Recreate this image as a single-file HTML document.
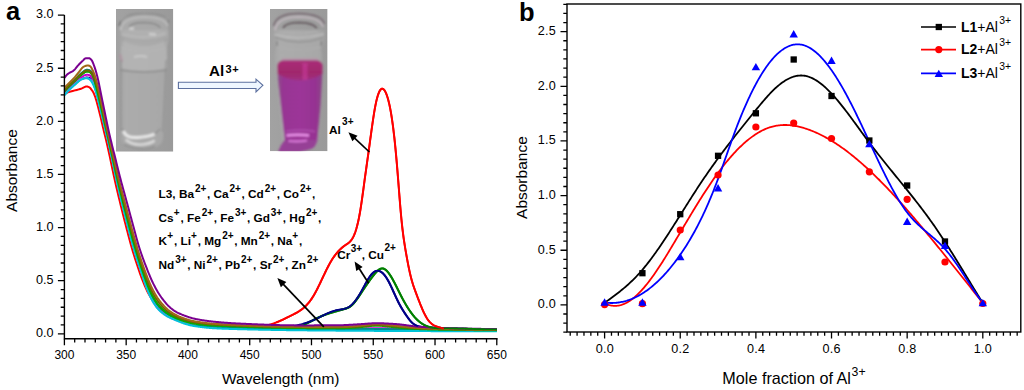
<!DOCTYPE html>
<html><head><meta charset="utf-8"><style>
html,body{margin:0;padding:0;background:#fff;width:1024px;height:390px;overflow:hidden}
svg{display:block}
text{font-family:"Liberation Sans",sans-serif;fill:#000}
.tk{font-size:12px}
.tky{font-size:12.6px}
.tkb{font-size:12.6px;letter-spacing:0.25px}
.axl{font-size:15.5px}
.axl2{font-size:16.2px}
.plab{font-size:25.5px;font-weight:bold}
.lg{font-size:14px}
.lsup{font-size:10.4px}
.sup2{font-size:12.3px}
.bl14{font-size:15.2px;font-weight:bold}
.bsup{font-size:11px;font-weight:bold;letter-spacing:0.6px}
.ion{font-size:11.8px;font-weight:bold}
.isup{font-size:10px}
</style></head><body>
<svg width="1024" height="390" viewBox="0 0 1024 390">
<rect width="1024" height="390" fill="#fff"/>
<defs>
<linearGradient id="bg1" x1="0" x2="1" y1="0" y2="0">
 <stop offset="0" stop-color="#a2a2a2"/><stop offset="0.5" stop-color="#9e9e9e"/><stop offset="1" stop-color="#9a9a9a"/>
</linearGradient>
<linearGradient id="gl1" x1="0" x2="1" y1="0" y2="0">
 <stop offset="0" stop-color="#a4a4a4"/><stop offset="0.12" stop-color="#acacac"/><stop offset="0.5" stop-color="#aaaaaa"/><stop offset="0.88" stop-color="#a8a8a8"/><stop offset="1" stop-color="#a0a0a0"/>
</linearGradient>
<linearGradient id="liq" x1="0" x2="1" y1="0" y2="0">
 <stop offset="0" stop-color="#8e4a8a"/><stop offset="0.15" stop-color="#983494"/><stop offset="0.5" stop-color="#9c3698"/><stop offset="0.85" stop-color="#963292"/><stop offset="1" stop-color="#8a4686"/>
</linearGradient>
<linearGradient id="men" x1="0" x2="0" y1="0" y2="1">
 <stop offset="0" stop-color="#aa2e78"/><stop offset="0.6" stop-color="#a0286c"/><stop offset="1" stop-color="#a03080"/>
</linearGradient>
<filter id="soft" x="-5%" y="-5%" width="110%" height="110%"><feGaussianBlur stdDeviation="0.8"/></filter>
<clipPath id="c1"><rect x="116" y="9" width="57.3" height="142.7"/></clipPath>
<clipPath id="c2"><rect x="270" y="9" width="57.6" height="142.3"/></clipPath>
</defs>
<g clip-path="url(#c1)">
<rect x="116" y="9" width="57.3" height="142.7" fill="url(#bg1)"/>
<g filter="url(#soft)">
<path d="M119.5,30 L119.5,40 Q121,45 121.5,48 L119.5,56 L121,138 Q122,149 143,149 Q162,149 163,138 L167,56 L165,48 Q168,45 169.5,40 L169.5,30 Z" fill="url(#gl1)"/>
<path d="M119.2,26 Q121,13.7 144.4,13.7 Q167,14 168.6,22.5" stroke="#6c6c6c" stroke-width="1.4" fill="none"/>
<path d="M120.5,30 Q122.5,17.5 144.4,17 Q165.5,17.5 167.5,26" stroke="#c8c8c8" stroke-width="1.6" fill="none"/>
<path d="M128.6,27.5 Q131,22.5 144.4,22.5 Q158,23 160.2,28" stroke="#5c5c5c" stroke-width="1.6" fill="none"/>
<path d="M129,30 Q144,35 160,30" stroke="#b4b4b4" stroke-width="1.2" fill="none"/>
<path d="M122.3,34.3 Q144.4,40 165.5,33.2" stroke="#c0c0c0" stroke-width="1.5" fill="none"/>
<path d="M120.5,37 Q144.4,46 167,37" stroke="#8a8a8a" stroke-width="1" fill="none"/>
<path d="M129,28.5 L134,28.5" stroke="#ececec" stroke-width="2.4" fill="none"/>
<path d="M149,34 L156,34.5" stroke="#e4e4e4" stroke-width="2.4" fill="none"/>
<path d="M122,40 L122.3,46 M165.5,40 L165.3,46" stroke="#7c7c7c" stroke-width="1.2" fill="none"/>
<path d="M121.5,48 Q144.8,55 165,48" stroke="#b0b0b0" stroke-width="1.2" fill="none"/>
<path d="M121,40 Q144,52 167,40 L167,68 Q144,74 121,68 Z" fill="#b6b6b6" opacity="0.7"/>
<path d="M121,18 Q144,8 168,18 L168,38 Q144,48 121,38 Z" fill="#b4b4b4" opacity="0.5"/>
<path d="M134,57 Q141,55 147,57" stroke="#c8c8c8" stroke-width="2" fill="none"/>
<path d="M120,54 L122,62" stroke="#b090a0" stroke-width="2.5" opacity="0.7"/>
<path d="M120,70 Q144,74 167,70" stroke="#8e8e8e" stroke-width="1.5" fill="none"/>
<path d="M121,60 L121,131" stroke="#8a8a8a" stroke-width="1"/>
<path d="M166,60 L162.5,132" stroke="#909090" stroke-width="1"/>
<path d="M122.6,128.5 Q124,138 142,137 Q156,136 160.3,128.5" stroke="#8c8c8c" stroke-width="1.2" fill="none"/>
<path d="M123.4,131 Q126,138.5 138,137.5 Q150,136.5 154.6,134" stroke="#e8e8e8" stroke-width="3" fill="none"/>
<path d="M125.8,139.7 Q132,145 141,144.6 Q150,144 154.6,140.5" stroke="#dcdcdc" stroke-width="2.4" fill="none"/>
<path d="M124.2,144.6 Q135,149 145,148.5 Q152,148 155,146" stroke="#8a8a8a" stroke-width="1.2" fill="none"/>
</g>
</g>
<g clip-path="url(#c2)">
<rect x="270" y="9" width="57.6" height="142.3" fill="url(#bg1)"/>
<g filter="url(#soft)">
<path d="M273.7,30 L273.7,40 Q275.5,45 276,48 L274.5,56 L283,140 Q286,150 300,150 Q315,150 318,140 L322.5,56 L321,48 Q324,45 324.5,40 L324.5,30 Z" fill="url(#gl1)"/>
<path d="M273.7,26 Q276,13.5 299,13.5 Q322,14 324.5,24" stroke="#74646e" stroke-width="1.4" fill="none"/>
<path d="M275,30 Q277.5,17 299,17 Q320.5,17.5 323,27" stroke="#c8bcc4" stroke-width="1.6" fill="none"/>
<path d="M283,28 Q286,22.5 299.5,22.5 Q314,23 316.8,28.5" stroke="#5e5258" stroke-width="1.6" fill="none"/>
<path d="M283,31 Q300,36 317,31" stroke="#b0b0b0" stroke-width="1.2" fill="none"/>
<path d="M274.5,34.5 Q299,41 324,34" stroke="#bcbcbc" stroke-width="1.5" fill="none"/>
<path d="M275,37.5 Q299,46.5 322.5,38" stroke="#8a8a8a" stroke-width="1" fill="none"/>
<path d="M276.8,41 L277,46 M321.4,41 L321.2,46" stroke="#7c7c7c" stroke-width="1.2" fill="none"/>
<path d="M276.8,47 Q299,53 321.4,47" stroke="#aeaeae" stroke-width="1.2" fill="none"/>
<path d="M277.4,66 Q277.6,60.5 284,60.5 L316,60.5 Q322.3,60.5 322.4,66 L322,80 L320.6,104 L317.2,141.6 Q312,145 300,145 Q289,145 284.9,141.6 L280.6,104 L277.8,80 Z" fill="url(#liq)"/>
<path d="M277.4,66 Q277.6,60.5 284,60.5 L316,60.5 Q322.3,60.5 322.4,66 L322.3,74 Q300,87 277.7,74 Z" fill="url(#men)"/>
<path d="M305,63 L305,80" stroke="#c83a9c" stroke-width="5" opacity="0.6"/>
<path d="M282,59 L318,59" stroke="#b890a8" stroke-width="1.5" opacity="0.8"/>
<path d="M284.5,140 L317.5,140 Q316,147 311,149 L300,152 L278,152 Q280,146 284.5,140 Z" fill="#964096"/>
<path d="M286,131.5 Q300,129 315,131.5" stroke="#b050b0" stroke-width="1.5" fill="none"/>
<path d="M286.5,135.5 Q298,134 309,135.5" stroke="#e890e8" stroke-width="2.6" fill="none"/>
<path d="M288.5,141 Q298,142 307,140.5" stroke="#d878d8" stroke-width="2.2" fill="none"/>
</g>
</g>

<path d="M64.40,94.09 L64.90,93.89 L65.40,93.59 L65.90,93.30 L66.40,93.03 L66.90,92.78 L67.40,92.55 L67.90,92.35 L68.40,92.16 L68.90,92.00 L69.40,91.85 L69.90,91.71 L70.40,91.57 L70.90,91.44 L71.40,91.31 L71.90,91.17 L72.40,91.04 L72.90,90.91 L73.40,90.78 L73.90,90.65 L74.40,90.53 L74.90,90.40 L75.40,90.28 L75.90,90.16 L76.40,90.03 L76.90,89.91 L77.40,89.78 L77.90,89.65 L78.40,89.52 L78.90,89.38 L79.40,89.23 L79.90,89.08 L80.40,88.93 L80.90,88.75 L81.40,88.54 L81.90,88.31 L82.40,88.06 L82.90,87.80 L83.40,87.54 L83.90,87.29 L84.40,87.06 L84.90,86.86 L85.40,86.70 L85.90,86.58 L86.40,86.53 L86.90,86.53 L87.40,86.59 L87.90,86.70 L88.40,86.85 L88.90,87.04 L89.40,87.30 L89.90,87.69 L90.40,88.21 L90.90,88.84 L91.40,89.56 L91.90,90.25 L92.40,90.94 L92.90,91.67 L93.40,92.55 L93.90,93.60 L94.40,94.78 L94.90,96.09 L95.40,97.53 L95.90,99.09 L96.40,100.77 L96.90,102.55 L97.40,104.39 L97.90,106.28 L98.40,108.21 L98.90,110.17 L99.40,112.18 L99.90,114.22 L100.40,116.29 L100.90,118.39 L101.40,120.52 L101.90,122.67 L102.40,124.83 L102.90,126.97 L103.40,129.09 L103.90,131.17 L104.40,133.21 L104.90,135.24 L105.40,137.27 L105.90,139.33 L106.40,141.42 L106.90,143.57 L107.40,145.76 L107.90,147.99 L108.40,150.25 L108.90,152.52 L109.40,154.82 L109.90,157.13 L110.40,159.47 L110.90,161.83 L111.40,164.21 L111.90,166.60 L112.40,169.00 L112.90,171.38 L113.40,173.74 L113.90,176.07 L114.40,178.35 L114.90,180.60 L115.40,182.81 L115.90,185.00 L116.40,187.17 L116.90,189.31 L117.40,191.44 L117.90,193.55 L118.40,195.65 L118.90,197.74 L119.40,199.81 L119.90,201.88 L120.40,203.93 L120.90,205.97 L121.40,208.00 L121.90,210.01 L122.40,212.02 L122.90,214.01 L123.40,216.00 L123.90,217.97 L124.40,219.93 L124.90,221.89 L125.40,223.83 L125.90,225.77 L126.40,227.71 L126.90,229.64 L127.40,231.57 L127.90,233.49 L128.40,235.40 L128.90,237.30 L129.40,239.18 L129.90,241.04 L130.40,242.88 L130.90,244.70 L131.40,246.48 L131.90,248.23 L132.40,249.95 L132.90,251.64 L133.40,253.30 L133.90,254.93 L134.40,256.54 L134.90,258.12 L135.40,259.69 L135.90,261.23 L136.40,262.77 L136.90,264.29 L137.40,265.80 L137.90,267.30 L138.40,268.80 L138.90,270.30 L139.40,271.81 L139.90,273.26 L140.40,274.66 L140.90,275.99 L141.40,277.31 L141.90,278.62 L142.40,279.91 L142.90,281.19 L143.40,282.44 L143.90,283.68 L144.40,284.88 L144.90,286.06 L145.40,287.21 L145.90,288.32 L146.40,289.40 L146.90,290.45 L147.40,291.47 L147.90,292.46 L148.40,293.42 L148.90,294.34 L149.40,295.22 L149.90,296.06 L150.40,296.87 L150.90,297.65 L151.40,298.39 L151.90,299.11 L152.40,299.81 L152.90,300.49 L153.40,301.14 L153.90,301.77 L154.40,302.38 L154.90,302.96 L155.40,303.52 L155.90,304.06 L156.40,304.57 L156.90,305.07 L157.40,305.54 L157.90,306.00 L158.40,306.45 L158.90,306.88 L159.40,307.30 L159.90,307.70 L160.40,308.10 L160.90,308.49 L161.40,308.86 L161.90,309.23 L162.40,309.58 L162.90,309.93 L163.40,310.26 L163.90,310.59 L164.40,310.91 L164.90,311.23 L165.40,311.54 L165.90,311.84 L166.40,312.14 L166.90,312.42 L167.40,312.70 L167.90,312.98 L168.40,313.24 L168.90,313.49 L169.40,313.73 L169.90,313.97 L170.40,314.21 L170.90,314.44 L171.40,314.67 L171.90,314.89 L172.40,315.11 L172.90,315.32 L173.40,315.53 L173.90,315.74 L174.40,315.94 L174.90,316.14 L175.40,316.33 L175.90,316.51 L176.40,316.70 L176.90,316.87 L177.40,317.05 L177.90,317.22 L178.40,317.39 L178.90,317.55 L179.40,317.71 L179.90,317.88 L180.40,318.07 L180.90,318.27 L181.40,318.47 L181.90,318.67 L182.40,318.87 L182.90,319.05 L183.40,319.24 L183.90,319.42 L184.40,319.59 L184.90,319.77 L185.40,319.93 L185.90,320.10 L186.40,320.26 L186.90,320.43 L187.40,320.59 L187.90,320.74 L188.40,320.90 L188.90,321.05 L189.40,321.20 L189.90,321.34 L190.40,321.48 L190.90,321.62 L191.40,321.74 L191.90,321.87 L192.40,321.99 L192.90,322.10 L193.40,322.20 L193.90,322.30 L194.40,322.39 L194.90,322.48 L195.40,322.57 L195.90,322.66 L196.40,322.75 L196.90,322.84 L197.40,322.92 L197.90,323.00 L198.40,323.09 L198.90,323.17 L199.40,323.24 L199.90,323.32 L200.40,323.40 L200.90,323.47 L201.40,323.55 L201.90,323.62 L202.40,323.69 L202.90,323.76 L203.40,323.83 L203.90,323.89 L204.40,323.96 L204.90,324.02 L205.40,324.09 L205.90,324.15 L206.40,324.21 L206.90,324.27 L207.40,324.33 L207.90,324.38 L208.40,324.44 L208.90,324.49 L209.40,324.54 L209.90,324.60 L210.40,324.65 L210.90,324.69 L211.40,324.74 L211.90,324.79 L212.40,324.83 L212.90,324.88 L213.40,324.92 L213.90,324.96 L214.40,325.00 L214.90,325.04 L215.40,325.08 L215.90,325.12 L216.40,325.16 L216.90,325.19 L217.40,325.23 L217.90,325.26 L218.40,325.30 L218.90,325.33 L219.40,325.37 L219.90,325.40 L220.40,325.43 L220.90,325.47 L221.40,325.50 L221.90,325.53 L222.40,325.56 L222.90,325.59 L223.40,325.62 L223.90,325.65 L224.40,325.68 L224.90,325.71 L225.40,325.74 L225.90,325.77 L226.40,325.80 L226.90,325.82 L227.40,325.85 L227.90,325.88 L228.40,325.90 L228.90,325.93 L229.40,325.95 L229.90,325.98 L230.40,326.00 L230.90,326.03 L231.40,326.05 L231.90,326.07 L232.40,326.10 L232.90,326.12 L233.40,326.14 L233.90,326.16 L234.40,326.18 L234.90,326.20 L235.40,326.22 L235.90,326.25 L236.40,326.27 L236.90,326.28 L237.40,326.30 L237.90,326.32 L238.40,326.34 L238.90,326.36 L239.40,326.38 L239.90,326.40 L240.40,326.41 L240.90,326.43 L241.40,326.45 L241.90,326.47 L242.40,326.48 L242.90,326.50 L243.40,326.52 L243.90,326.54 L244.40,326.55 L244.90,326.57 L245.40,326.59 L245.90,326.61 L246.40,326.62 L246.90,326.64 L247.40,326.66 L247.90,326.67 L248.40,326.69 L248.90,326.71 L249.40,326.72 L249.90,326.73 L250.40,326.73 L250.90,326.72 L251.40,326.71 L251.90,326.71 L252.40,326.71 L252.90,326.71 L253.40,326.72 L253.90,326.73 L254.40,326.74 L254.90,326.75 L255.40,326.76 L255.90,326.76 L256.40,326.77 L256.90,326.77 L257.40,326.77 L257.90,326.76 L258.40,326.75 L258.90,326.74 L259.40,326.71 L259.90,326.68 L260.40,326.65 L260.90,326.60 L261.40,326.55 L261.90,326.48 L262.40,326.41 L262.90,326.32 L263.40,326.23 L263.90,326.12 L264.40,326.00 L264.90,325.89 L265.40,325.77 L265.90,325.67 L266.40,325.56 L266.90,325.45 L267.40,325.33 L267.90,325.21 L268.40,325.08 L268.90,324.95 L269.40,324.81 L269.90,324.66 L270.40,324.51 L270.90,324.36 L271.40,324.20 L271.90,324.04 L272.40,323.88 L272.90,323.71 L273.40,323.53 L273.90,323.35 L274.40,323.17 L274.90,322.98 L275.40,322.79 L275.90,322.60 L276.40,322.40 L276.90,322.20 L277.40,322.00 L277.90,321.79 L278.40,321.59 L278.90,321.37 L279.40,321.16 L279.90,320.94 L280.40,320.72 L280.90,320.50 L281.40,320.27 L281.90,320.04 L282.40,319.81 L282.90,319.58 L283.40,319.35 L283.90,319.11 L284.40,318.88 L284.90,318.64 L285.40,318.40 L285.90,318.16 L286.40,317.91 L286.90,317.67 L287.40,317.42 L287.90,317.18 L288.40,316.93 L288.90,316.68 L289.40,316.43 L289.90,316.19 L290.40,315.94 L290.90,315.69 L291.40,315.44 L291.90,315.19 L292.40,314.94 L292.90,314.68 L293.40,314.43 L293.90,314.18 L294.40,313.92 L294.90,313.65 L295.40,313.39 L295.90,313.12 L296.40,312.84 L296.90,312.56 L297.40,312.27 L297.90,311.97 L298.40,311.67 L298.90,311.36 L299.40,311.04 L299.90,310.70 L300.40,310.36 L300.90,310.01 L301.40,309.65 L301.90,309.28 L302.40,308.89 L302.90,308.49 L303.40,308.08 L303.90,307.65 L304.40,307.20 L304.90,306.75 L305.40,306.27 L305.90,305.78 L306.40,305.27 L306.90,304.75 L307.40,304.20 L307.90,303.64 L308.40,303.05 L308.90,302.45 L309.40,301.83 L309.90,301.18 L310.40,300.51 L310.90,299.82 L311.40,299.11 L311.90,298.37 L312.40,297.61 L312.90,296.82 L313.40,296.01 L313.90,295.17 L314.40,294.31 L314.90,293.42 L315.40,292.51 L315.90,291.58 L316.40,290.63 L316.90,289.67 L317.40,288.68 L317.90,287.69 L318.40,286.68 L318.90,285.65 L319.40,284.62 L319.90,283.58 L320.40,282.53 L320.90,281.48 L321.40,280.42 L321.90,279.36 L322.40,278.29 L322.90,277.23 L323.40,276.17 L323.90,275.11 L324.40,274.06 L324.90,273.02 L325.40,271.98 L325.90,270.95 L326.40,269.93 L326.90,268.92 L327.40,267.93 L327.90,266.95 L328.40,265.99 L328.90,265.05 L329.40,264.12 L329.90,263.22 L330.40,262.34 L330.90,261.48 L331.40,260.65 L331.90,259.84 L332.40,259.05 L332.90,258.29 L333.40,257.54 L333.90,256.82 L334.40,256.12 L334.90,255.43 L335.40,254.77 L335.90,254.13 L336.40,253.51 L336.90,252.90 L337.40,252.32 L337.90,251.75 L338.40,251.20 L338.90,250.67 L339.40,250.15 L339.90,249.65 L340.40,249.16 L340.90,248.70 L341.40,248.24 L341.90,247.80 L342.40,247.38 L342.90,246.97 L343.40,246.57 L343.90,246.18 L344.40,245.81 L344.90,245.45 L345.40,245.10 L345.90,244.76 L346.40,244.43 L346.90,244.10 L347.40,243.76 L347.90,243.40 L348.40,243.03 L348.90,242.63 L349.40,242.19 L349.90,241.71 L350.40,241.19 L350.90,240.60 L351.40,239.96 L351.90,239.25 L352.40,238.46 L352.90,237.58 L353.40,236.62 L353.90,235.56 L354.40,234.40 L354.90,233.12 L355.40,231.73 L355.90,230.21 L356.40,228.57 L356.90,226.78 L357.40,224.85 L357.90,222.76 L358.40,220.52 L358.90,218.11 L359.40,215.52 L359.90,212.76 L360.40,209.81 L360.90,206.67 L361.40,203.37 L361.90,199.93 L362.40,196.38 L362.90,192.74 L363.40,189.05 L363.90,185.34 L364.40,181.64 L364.90,177.97 L365.40,174.35 L365.90,170.79 L366.40,167.25 L366.90,163.73 L367.40,160.21 L367.90,156.67 L368.40,153.10 L368.90,149.48 L369.40,145.83 L369.90,142.14 L370.40,138.45 L370.90,134.77 L371.40,131.13 L371.90,127.53 L372.40,124.02 L372.90,120.59 L373.40,117.28 L373.90,114.10 L374.40,111.07 L374.90,108.22 L375.40,105.56 L375.90,103.11 L376.40,100.85 L376.90,98.80 L377.40,96.95 L377.90,95.30 L378.40,93.84 L378.90,92.57 L379.40,91.48 L379.90,90.58 L380.40,89.86 L380.90,89.31 L381.40,88.94 L381.90,88.75 L382.40,88.71 L382.90,88.85 L383.40,89.14 L383.90,89.59 L384.40,90.20 L384.90,90.95 L385.40,91.86 L385.90,92.91 L386.40,94.11 L386.90,95.45 L387.40,96.95 L387.90,98.61 L388.40,100.44 L388.90,102.44 L389.40,104.63 L389.90,107.01 L390.40,109.59 L390.90,112.37 L391.40,115.37 L391.90,118.58 L392.40,122.02 L392.90,125.70 L393.40,129.62 L393.90,133.78 L394.40,138.20 L394.90,142.89 L395.40,147.85 L395.90,153.08 L396.40,158.59 L396.90,164.37 L397.40,170.37 L397.90,176.56 L398.40,182.88 L398.90,189.28 L399.40,195.65 L399.90,201.92 L400.40,207.96 L400.90,213.68 L401.40,219.01 L401.90,223.90 L402.40,228.38 L402.90,232.49 L403.40,236.29 L403.90,239.82 L404.40,243.13 L404.90,246.27 L405.40,249.29 L405.90,252.23 L406.40,255.10 L406.90,257.89 L407.40,260.62 L407.90,263.26 L408.40,265.82 L408.90,268.28 L409.40,270.65 L409.90,272.92 L410.40,275.08 L410.90,277.13 L411.40,279.06 L411.90,280.88 L412.40,282.58 L412.90,284.19 L413.40,285.72 L413.90,287.19 L414.40,288.60 L414.90,289.98 L415.40,291.34 L415.90,292.69 L416.40,294.04 L416.90,295.39 L417.40,296.73 L417.90,298.06 L418.40,299.37 L418.90,300.68 L419.40,301.97 L419.90,303.25 L420.40,304.51 L420.90,305.74 L421.40,306.96 L421.90,308.15 L422.40,309.31 L422.90,310.44 L423.40,311.54 L423.90,312.61 L424.40,313.64 L424.90,314.64 L425.40,315.59 L425.90,316.50 L426.40,317.37 L426.90,318.20 L427.40,318.97 L427.90,319.70 L428.40,320.38 L428.90,321.01 L429.40,321.60 L429.90,322.14 L430.40,322.65 L430.90,323.12 L431.40,323.55 L431.90,323.95 L432.40,324.32 L432.90,324.66 L433.40,324.97 L433.90,325.26 L434.40,325.53 L434.90,325.78 L435.40,326.01 L435.90,326.22 L436.40,326.42 L436.90,326.61 L437.40,326.79 L437.90,326.96 L438.40,327.13 L438.90,327.29 L439.40,327.44 L439.90,327.59 L440.40,327.73 L440.90,327.86 L441.40,327.99 L441.90,328.11 L442.40,328.23 L442.90,328.34 L443.40,328.45 L443.90,328.55 L444.40,328.65 L444.90,328.74 L445.40,328.83 L445.90,328.91 L446.40,328.99 L446.90,329.06 L447.40,329.13 L447.90,329.19 L448.40,329.25 L448.90,329.31 L449.40,329.36 L449.90,329.41 L450.40,329.46 L450.90,329.50 L451.40,329.54 L451.90,329.57 L452.40,329.61 L452.90,329.64 L453.40,329.66 L453.90,329.69 L454.40,329.71 L454.90,329.73 L455.40,329.74 L455.90,329.76 L456.40,329.77 L456.90,329.78 L457.40,329.79 L457.90,329.80 L458.40,329.81 L458.90,329.81 L459.40,329.81 L459.90,329.82 L460.40,329.82 L460.90,329.82 L461.40,329.82 L461.90,329.81 L462.40,329.81 L462.90,329.81 L463.40,329.81 L463.90,329.80 L464.40,329.80 L464.90,329.80 L465.40,329.80 L465.90,329.79 L466.40,329.79 L466.90,329.79 L467.40,329.79 L467.90,329.79 L468.40,329.79 L468.90,329.80 L469.40,329.80 L469.90,329.81 L470.40,329.81 L470.90,329.82 L471.40,329.83 L471.90,329.84 L472.40,329.85 L472.90,329.87 L473.40,329.88 L473.90,329.90 L474.40,329.91 L474.90,329.93 L475.40,329.95 L475.90,329.97 L476.40,329.99 L476.90,330.01 L477.40,330.03 L477.90,330.05 L478.40,330.07 L478.90,330.09 L479.40,330.12 L479.90,330.14 L480.40,330.16 L480.90,330.18 L481.40,330.20 L481.90,330.23 L482.40,330.25 L482.90,330.27 L483.40,330.29 L483.90,330.31 L484.40,330.33 L484.90,330.35 L485.40,330.37 L485.90,330.39 L486.40,330.41 L486.90,330.43 L487.40,330.44 L487.90,330.46 L488.40,330.47 L488.90,330.49 L489.40,330.50 L489.90,330.51 L490.40,330.52 L490.90,330.53 L491.40,330.54 L491.90,330.54 L492.40,330.54 L492.90,330.55 L493.40,330.55 L493.90,330.54 L494.40,330.54 L494.90,330.54 L495.40,330.53 L495.90,330.52 L496.40,330.51 L496.90,330.50" stroke="#ff0000" stroke-width="2.0" fill="none"/>
<path d="M64.40,93.67 L64.90,93.35 L65.40,92.83 L65.90,92.26 L66.40,91.70 L66.90,91.15 L67.40,90.62 L67.90,90.10 L68.40,89.60 L68.90,89.11 L69.40,88.63 L69.90,88.17 L70.40,87.72 L70.90,87.29 L71.40,86.86 L71.90,86.44 L72.40,86.03 L72.90,85.62 L73.40,85.22 L73.90,84.82 L74.40,84.41 L74.90,84.00 L75.40,83.58 L75.90,83.16 L76.40,82.72 L76.90,82.29 L77.40,81.87 L77.90,81.45 L78.40,81.04 L78.90,80.66 L79.40,80.29 L79.90,79.96 L80.40,79.65 L80.90,79.38 L81.40,79.14 L81.90,78.93 L82.40,78.74 L82.90,78.56 L83.40,78.39 L83.90,78.22 L84.40,78.07 L84.90,77.94 L85.40,77.82 L85.90,77.73 L86.40,77.66 L86.90,77.63 L87.40,77.63 L87.90,77.67 L88.40,77.75 L88.90,77.86 L89.40,78.02 L89.90,78.27 L90.40,78.61 L90.90,79.08 L91.40,79.68 L91.90,80.41 L92.40,81.28 L92.90,82.27 L93.40,83.36 L93.90,84.54 L94.40,85.80 L94.90,87.16 L95.40,88.62 L95.90,90.18 L96.40,91.85 L96.90,93.61 L97.40,95.48 L97.90,97.43 L98.40,99.43 L98.90,101.45 L99.40,103.46 L99.90,105.48 L100.40,107.50 L100.90,109.55 L101.40,111.61 L101.90,113.70 L102.40,115.81 L102.90,117.94 L103.40,120.11 L103.90,122.30 L104.40,124.49 L104.90,126.66 L105.40,128.79 L105.90,130.88 L106.40,132.93 L106.90,134.96 L107.40,137.01 L107.90,139.10 L108.40,141.24 L108.90,143.41 L109.40,145.63 L109.90,147.86 L110.40,150.12 L110.90,152.40 L111.40,154.68 L111.90,156.98 L112.40,159.29 L112.90,161.63 L113.40,163.99 L113.90,166.37 L114.40,168.74 L114.90,171.09 L115.40,173.42 L115.90,175.70 L116.40,177.95 L116.90,180.16 L117.40,182.35 L117.90,184.51 L118.40,186.66 L118.90,188.78 L119.40,190.89 L119.90,192.98 L120.40,195.06 L120.90,197.13 L121.40,199.19 L121.90,201.23 L122.40,203.26 L122.90,205.28 L123.40,207.29 L123.90,209.28 L124.40,211.27 L124.90,213.25 L125.40,215.21 L125.90,217.17 L126.40,219.12 L126.90,221.05 L127.40,222.99 L127.90,224.92 L128.40,226.84 L128.90,228.77 L129.40,230.69 L129.90,232.61 L130.40,234.51 L130.90,236.40 L131.40,238.28 L131.90,240.13 L132.40,241.97 L132.90,243.77 L133.40,245.55 L133.90,247.30 L134.40,249.02 L134.90,250.71 L135.40,252.37 L135.90,254.01 L136.40,255.62 L136.90,257.22 L137.40,258.79 L137.90,260.35 L138.40,261.89 L138.90,263.41 L139.40,264.93 L139.90,266.43 L140.40,267.93 L140.90,269.43 L141.40,270.93 L141.90,272.43 L142.40,273.93 L142.90,275.43 L143.40,276.92 L143.90,278.40 L144.40,279.86 L144.90,281.30 L145.40,282.73 L145.90,284.13 L146.40,285.50 L146.90,286.84 L147.40,288.14 L147.90,289.41 L148.40,290.64 L148.90,291.85 L149.40,293.02 L149.90,294.15 L150.40,295.25 L150.90,296.31 L151.40,297.31 L151.90,298.26 L152.40,299.17 L152.90,300.05 L153.40,300.90 L153.90,301.73 L154.40,302.54 L154.90,303.31 L155.40,304.07 L155.90,304.79 L156.40,305.48 L156.90,306.13 L157.40,306.76 L157.90,307.35 L158.40,307.91 L158.90,308.46 L159.40,308.98 L159.90,309.49 L160.40,309.98 L160.90,310.46 L161.40,310.92 L161.90,311.37 L162.40,311.80 L162.90,312.22 L163.40,312.63 L163.90,313.02 L164.40,313.39 L164.90,313.76 L165.40,314.11 L165.90,314.45 L166.40,314.78 L166.90,315.10 L167.40,315.40 L167.90,315.70 L168.40,315.98 L168.90,316.26 L169.40,316.53 L169.90,316.79 L170.40,317.04 L170.90,317.29 L171.40,317.53 L171.90,317.77 L172.40,318.01 L172.90,318.24 L173.40,318.47 L173.90,318.69 L174.40,318.91 L174.90,319.12 L175.40,319.33 L175.90,319.53 L176.40,319.72 L176.90,319.91 L177.40,320.10 L177.90,320.29 L178.40,320.48 L178.90,320.67 L179.40,320.85 L179.90,321.04 L180.40,321.21 L180.90,321.39 L181.40,321.56 L181.90,321.73 L182.40,321.89 L182.90,322.04 L183.40,322.20 L183.90,322.34 L184.40,322.48 L184.90,322.62 L185.40,322.75 L185.90,322.88 L186.40,323.01 L186.90,323.13 L187.40,323.25 L187.90,323.38 L188.40,323.49 L188.90,323.61 L189.40,323.72 L189.90,323.83 L190.40,323.93 L190.90,324.03 L191.40,324.12 L191.90,324.21 L192.40,324.29 L192.90,324.37 L193.40,324.44 L193.90,324.51 L194.40,324.57 L194.90,324.63 L195.40,324.69 L195.90,324.75 L196.40,324.81 L196.90,324.86 L197.40,324.92 L197.90,324.97 L198.40,325.02 L198.90,325.07 L199.40,325.12 L199.90,325.17 L200.40,325.22 L200.90,325.27 L201.40,325.31 L201.90,325.36 L202.40,325.40 L202.90,325.44 L203.40,325.49 L203.90,325.53 L204.40,325.56 L204.90,325.60 L205.40,325.64 L205.90,325.67 L206.40,325.71 L206.90,325.74 L207.40,325.77 L207.90,325.80 L208.40,325.83 L208.90,325.86 L209.40,325.89 L209.90,325.91 L210.40,325.94 L210.90,325.96 L211.40,325.99 L211.90,326.01 L212.40,326.03 L212.90,326.05 L213.40,326.06 L213.90,326.08 L214.40,326.10 L214.90,326.11 L215.40,326.13 L215.90,326.14 L216.40,326.15 L216.90,326.17 L217.40,326.18 L217.90,326.19 L218.40,326.20 L218.90,326.21 L219.40,326.22 L219.90,326.23 L220.40,326.25 L220.90,326.26 L221.40,326.26 L221.90,326.27 L222.40,326.28 L222.90,326.29 L223.40,326.30 L223.90,326.31 L224.40,326.32 L224.90,326.33 L225.40,326.35 L225.90,326.37 L226.40,326.40 L226.90,326.42 L227.40,326.45 L227.90,326.47 L228.40,326.50 L228.90,326.52 L229.40,326.54 L229.90,326.57 L230.40,326.59 L230.90,326.61 L231.40,326.63 L231.90,326.65 L232.40,326.68 L232.90,326.70 L233.40,326.72 L233.90,326.74 L234.40,326.76 L234.90,326.78 L235.40,326.80 L235.90,326.81 L236.40,326.83 L236.90,326.85 L237.40,326.87 L237.90,326.89 L238.40,326.91 L238.90,326.92 L239.40,326.94 L239.90,326.96 L240.40,326.97 L240.90,326.99 L241.40,327.01 L241.90,327.02 L242.40,327.04 L242.90,327.06 L243.40,327.07 L243.90,327.09 L244.40,327.10 L244.90,327.12 L245.40,327.14 L245.90,327.15 L246.40,327.17 L246.90,327.19 L247.40,327.20 L247.90,327.22 L248.40,327.23 L248.90,327.25 L249.40,327.27 L249.90,327.28 L250.40,327.28 L250.90,327.28 L251.40,327.28 L251.90,327.28 L252.40,327.27 L252.90,327.26 L253.40,327.24 L253.90,327.23 L254.40,327.21 L254.90,327.19 L255.40,327.17 L255.90,327.15 L256.40,327.13 L256.90,327.11 L257.40,327.08 L257.90,327.06 L258.40,327.04 L258.90,327.01 L259.40,326.99 L259.90,326.96 L260.40,326.94 L260.90,326.91 L261.40,326.89 L261.90,326.86 L262.40,326.84 L262.90,326.82 L263.40,326.80 L263.90,326.77 L264.40,326.75 L264.90,326.73 L265.40,326.71 L265.90,326.69 L266.40,326.67 L266.90,326.66 L267.40,326.64 L267.90,326.62 L268.40,326.61 L268.90,326.59 L269.40,326.58 L269.90,326.57 L270.40,326.57 L270.90,326.59 L271.40,326.61 L271.90,326.62 L272.40,326.64 L272.90,326.66 L273.40,326.67 L273.90,326.69 L274.40,326.70 L274.90,326.72 L275.40,326.73 L275.90,326.74 L276.40,326.76 L276.90,326.77 L277.40,326.78 L277.90,326.78 L278.40,326.79 L278.90,326.80 L279.40,326.80 L279.90,326.80 L280.40,326.80 L280.90,326.80 L281.40,326.80 L281.90,326.79 L282.40,326.79 L282.90,326.78 L283.40,326.77 L283.90,326.75 L284.40,326.74 L284.90,326.72 L285.40,326.70 L285.90,326.67 L286.40,326.65 L286.90,326.62 L287.40,326.59 L287.90,326.55 L288.40,326.52 L288.90,326.48 L289.40,326.43 L289.90,326.39 L290.40,326.34 L290.90,326.29 L291.40,326.23 L291.90,326.17 L292.40,326.11 L292.90,326.05 L293.40,325.98 L293.90,325.91 L294.40,325.83 L294.90,325.75 L295.40,325.67 L295.90,325.59 L296.40,325.50 L296.90,325.41 L297.40,325.31 L297.90,325.21 L298.40,325.11 L298.90,325.00 L299.40,324.89 L299.90,324.78 L300.40,324.66 L300.90,324.54 L301.40,324.41 L301.90,324.28 L302.40,324.15 L302.90,324.01 L303.40,323.86 L303.90,323.72 L304.40,323.57 L304.90,323.41 L305.40,323.25 L305.90,323.09 L306.40,322.92 L306.90,322.75 L307.40,322.57 L307.90,322.39 L308.40,322.20 L308.90,322.01 L309.40,321.81 L309.90,321.61 L310.40,321.41 L310.90,321.20 L311.40,320.99 L311.90,320.77 L312.40,320.55 L312.90,320.33 L313.40,320.11 L313.90,319.88 L314.40,319.65 L314.90,319.42 L315.40,319.18 L315.90,318.94 L316.40,318.71 L316.90,318.47 L317.40,318.23 L317.90,317.99 L318.40,317.74 L318.90,317.50 L319.40,317.26 L319.90,317.01 L320.40,316.77 L320.90,316.53 L321.40,316.29 L321.90,316.05 L322.40,315.81 L322.90,315.57 L323.40,315.33 L323.90,315.09 L324.40,314.86 L324.90,314.63 L325.40,314.40 L325.90,314.17 L326.40,313.95 L326.90,313.73 L327.40,313.51 L327.90,313.29 L328.40,313.08 L328.90,312.87 L329.40,312.67 L329.90,312.47 L330.40,312.28 L330.90,312.09 L331.40,311.90 L331.90,311.72 L332.40,311.55 L332.90,311.38 L333.40,311.22 L333.90,311.06 L334.40,310.91 L334.90,310.76 L335.40,310.62 L335.90,310.49 L336.40,310.37 L336.90,310.25 L337.40,310.14 L337.90,310.04 L338.40,309.95 L338.90,309.86 L339.40,309.77 L339.90,309.69 L340.40,309.61 L340.90,309.53 L341.40,309.45 L341.90,309.36 L342.40,309.27 L342.90,309.17 L343.40,309.07 L343.90,308.96 L344.40,308.83 L344.90,308.69 L345.40,308.54 L345.90,308.38 L346.40,308.20 L346.90,308.00 L347.40,307.78 L347.90,307.53 L348.40,307.27 L348.90,306.98 L349.40,306.67 L349.90,306.33 L350.40,305.96 L350.90,305.56 L351.40,305.13 L351.90,304.67 L352.40,304.19 L352.90,303.67 L353.40,303.13 L353.90,302.57 L354.40,301.98 L354.90,301.36 L355.40,300.72 L355.90,300.06 L356.40,299.37 L356.90,298.66 L357.40,297.93 L357.90,297.18 L358.40,296.41 L358.90,295.62 L359.40,294.81 L359.90,293.98 L360.40,293.14 L360.90,292.28 L361.40,291.40 L361.90,290.51 L362.40,289.60 L362.90,288.68 L363.40,287.76 L363.90,286.82 L364.40,285.89 L364.90,284.96 L365.40,284.04 L365.90,283.12 L366.40,282.21 L366.90,281.32 L367.40,280.45 L367.90,279.60 L368.40,278.77 L368.90,277.97 L369.40,277.21 L369.90,276.47 L370.40,275.78 L370.90,275.13 L371.40,274.52 L371.90,273.95 L372.40,273.43 L372.90,272.96 L373.40,272.54 L373.90,272.16 L374.40,271.82 L374.90,271.54 L375.40,271.30 L375.90,271.10 L376.40,270.96 L376.90,270.86 L377.40,270.81 L377.90,270.81 L378.40,270.86 L378.90,270.95 L379.40,271.09 L379.90,271.28 L380.40,271.51 L380.90,271.79 L381.40,272.12 L381.90,272.49 L382.40,272.90 L382.90,273.36 L383.40,273.86 L383.90,274.40 L384.40,274.99 L384.90,275.61 L385.40,276.28 L385.90,276.99 L386.40,277.74 L386.90,278.53 L387.40,279.36 L387.90,280.23 L388.40,281.13 L388.90,282.07 L389.40,283.03 L389.90,284.03 L390.40,285.05 L390.90,286.09 L391.40,287.15 L391.90,288.22 L392.40,289.31 L392.90,290.40 L393.40,291.51 L393.90,292.61 L394.40,293.72 L394.90,294.82 L395.40,295.92 L395.90,297.01 L396.40,298.09 L396.90,299.15 L397.40,300.20 L397.90,301.23 L398.40,302.23 L398.90,303.21 L399.40,304.16 L399.90,305.09 L400.40,305.99 L400.90,306.87 L401.40,307.74 L401.90,308.58 L402.40,309.41 L402.90,310.22 L403.40,311.01 L403.90,311.79 L404.40,312.56 L404.90,313.32 L405.40,314.07 L405.90,314.82 L406.40,315.55 L406.90,316.28 L407.40,316.99 L407.90,317.70 L408.40,318.38 L408.90,319.05 L409.40,319.69 L409.90,320.31 L410.40,320.90 L410.90,321.46 L411.40,321.99 L411.90,322.48 L412.40,322.94 L412.90,323.36 L413.40,323.75 L413.90,324.12 L414.40,324.45 L414.90,324.75 L415.40,325.03 L415.90,325.29 L416.40,325.52 L416.90,325.73 L417.40,325.92 L417.90,326.09 L418.40,326.25 L418.90,326.38 L419.40,326.51 L419.90,326.62 L420.40,326.72 L420.90,326.81 L421.40,326.89 L421.90,326.96 L422.40,327.03 L422.90,327.09 L423.40,327.16 L423.90,327.21 L424.40,327.27 L424.90,327.32 L425.40,327.38 L425.90,327.43 L426.40,327.48 L426.90,327.52 L427.40,327.57 L427.90,327.61 L428.40,327.65 L428.90,327.69 L429.40,327.72 L429.90,327.76 L430.40,327.79 L430.90,327.83 L431.40,327.86 L431.90,327.89 L432.40,327.92 L432.90,327.94 L433.40,327.97 L433.90,327.99 L434.40,328.02 L434.90,328.04 L435.40,328.06 L435.90,328.08 L436.40,328.10 L436.90,328.12 L437.40,328.14 L437.90,328.15 L438.40,328.17 L438.90,328.18 L439.40,328.20 L439.90,328.21 L440.40,328.23 L440.90,328.24 L441.40,328.25 L441.90,328.27 L442.40,328.28 L442.90,328.29 L443.40,328.31 L443.90,328.32 L444.40,328.33 L444.90,328.34 L445.40,328.35 L445.90,328.37 L446.40,328.38 L446.90,328.39 L447.40,328.40 L447.90,328.42 L448.40,328.43 L448.90,328.44 L449.40,328.46 L449.90,328.47 L450.40,328.48 L450.90,328.50 L451.40,328.51 L451.90,328.52 L452.40,328.54 L452.90,328.55 L453.40,328.56 L453.90,328.58 L454.40,328.59 L454.90,328.60 L455.40,328.62 L455.90,328.63 L456.40,328.64 L456.90,328.66 L457.40,328.67 L457.90,328.69 L458.40,328.70 L458.90,328.71 L459.40,328.73 L459.90,328.74 L460.40,328.76 L460.90,328.77 L461.40,328.79 L461.90,328.80 L462.40,328.81 L462.90,328.83 L463.40,328.84 L463.90,328.86 L464.40,328.87 L464.90,328.89 L465.40,328.90 L465.90,328.92 L466.40,328.93 L466.90,328.95 L467.40,328.96 L467.90,328.97 L468.40,328.99 L468.90,329.00 L469.40,329.02 L469.90,329.03 L470.40,329.05 L470.90,329.06 L471.40,329.08 L471.90,329.09 L472.40,329.11 L472.90,329.12 L473.40,329.14 L473.90,329.15 L474.40,329.17 L474.90,329.18 L475.40,329.19 L475.90,329.21 L476.40,329.22 L476.90,329.24 L477.40,329.25 L477.90,329.27 L478.40,329.28 L478.90,329.30 L479.40,329.31 L479.90,329.33 L480.40,329.34 L480.90,329.35 L481.40,329.37 L481.90,329.38 L482.40,329.40 L482.90,329.41 L483.40,329.43 L483.90,329.44 L484.40,329.45 L484.90,329.47 L485.40,329.48 L485.90,329.50 L486.40,329.51 L486.90,329.52 L487.40,329.54 L487.90,329.55 L488.40,329.57 L488.90,329.58 L489.40,329.59 L489.90,329.61 L490.40,329.62 L490.90,329.63 L491.40,329.65 L491.90,329.66 L492.40,329.67 L492.90,329.69 L493.40,329.70 L493.90,329.71 L494.40,329.73 L494.90,329.74 L495.40,329.75 L495.90,329.76 L496.40,329.78 L496.90,329.79" stroke="#000088" stroke-width="2.1" fill="none"/>
<path d="M64.40,91.18 L64.90,90.87 L65.40,90.36 L65.90,89.80 L66.40,89.25 L66.90,88.71 L67.40,88.17 L67.90,87.64 L68.40,87.12 L68.90,86.61 L69.40,86.11 L69.90,85.62 L70.40,85.13 L70.90,84.66 L71.40,84.19 L71.90,83.73 L72.40,83.26 L72.90,82.80 L73.40,82.34 L73.90,81.87 L74.40,81.40 L74.90,80.92 L75.40,80.43 L75.90,79.93 L76.40,79.42 L76.90,78.92 L77.40,78.41 L77.90,77.91 L78.40,77.41 L78.90,76.93 L79.40,76.45 L79.90,76.00 L80.40,75.56 L80.90,75.14 L81.40,74.74 L81.90,74.34 L82.40,73.95 L82.90,73.55 L83.40,73.15 L83.90,72.76 L84.40,72.40 L84.90,72.09 L85.40,71.84 L85.90,71.66 L86.40,71.56 L86.90,71.52 L87.40,71.52 L87.90,71.54 L88.40,71.57 L88.90,71.64 L89.40,71.79 L89.90,72.04 L90.40,72.41 L90.90,72.87 L91.40,73.46 L91.90,74.19 L92.40,75.10 L92.90,76.21 L93.40,77.54 L93.90,79.03 L94.40,80.66 L94.90,82.39 L95.40,84.21 L95.90,86.12 L96.40,88.07 L96.90,90.03 L97.40,92.01 L97.90,94.01 L98.40,96.05 L98.90,98.12 L99.40,100.22 L99.90,102.32 L100.40,104.45 L100.90,106.58 L101.40,108.72 L101.90,110.87 L102.40,113.04 L102.90,115.23 L103.40,117.44 L103.90,119.67 L104.40,121.91 L104.90,124.13 L105.40,126.32 L105.90,128.47 L106.40,130.59 L106.90,132.69 L107.40,134.80 L107.90,136.93 L108.40,139.09 L108.90,141.28 L109.40,143.49 L109.90,145.72 L110.40,147.96 L110.90,150.20 L111.40,152.44 L111.90,154.69 L112.40,156.95 L112.90,159.23 L113.40,161.53 L113.90,163.83 L114.40,166.13 L114.90,168.42 L115.40,170.68 L115.90,172.91 L116.40,175.12 L116.90,177.30 L117.40,179.45 L117.90,181.59 L118.40,183.71 L118.90,185.81 L119.40,187.90 L119.90,189.97 L120.40,192.02 L120.90,194.06 L121.40,196.08 L121.90,198.09 L122.40,200.09 L122.90,202.07 L123.40,204.05 L123.90,206.01 L124.40,207.96 L124.90,209.91 L125.40,211.84 L125.90,213.78 L126.40,215.70 L126.90,217.62 L127.40,219.54 L127.90,221.45 L128.40,223.37 L128.90,225.28 L129.40,227.19 L129.90,229.09 L130.40,230.99 L130.90,232.87 L131.40,234.74 L131.90,236.59 L132.40,238.42 L132.90,240.24 L133.40,242.03 L133.90,243.79 L134.40,245.54 L134.90,247.26 L135.40,248.96 L135.90,250.64 L136.40,252.30 L136.90,253.93 L137.40,255.55 L137.90,257.14 L138.40,258.71 L138.90,260.26 L139.40,261.79 L139.90,263.31 L140.40,264.81 L140.90,266.31 L141.40,267.80 L141.90,269.29 L142.40,270.78 L142.90,272.25 L143.40,273.72 L143.90,275.17 L144.40,276.61 L144.90,278.03 L145.40,279.43 L145.90,280.81 L146.40,282.17 L146.90,283.49 L147.40,284.79 L147.90,286.06 L148.40,287.29 L148.90,288.50 L149.40,289.68 L149.90,290.83 L150.40,291.94 L150.90,293.01 L151.40,294.04 L151.90,295.02 L152.40,295.96 L152.90,296.87 L153.40,297.75 L153.90,298.61 L154.40,299.45 L154.90,300.26 L155.40,301.05 L155.90,301.80 L156.40,302.53 L156.90,303.23 L157.40,303.90 L157.90,304.54 L158.40,305.15 L158.90,305.74 L159.40,306.31 L159.90,306.87 L160.40,307.41 L160.90,307.93 L161.40,308.43 L161.90,308.93 L162.40,309.40 L162.90,309.86 L163.40,310.31 L163.90,310.75 L164.40,311.17 L164.90,311.58 L165.40,311.98 L165.90,312.37 L166.40,312.75 L166.90,313.11 L167.40,313.46 L167.90,313.80 L168.40,314.12 L168.90,314.44 L169.40,314.74 L169.90,315.04 L170.40,315.32 L170.90,315.60 L171.40,315.88 L171.90,316.15 L172.40,316.41 L172.90,316.67 L173.40,316.92 L173.90,317.17 L174.40,317.41 L174.90,317.65 L175.40,317.88 L175.90,318.10 L176.40,318.32 L176.90,318.54 L177.40,318.75 L177.90,318.96 L178.40,319.17 L178.90,319.38 L179.40,319.58 L179.90,319.78 L180.40,319.97 L180.90,320.17 L181.40,320.35 L181.90,320.53 L182.40,320.71 L182.90,320.89 L183.40,321.05 L183.90,321.22 L184.40,321.37 L184.90,321.53 L185.40,321.68 L185.90,321.82 L186.40,321.97 L186.90,322.11 L187.40,322.25 L187.90,322.39 L188.40,322.53 L188.90,322.66 L189.40,322.79 L189.90,322.91 L190.40,323.03 L190.90,323.15 L191.40,323.26 L191.90,323.36 L192.40,323.46 L192.90,323.56 L193.40,323.65 L193.90,323.73 L194.40,323.81 L194.90,323.88 L195.40,323.96 L195.90,324.03 L196.40,324.10 L196.90,324.17 L197.40,324.24 L197.90,324.31 L198.40,324.37 L198.90,324.44 L199.40,324.50 L199.90,324.57 L200.40,324.63 L200.90,324.69 L201.40,324.75 L201.90,324.81 L202.40,324.86 L202.90,324.92 L203.40,324.97 L203.90,325.03 L204.40,325.08 L204.90,325.13 L205.40,325.18 L205.90,325.23 L206.40,325.27 L206.90,325.32 L207.40,325.36 L207.90,325.41 L208.40,325.45 L208.90,325.49 L209.40,325.53 L209.90,325.57 L210.40,325.61 L210.90,325.64 L211.40,325.68 L211.90,325.71 L212.40,325.74 L212.90,325.78 L213.40,325.81 L213.90,325.83 L214.40,325.86 L214.90,325.89 L215.40,325.92 L215.90,325.94 L216.40,325.97 L216.90,325.99 L217.40,326.01 L217.90,326.04 L218.40,326.06 L218.90,326.08 L219.40,326.10 L219.90,326.13 L220.40,326.15 L220.90,326.17 L221.40,326.19 L221.90,326.21 L222.40,326.23 L222.90,326.25 L223.40,326.27 L223.90,326.28 L224.40,326.30 L224.90,326.32 L225.40,326.35 L225.90,326.37 L226.40,326.40 L226.90,326.42 L227.40,326.45 L227.90,326.47 L228.40,326.50 L228.90,326.52 L229.40,326.54 L229.90,326.57 L230.40,326.59 L230.90,326.61 L231.40,326.63 L231.90,326.65 L232.40,326.68 L232.90,326.70 L233.40,326.72 L233.90,326.74 L234.40,326.76 L234.90,326.78 L235.40,326.80 L235.90,326.81 L236.40,326.83 L236.90,326.85 L237.40,326.87 L237.90,326.89 L238.40,326.91 L238.90,326.92 L239.40,326.94 L239.90,326.96 L240.40,326.97 L240.90,326.99 L241.40,327.01 L241.90,327.02 L242.40,327.04 L242.90,327.06 L243.40,327.07 L243.90,327.09 L244.40,327.10 L244.90,327.12 L245.40,327.14 L245.90,327.15 L246.40,327.17 L246.90,327.19 L247.40,327.20 L247.90,327.22 L248.40,327.23 L248.90,327.25 L249.40,327.27 L249.90,327.28 L250.40,327.28 L250.90,327.27 L251.40,327.25 L251.90,327.23 L252.40,327.21 L252.90,327.18 L253.40,327.16 L253.90,327.12 L254.40,327.09 L254.90,327.06 L255.40,327.02 L255.90,326.99 L256.40,326.95 L256.90,326.91 L257.40,326.88 L257.90,326.84 L258.40,326.81 L258.90,326.77 L259.40,326.74 L259.90,326.71 L260.40,326.68 L260.90,326.66 L261.40,326.63 L261.90,326.61 L262.40,326.59 L262.90,326.58 L263.40,326.56 L263.90,326.55 L264.40,326.55 L264.90,326.55 L265.40,326.55 L265.90,326.55 L266.40,326.56 L266.90,326.57 L267.40,326.59 L267.90,326.60 L268.40,326.63 L268.90,326.65 L269.40,326.68 L269.90,326.72 L270.40,326.77 L270.90,326.84 L271.40,326.90 L271.90,326.97 L272.40,327.03 L272.90,327.10 L273.40,327.16 L273.90,327.23 L274.40,327.29 L274.90,327.36 L275.40,327.42 L275.90,327.49 L276.40,327.55 L276.90,327.61 L277.40,327.67 L277.90,327.72 L278.40,327.78 L278.90,327.84 L279.40,327.89 L279.90,327.94 L280.40,327.99 L280.90,328.03 L281.40,328.07 L281.90,328.11 L282.40,328.15 L282.90,328.19 L283.40,328.22 L283.90,328.24 L284.40,328.27 L284.90,328.29 L285.40,328.31 L285.90,328.32 L286.40,328.33 L286.90,328.33 L287.40,328.33 L287.90,328.32 L288.40,328.31 L288.90,328.30 L289.40,328.28 L289.90,328.25 L290.40,328.22 L290.90,328.19 L291.40,328.15 L291.90,328.10 L292.40,328.04 L292.90,327.98 L293.40,327.92 L293.90,327.85 L294.40,327.77 L294.90,327.68 L295.40,327.59 L295.90,327.49 L296.40,327.38 L296.90,327.26 L297.40,327.14 L297.90,327.01 L298.40,326.87 L298.90,326.72 L299.40,326.57 L299.90,326.40 L300.40,326.23 L300.90,326.05 L301.40,325.87 L301.90,325.67 L302.40,325.47 L302.90,325.26 L303.40,325.05 L303.90,324.83 L304.40,324.61 L304.90,324.38 L305.40,324.14 L305.90,323.90 L306.40,323.66 L306.90,323.41 L307.40,323.16 L307.90,322.91 L308.40,322.66 L308.90,322.40 L309.40,322.14 L309.90,321.88 L310.40,321.62 L310.90,321.35 L311.40,321.09 L311.90,320.83 L312.40,320.56 L312.90,320.30 L313.40,320.04 L313.90,319.78 L314.40,319.52 L314.90,319.26 L315.40,319.01 L315.90,318.75 L316.40,318.51 L316.90,318.26 L317.40,318.02 L317.90,317.78 L318.40,317.55 L318.90,317.32 L319.40,317.09 L319.90,316.87 L320.40,316.66 L320.90,316.45 L321.40,316.24 L321.90,316.03 L322.40,315.83 L322.90,315.64 L323.40,315.44 L323.90,315.25 L324.40,315.06 L324.90,314.88 L325.40,314.70 L325.90,314.52 L326.40,314.35 L326.90,314.17 L327.40,314.00 L327.90,313.84 L328.40,313.67 L328.90,313.51 L329.40,313.35 L329.90,313.19 L330.40,313.04 L330.90,312.88 L331.40,312.73 L331.90,312.58 L332.40,312.43 L332.90,312.28 L333.40,312.13 L333.90,311.99 L334.40,311.84 L334.90,311.70 L335.40,311.56 L335.90,311.42 L336.40,311.28 L336.90,311.14 L337.40,311.00 L337.90,310.86 L338.40,310.72 L338.90,310.58 L339.40,310.44 L339.90,310.30 L340.40,310.16 L340.90,310.02 L341.40,309.88 L341.90,309.74 L342.40,309.60 L342.90,309.46 L343.40,309.32 L343.90,309.17 L344.40,309.03 L344.90,308.88 L345.40,308.73 L345.90,308.58 L346.40,308.41 L346.90,308.23 L347.40,308.04 L347.90,307.83 L348.40,307.60 L348.90,307.35 L349.40,307.07 L349.90,306.76 L350.40,306.42 L350.90,306.04 L351.40,305.63 L351.90,305.19 L352.40,304.71 L352.90,304.21 L353.40,303.68 L353.90,303.12 L354.40,302.53 L354.90,301.93 L355.40,301.30 L355.90,300.65 L356.40,299.98 L356.90,299.30 L357.40,298.60 L357.90,297.88 L358.40,297.16 L358.90,296.42 L359.40,295.67 L359.90,294.92 L360.40,294.16 L360.90,293.40 L361.40,292.64 L361.90,291.87 L362.40,291.11 L362.90,290.35 L363.40,289.60 L363.90,288.84 L364.40,288.09 L364.90,287.35 L365.40,286.61 L365.90,285.87 L366.40,285.13 L366.90,284.41 L367.40,283.68 L367.90,282.97 L368.40,282.25 L368.90,281.55 L369.40,280.85 L369.90,280.16 L370.40,279.47 L370.90,278.79 L371.40,278.12 L371.90,277.46 L372.40,276.81 L372.90,276.16 L373.40,275.53 L373.90,274.90 L374.40,274.28 L374.90,273.68 L375.40,273.09 L375.90,272.52 L376.40,271.97 L376.90,271.45 L377.40,270.96 L377.90,270.51 L378.40,270.08 L378.90,269.70 L379.40,269.37 L379.90,269.08 L380.40,268.84 L380.90,268.65 L381.40,268.52 L381.90,268.45 L382.40,268.44 L382.90,268.50 L383.40,268.62 L383.90,268.79 L384.40,269.03 L384.90,269.32 L385.40,269.66 L385.90,270.05 L386.40,270.49 L386.90,270.98 L387.40,271.52 L387.90,272.09 L388.40,272.71 L388.90,273.37 L389.40,274.06 L389.90,274.79 L390.40,275.55 L390.90,276.34 L391.40,277.16 L391.90,278.01 L392.40,278.88 L392.90,279.78 L393.40,280.70 L393.90,281.63 L394.40,282.58 L394.90,283.55 L395.40,284.53 L395.90,285.52 L396.40,286.52 L396.90,287.52 L397.40,288.53 L397.90,289.54 L398.40,290.55 L398.90,291.56 L399.40,292.57 L399.90,293.57 L400.40,294.57 L400.90,295.55 L401.40,296.52 L401.90,297.48 L402.40,298.43 L402.90,299.37 L403.40,300.29 L403.90,301.19 L404.40,302.09 L404.90,302.97 L405.40,303.83 L405.90,304.69 L406.40,305.52 L406.90,306.35 L407.40,307.15 L407.90,307.95 L408.40,308.72 L408.90,309.49 L409.40,310.24 L409.90,310.97 L410.40,311.68 L410.90,312.39 L411.40,313.07 L411.90,313.74 L412.40,314.39 L412.90,315.03 L413.40,315.65 L413.90,316.25 L414.40,316.84 L414.90,317.40 L415.40,317.96 L415.90,318.49 L416.40,319.01 L416.90,319.51 L417.40,319.99 L417.90,320.45 L418.40,320.90 L418.90,321.32 L419.40,321.74 L419.90,322.13 L420.40,322.51 L420.90,322.88 L421.40,323.23 L421.90,323.56 L422.40,323.88 L422.90,324.18 L423.40,324.48 L423.90,324.75 L424.40,325.02 L424.90,325.27 L425.40,325.51 L425.90,325.73 L426.40,325.95 L426.90,326.15 L427.40,326.34 L427.90,326.52 L428.40,326.69 L428.90,326.84 L429.40,326.99 L429.90,327.13 L430.40,327.26 L430.90,327.38 L431.40,327.49 L431.90,327.59 L432.40,327.69 L432.90,327.78 L433.40,327.86 L433.90,327.93 L434.40,327.99 L434.90,328.05 L435.40,328.11 L435.90,328.15 L436.40,328.20 L436.90,328.23 L437.40,328.26 L437.90,328.29 L438.40,328.32 L438.90,328.33 L439.40,328.35 L439.90,328.36 L440.40,328.37 L440.90,328.38 L441.40,328.39 L441.90,328.39 L442.40,328.39 L442.90,328.39 L443.40,328.39 L443.90,328.39 L444.40,328.39 L444.90,328.39 L445.40,328.39 L445.90,328.39 L446.40,328.39 L446.90,328.40 L447.40,328.40 L447.90,328.40 L448.40,328.40 L448.90,328.41 L449.40,328.41 L449.90,328.42 L450.40,328.42 L450.90,328.43 L451.40,328.43 L451.90,328.44 L452.40,328.44 L452.90,328.45 L453.40,328.46 L453.90,328.47 L454.40,328.48 L454.90,328.48 L455.40,328.49 L455.90,328.50 L456.40,328.51 L456.90,328.52 L457.40,328.53 L457.90,328.54 L458.40,328.55 L458.90,328.56 L459.40,328.58 L459.90,328.59 L460.40,328.60 L460.90,328.61 L461.40,328.62 L461.90,328.64 L462.40,328.65 L462.90,328.66 L463.40,328.67 L463.90,328.69 L464.40,328.70 L464.90,328.72 L465.40,328.73 L465.90,328.74 L466.40,328.76 L466.90,328.77 L467.40,328.79 L467.90,328.80 L468.40,328.82 L468.90,328.83 L469.40,328.84 L469.90,328.86 L470.40,328.87 L470.90,328.89 L471.40,328.90 L471.90,328.92 L472.40,328.93 L472.90,328.95 L473.40,328.96 L473.90,328.98 L474.40,328.99 L474.90,329.01 L475.40,329.02 L475.90,329.04 L476.40,329.05 L476.90,329.07 L477.40,329.08 L477.90,329.10 L478.40,329.11 L478.90,329.13 L479.40,329.14 L479.90,329.15 L480.40,329.17 L480.90,329.18 L481.40,329.20 L481.90,329.21 L482.40,329.22 L482.90,329.24 L483.40,329.25 L483.90,329.26 L484.40,329.27 L484.90,329.29 L485.40,329.30 L485.90,329.31 L486.40,329.32 L486.90,329.33 L487.40,329.34 L487.90,329.35 L488.40,329.36 L488.90,329.37 L489.40,329.38 L489.90,329.39 L490.40,329.40 L490.90,329.41 L491.40,329.42 L491.90,329.43 L492.40,329.43 L492.90,329.44 L493.40,329.45 L493.90,329.46 L494.40,329.46 L494.90,329.47 L495.40,329.47 L495.90,329.48 L496.40,329.48 L496.90,329.48" stroke="#008000" stroke-width="2.1" fill="none"/>
<path d="M64.40,93.00 L64.90,92.60 L65.40,92.00 L65.90,91.42 L66.40,90.84 L66.90,90.27 L67.40,89.71 L67.90,89.17 L68.40,88.63 L68.90,88.11 L69.40,87.59 L69.90,87.09 L70.40,86.60 L70.90,86.11 L71.40,85.64 L71.90,85.17 L72.40,84.70 L72.90,84.25 L73.40,83.80 L73.90,83.35 L74.40,82.91 L74.90,82.47 L75.40,82.02 L75.90,81.57 L76.40,81.12 L76.90,80.68 L77.40,80.24 L77.90,79.80 L78.40,79.38 L78.90,78.97 L79.40,78.57 L79.90,78.19 L80.40,77.83 L80.90,77.50 L81.40,77.18 L81.90,76.88 L82.40,76.58 L82.90,76.28 L83.40,75.98 L83.90,75.70 L84.40,75.44 L84.90,75.21 L85.40,75.02 L85.90,74.89 L86.40,74.83 L86.90,74.81 L87.40,74.83 L87.90,74.87 L88.40,74.92 L88.90,75.01 L89.40,75.18 L89.90,75.46 L90.40,75.85 L90.90,76.33 L91.40,76.91 L91.90,77.60 L92.40,78.43 L92.90,79.45 L93.40,80.66 L93.90,82.04 L94.40,83.54 L94.90,85.15 L95.40,86.88 L95.90,88.73 L96.40,90.67 L96.90,92.64 L97.40,94.62 L97.90,96.61 L98.40,98.63 L98.90,100.67 L99.40,102.70 L99.90,104.73 L100.40,106.78 L100.90,108.84 L101.40,110.93 L101.90,113.03 L102.40,115.14 L102.90,117.29 L103.40,119.47 L103.90,121.68 L104.40,123.89 L104.90,126.08 L105.40,128.23 L105.90,130.33 L106.40,132.38 L106.90,134.42 L107.40,136.48 L107.90,138.57 L108.40,140.72 L108.90,142.90 L109.40,145.12 L109.90,147.35 L110.40,149.61 L110.90,151.88 L111.40,154.15 L111.90,156.43 L112.40,158.73 L112.90,161.06 L113.40,163.41 L113.90,165.77 L114.40,168.13 L114.90,170.47 L115.40,172.79 L115.90,175.06 L116.40,177.29 L116.90,179.49 L117.40,181.67 L117.90,183.83 L118.40,185.97 L118.90,188.09 L119.40,190.19 L119.90,192.28 L120.40,194.35 L120.90,196.41 L121.40,198.46 L121.90,200.50 L122.40,202.52 L122.90,204.53 L123.40,206.53 L123.90,208.52 L124.40,210.49 L124.90,212.46 L125.40,214.42 L125.90,216.37 L126.40,218.31 L126.90,220.25 L127.40,222.18 L127.90,224.10 L128.40,226.03 L128.90,227.95 L129.40,229.87 L129.90,231.78 L130.40,233.69 L130.90,235.58 L131.40,237.45 L131.90,239.31 L132.40,241.14 L132.90,242.95 L133.40,244.73 L133.90,246.48 L134.40,248.21 L134.90,249.91 L135.40,251.58 L135.90,253.22 L136.40,254.85 L136.90,256.45 L137.40,258.03 L137.90,259.60 L138.40,261.15 L138.90,262.68 L139.40,264.20 L139.90,265.70 L140.40,267.20 L140.90,268.70 L141.40,270.20 L141.90,271.70 L142.40,273.19 L142.90,274.69 L143.40,276.17 L143.90,277.64 L144.40,279.10 L144.90,280.54 L145.40,281.96 L145.90,283.35 L146.40,284.72 L146.90,286.06 L147.40,287.37 L147.90,288.63 L148.40,289.87 L148.90,291.07 L149.40,292.24 L149.90,293.38 L150.40,294.49 L150.90,295.55 L151.40,296.56 L151.90,297.51 L152.40,298.43 L152.90,299.31 L153.40,300.17 L153.90,301.01 L154.40,301.82 L154.90,302.61 L155.40,303.36 L155.90,304.09 L156.40,304.79 L156.90,305.46 L157.40,306.10 L157.90,306.70 L158.40,307.27 L158.90,307.82 L159.40,308.36 L159.90,308.88 L160.40,309.38 L160.90,309.87 L161.40,310.34 L161.90,310.80 L162.40,311.24 L162.90,311.67 L163.40,312.09 L163.90,312.49 L164.40,312.88 L164.90,313.25 L165.40,313.61 L165.90,313.97 L166.40,314.30 L166.90,314.63 L167.40,314.95 L167.90,315.25 L168.40,315.55 L168.90,315.83 L169.40,316.11 L169.90,316.38 L170.40,316.64 L170.90,316.90 L171.40,317.15 L171.90,317.39 L172.40,317.63 L172.90,317.87 L173.40,318.10 L173.90,318.33 L174.40,318.56 L174.90,318.78 L175.40,318.99 L175.90,319.20 L176.40,319.40 L176.90,319.61 L177.40,319.81 L177.90,320.01 L178.40,320.20 L178.90,320.40 L179.40,320.59 L179.90,320.78 L180.40,320.97 L180.90,321.15 L181.40,321.33 L181.90,321.50 L182.40,321.67 L182.90,321.84 L183.40,322.00 L183.90,322.15 L184.40,322.30 L184.90,322.44 L185.40,322.58 L185.90,322.72 L186.40,322.85 L186.90,322.99 L187.40,323.12 L187.90,323.25 L188.40,323.37 L188.90,323.49 L189.40,323.61 L189.90,323.73 L190.40,323.84 L190.90,323.94 L191.40,324.04 L191.90,324.14 L192.40,324.23 L192.90,324.32 L193.40,324.39 L193.90,324.47 L194.40,324.54 L194.90,324.60 L195.40,324.67 L195.90,324.73 L196.40,324.80 L196.90,324.86 L197.40,324.92 L197.90,324.98 L198.40,325.04 L198.90,325.10 L199.40,325.15 L199.90,325.21 L200.40,325.26 L200.90,325.32 L201.40,325.37 L201.90,325.42 L202.40,325.47 L202.90,325.52 L203.40,325.56 L203.90,325.61 L204.40,325.65 L204.90,325.70 L205.40,325.74 L205.90,325.78 L206.40,325.82 L206.90,325.86 L207.40,325.90 L207.90,325.93 L208.40,325.97 L208.90,326.00 L209.40,326.04 L209.90,326.07 L210.40,326.10 L210.90,326.13 L211.40,326.16 L211.90,326.18 L212.40,326.21 L212.90,326.23 L213.40,326.26 L213.90,326.28 L214.40,326.30 L214.90,326.32 L215.40,326.34 L215.90,326.36 L216.40,326.38 L216.90,326.39 L217.40,326.41 L217.90,326.43 L218.40,326.44 L218.90,326.46 L219.40,326.48 L219.90,326.49 L220.40,326.51 L220.90,326.52 L221.40,326.54 L221.90,326.55 L222.40,326.56 L222.90,326.58 L223.40,326.59 L223.90,326.60 L224.40,326.61 L224.90,326.63 L225.40,326.65 L225.90,326.67 L226.40,326.70 L226.90,326.72 L227.40,326.75 L227.90,326.77 L228.40,326.79 L228.90,326.82 L229.40,326.84 L229.90,326.86 L230.40,326.88 L230.90,326.90 L231.40,326.92 L231.90,326.95 L232.40,326.97 L232.90,326.99 L233.40,327.01 L233.90,327.02 L234.40,327.04 L234.90,327.06 L235.40,327.08 L235.90,327.10 L236.40,327.12 L236.90,327.14 L237.40,327.15 L237.90,327.17 L238.40,327.19 L238.90,327.20 L239.40,327.22 L239.90,327.24 L240.40,327.25 L240.90,327.27 L241.40,327.28 L241.90,327.30 L242.40,327.32 L242.90,327.33 L243.40,327.35 L243.90,327.36 L244.40,327.38 L244.90,327.40 L245.40,327.41 L245.90,327.43 L246.40,327.44 L246.90,327.46 L247.40,327.47 L247.90,327.49 L248.40,327.51 L248.90,327.52 L249.40,327.54 L249.90,327.55 L250.40,327.57 L250.90,327.58 L251.40,327.60 L251.90,327.61 L252.40,327.63 L252.90,327.64 L253.40,327.66 L253.90,327.67 L254.40,327.69 L254.90,327.70 L255.40,327.71 L255.90,327.73 L256.40,327.74 L256.90,327.76 L257.40,327.77 L257.90,327.79 L258.40,327.80 L258.90,327.81 L259.40,327.83 L259.90,327.84 L260.40,327.86 L260.90,327.87 L261.40,327.88 L261.90,327.90 L262.40,327.91 L262.90,327.92 L263.40,327.94 L263.90,327.95 L264.40,327.96 L264.90,327.98 L265.40,327.99 L265.90,328.00 L266.40,328.01 L266.90,328.03 L267.40,328.04 L267.90,328.05 L268.40,328.06 L268.90,328.08 L269.40,328.09 L269.90,328.10 L270.40,328.11 L270.90,328.12 L271.40,328.14 L271.90,328.15 L272.40,328.16 L272.90,328.17 L273.40,328.18 L273.90,328.19 L274.40,328.20 L274.90,328.21 L275.40,328.23 L275.90,328.24 L276.40,328.25 L276.90,328.26 L277.40,328.27 L277.90,328.28 L278.40,328.29 L278.90,328.30 L279.40,328.31 L279.90,328.32 L280.40,328.33 L280.90,328.34 L281.40,328.35 L281.90,328.35 L282.40,328.36 L282.90,328.37 L283.40,328.38 L283.90,328.39 L284.40,328.40 L284.90,328.41 L285.40,328.41 L285.90,328.42 L286.40,328.43 L286.90,328.44 L287.40,328.45 L287.90,328.45 L288.40,328.46 L288.90,328.47 L289.40,328.47 L289.90,328.48 L290.40,328.49 L290.90,328.49 L291.40,328.50 L291.90,328.51 L292.40,328.51 L292.90,328.52 L293.40,328.52 L293.90,328.53 L294.40,328.54 L294.90,328.54 L295.40,328.55 L295.90,328.55 L296.40,328.56 L296.90,328.56 L297.40,328.56 L297.90,328.57 L298.40,328.57 L298.90,328.58 L299.40,328.58 L299.90,328.58 L300.40,328.59 L300.90,328.59 L301.40,328.59 L301.90,328.60 L302.40,328.60 L302.90,328.60 L303.40,328.61 L303.90,328.61 L304.40,328.61 L304.90,328.62 L305.40,328.62 L305.90,328.62 L306.40,328.63 L306.90,328.63 L307.40,328.63 L307.90,328.63 L308.40,328.64 L308.90,328.64 L309.40,328.64 L309.90,328.65 L310.40,328.65 L310.90,328.65 L311.40,328.65 L311.90,328.66 L312.40,328.66 L312.90,328.66 L313.40,328.66 L313.90,328.67 L314.40,328.67 L314.90,328.67 L315.40,328.67 L315.90,328.68 L316.40,328.68 L316.90,328.68 L317.40,328.68 L317.90,328.68 L318.40,328.69 L318.90,328.69 L319.40,328.69 L319.90,328.69 L320.40,328.70 L320.90,328.70 L321.40,328.70 L321.90,328.70 L322.40,328.70 L322.90,328.70 L323.40,328.71 L323.90,328.71 L324.40,328.71 L324.90,328.71 L325.40,328.71 L325.90,328.71 L326.40,328.72 L326.90,328.72 L327.40,328.72 L327.90,328.72 L328.40,328.72 L328.90,328.72 L329.40,328.73 L329.90,328.73 L330.40,328.73 L330.90,328.73 L331.40,328.73 L331.90,328.73 L332.40,328.73 L332.90,328.73 L333.40,328.74 L333.90,328.74 L334.40,328.74 L334.90,328.74 L335.40,328.74 L335.90,328.74 L336.40,328.74 L336.90,328.74 L337.40,328.74 L337.90,328.74 L338.40,328.74 L338.90,328.75 L339.40,328.75 L339.90,328.75 L340.40,328.75 L340.90,328.75 L341.40,328.75 L341.90,328.74 L342.40,328.74 L342.90,328.74 L343.40,328.74 L343.90,328.73 L344.40,328.73 L344.90,328.72 L345.40,328.72 L345.90,328.71 L346.40,328.71 L346.90,328.70 L347.40,328.70 L347.90,328.69 L348.40,328.68 L348.90,328.67 L349.40,328.67 L349.90,328.66 L350.40,328.65 L350.90,328.64 L351.40,328.63 L351.90,328.63 L352.40,328.62 L352.90,328.61 L353.40,328.60 L353.90,328.59 L354.40,328.58 L354.90,328.57 L355.40,328.56 L355.90,328.55 L356.40,328.55 L356.90,328.54 L357.40,328.53 L357.90,328.52 L358.40,328.51 L358.90,328.50 L359.40,328.49 L359.90,328.49 L360.40,328.48 L360.90,328.47 L361.40,328.46 L361.90,328.45 L362.40,328.44 L362.90,328.43 L363.40,328.42 L363.90,328.41 L364.40,328.40 L364.90,328.39 L365.40,328.37 L365.90,328.36 L366.40,328.35 L366.90,328.34 L367.40,328.33 L367.90,328.31 L368.40,328.30 L368.90,328.29 L369.40,328.28 L369.90,328.27 L370.40,328.26 L370.90,328.25 L371.40,328.24 L371.90,328.23 L372.40,328.22 L372.90,328.22 L373.40,328.21 L373.90,328.21 L374.40,328.20 L374.90,328.20 L375.40,328.20 L375.90,328.20 L376.40,328.20 L376.90,328.20 L377.40,328.20 L377.90,328.20 L378.40,328.21 L378.90,328.21 L379.40,328.22 L379.90,328.22 L380.40,328.23 L380.90,328.23 L381.40,328.24 L381.90,328.25 L382.40,328.26 L382.90,328.26 L383.40,328.27 L383.90,328.28 L384.40,328.29 L384.90,328.30 L385.40,328.31 L385.90,328.32 L386.40,328.33 L386.90,328.34 L387.40,328.35 L387.90,328.36 L388.40,328.37 L388.90,328.39 L389.40,328.40 L389.90,328.41 L390.40,328.42 L390.90,328.43 L391.40,328.45 L391.90,328.46 L392.40,328.47 L392.90,328.48 L393.40,328.50 L393.90,328.51 L394.40,328.52 L394.90,328.53 L395.40,328.55 L395.90,328.56 L396.40,328.57 L396.90,328.59 L397.40,328.61 L397.90,328.62 L398.40,328.64 L398.90,328.66 L399.40,328.68 L399.90,328.70 L400.40,328.72 L400.90,328.74 L401.40,328.76 L401.90,328.78 L402.40,328.81 L402.90,328.83 L403.40,328.85 L403.90,328.88 L404.40,328.90 L404.90,328.92 L405.40,328.95 L405.90,328.97 L406.40,329.00 L406.90,329.02 L407.40,329.05 L407.90,329.07 L408.40,329.10 L408.90,329.12 L409.40,329.15 L409.90,329.17 L410.40,329.20 L410.90,329.22 L411.40,329.25 L411.90,329.27 L412.40,329.30 L412.90,329.32 L413.40,329.34 L413.90,329.36 L414.40,329.39 L414.90,329.41 L415.40,329.43 L415.90,329.45 L416.40,329.47 L416.90,329.49 L417.40,329.50 L417.90,329.52 L418.40,329.54 L418.90,329.55 L419.40,329.57 L419.90,329.58 L420.40,329.59 L420.90,329.61 L421.40,329.62 L421.90,329.63 L422.40,329.65 L422.90,329.66 L423.40,329.67 L423.90,329.68 L424.40,329.69 L424.90,329.71 L425.40,329.72 L425.90,329.73 L426.40,329.74 L426.90,329.75 L427.40,329.76 L427.90,329.77 L428.40,329.78 L428.90,329.79 L429.40,329.81 L429.90,329.82 L430.40,329.83 L430.90,329.84 L431.40,329.85 L431.90,329.86 L432.40,329.87 L432.90,329.87 L433.40,329.88 L433.90,329.89 L434.40,329.90 L434.90,329.91 L435.40,329.92 L435.90,329.93 L436.40,329.94 L436.90,329.95 L437.40,329.95 L437.90,329.96 L438.40,329.97 L438.90,329.98 L439.40,329.99 L439.90,329.99 L440.40,330.00 L440.90,330.01 L441.40,330.02 L441.90,330.02 L442.40,330.03 L442.90,330.04 L443.40,330.04 L443.90,330.05 L444.40,330.06 L444.90,330.06 L445.40,330.07 L445.90,330.08 L446.40,330.08 L446.90,330.09 L447.40,330.09 L447.90,330.10 L448.40,330.11 L448.90,330.11 L449.40,330.12 L449.90,330.12 L450.40,330.13 L450.90,330.14 L451.40,330.14 L451.90,330.15 L452.40,330.15 L452.90,330.16 L453.40,330.17 L453.90,330.17 L454.40,330.18 L454.90,330.18 L455.40,330.19 L455.90,330.20 L456.40,330.20 L456.90,330.21 L457.40,330.21 L457.90,330.22 L458.40,330.22 L458.90,330.23 L459.40,330.24 L459.90,330.24 L460.40,330.25 L460.90,330.25 L461.40,330.26 L461.90,330.26 L462.40,330.27 L462.90,330.27 L463.40,330.28 L463.90,330.28 L464.40,330.29 L464.90,330.30 L465.40,330.30 L465.90,330.31 L466.40,330.31 L466.90,330.32 L467.40,330.32 L467.90,330.33 L468.40,330.33 L468.90,330.34 L469.40,330.34 L469.90,330.34 L470.40,330.35 L470.90,330.35 L471.40,330.36 L471.90,330.36 L472.40,330.37 L472.90,330.37 L473.40,330.38 L473.90,330.38 L474.40,330.38 L474.90,330.39 L475.40,330.39 L475.90,330.40 L476.40,330.40 L476.90,330.40 L477.40,330.41 L477.90,330.41 L478.40,330.42 L478.90,330.42 L479.40,330.42 L479.90,330.43 L480.40,330.43 L480.90,330.43 L481.40,330.44 L481.90,330.44 L482.40,330.44 L482.90,330.45 L483.40,330.45 L483.90,330.45 L484.40,330.45 L484.90,330.46 L485.40,330.46 L485.90,330.46 L486.40,330.46 L486.90,330.47 L487.40,330.47 L487.90,330.47 L488.40,330.47 L488.90,330.48 L489.40,330.48 L489.90,330.48 L490.40,330.48 L490.90,330.48 L491.40,330.48 L491.90,330.49 L492.40,330.49 L492.90,330.49 L493.40,330.49 L493.90,330.49 L494.40,330.49 L494.90,330.49 L495.40,330.49 L495.90,330.49 L496.40,330.49 L496.90,330.49" stroke="#c800c8" stroke-width="2.0" fill="none"/>
<path d="M64.40,89.99 L64.90,89.59 L65.40,88.98 L65.90,88.39 L66.40,87.81 L66.90,87.24 L67.40,86.68 L67.90,86.14 L68.40,85.62 L68.90,85.11 L69.40,84.62 L69.90,84.15 L70.40,83.69 L70.90,83.25 L71.40,82.82 L71.90,82.40 L72.40,81.97 L72.90,81.55 L73.40,81.11 L73.90,80.66 L74.40,80.20 L74.90,79.71 L75.40,79.21 L75.90,78.69 L76.40,78.16 L76.90,77.63 L77.40,77.09 L77.90,76.55 L78.40,76.01 L78.90,75.49 L79.40,74.98 L79.90,74.48 L80.40,74.01 L80.90,73.56 L81.40,73.14 L81.90,72.74 L82.40,72.33 L82.90,71.91 L83.40,71.49 L83.90,71.09 L84.40,70.71 L84.90,70.39 L85.40,70.12 L85.90,69.94 L86.40,69.84 L86.90,69.81 L87.40,69.83 L87.90,69.87 L88.40,69.92 L88.90,70.00 L89.40,70.15 L89.90,70.39 L90.40,70.72 L90.90,71.14 L91.40,71.68 L91.90,72.36 L92.40,73.21 L92.90,74.37 L93.40,75.88 L93.90,77.72 L94.40,79.70 L94.90,81.78 L95.40,83.99 L95.90,86.28 L96.40,88.63 L96.90,90.87 L97.40,92.98 L97.90,95.00 L98.40,97.04 L98.90,99.10 L99.40,101.17 L99.90,103.25 L100.40,105.34 L100.90,107.45 L101.40,109.57 L101.90,111.70 L102.40,113.84 L102.90,116.02 L103.40,118.22 L103.90,120.45 L104.40,122.67 L104.90,124.88 L105.40,127.06 L105.90,129.19 L106.40,131.28 L106.90,133.36 L107.40,135.44 L107.90,137.56 L108.40,139.71 L108.90,141.90 L109.40,144.11 L109.90,146.35 L110.40,148.59 L110.90,150.84 L111.40,153.10 L111.90,155.36 L112.40,157.63 L112.90,159.93 L113.40,162.25 L113.90,164.58 L114.40,166.90 L114.90,169.21 L115.40,171.50 L115.90,173.75 L116.40,175.96 L116.90,178.14 L117.40,180.31 L117.90,182.46 L118.40,184.58 L118.90,186.69 L119.40,188.78 L119.90,190.86 L120.40,192.92 L120.90,194.97 L121.40,197.00 L121.90,199.02 L122.40,201.03 L122.90,203.02 L123.40,205.00 L123.90,206.98 L124.40,208.94 L124.90,210.89 L125.40,212.84 L125.90,214.78 L126.40,216.71 L126.90,218.63 L127.40,220.55 L127.90,222.47 L128.40,224.39 L128.90,226.31 L129.40,228.22 L129.90,230.13 L130.40,232.03 L130.90,233.91 L131.40,235.79 L131.90,237.64 L132.40,239.47 L132.90,241.28 L133.40,243.07 L133.90,244.83 L134.40,246.57 L134.90,248.28 L135.40,249.97 L135.90,251.64 L136.40,253.28 L136.90,254.91 L137.40,256.51 L137.90,258.09 L138.40,259.65 L138.90,261.20 L139.40,262.72 L139.90,264.23 L140.40,265.73 L140.90,267.23 L141.40,268.73 L141.90,270.22 L142.40,271.71 L142.90,273.19 L143.40,274.66 L143.90,276.12 L144.40,277.57 L144.90,279.00 L145.40,280.41 L145.90,281.79 L146.40,283.15 L146.90,284.49 L147.40,285.79 L147.90,287.05 L148.40,288.29 L148.90,289.49 L149.40,290.67 L149.90,291.82 L150.40,292.93 L150.90,294.00 L151.40,295.02 L151.90,295.99 L152.40,296.91 L152.90,297.81 L153.40,298.68 L153.90,299.54 L154.40,300.36 L154.90,301.17 L155.40,301.94 L155.90,302.69 L156.40,303.41 L156.90,304.10 L157.40,304.75 L157.90,305.38 L158.40,305.97 L158.90,306.55 L159.40,307.10 L159.90,307.64 L160.40,308.17 L160.90,308.68 L161.40,309.17 L161.90,309.65 L162.40,310.11 L162.90,310.56 L163.40,311.00 L163.90,311.42 L164.40,311.83 L164.90,312.23 L165.40,312.61 L165.90,312.99 L166.40,313.35 L166.90,313.70 L167.40,314.03 L167.90,314.36 L168.40,314.67 L168.90,314.98 L169.40,315.27 L169.90,315.55 L170.40,315.83 L170.90,316.10 L171.40,316.37 L171.90,316.63 L172.40,316.88 L172.90,317.13 L173.40,317.38 L173.90,317.62 L174.40,317.86 L174.90,318.09 L175.40,318.32 L175.90,318.55 L176.40,318.77 L176.90,318.99 L177.40,319.21 L177.90,319.43 L178.40,319.64 L178.90,319.86 L179.40,320.06 L179.90,320.27 L180.40,320.47 L180.90,320.67 L181.40,320.86 L181.90,321.05 L182.40,321.24 L182.90,321.42 L183.40,321.60 L183.90,321.76 L184.40,321.93 L184.90,322.09 L185.40,322.24 L185.90,322.39 L186.40,322.55 L186.90,322.69 L187.40,322.84 L187.90,322.98 L188.40,323.12 L188.90,323.26 L189.40,323.40 L189.90,323.52 L190.40,323.65 L190.90,323.77 L191.40,323.89 L191.90,324.00 L192.40,324.10 L192.90,324.20 L193.40,324.29 L193.90,324.38 L194.40,324.46 L194.90,324.54 L195.40,324.62 L195.90,324.70 L196.40,324.78 L196.90,324.85 L197.40,324.92 L197.90,325.00 L198.40,325.07 L198.90,325.14 L199.40,325.21 L199.90,325.28 L200.40,325.34 L200.90,325.41 L201.40,325.47 L201.90,325.54 L202.40,325.60 L202.90,325.66 L203.40,325.72 L203.90,325.78 L204.40,325.83 L204.90,325.89 L205.40,325.94 L205.90,326.00 L206.40,326.05 L206.90,326.10 L207.40,326.15 L207.90,326.19 L208.40,326.24 L208.90,326.29 L209.40,326.33 L209.90,326.37 L210.40,326.42 L210.90,326.46 L211.40,326.49 L211.90,326.53 L212.40,326.57 L212.90,326.60 L213.40,326.64 L213.90,326.67 L214.40,326.70 L214.90,326.73 L215.40,326.76 L215.90,326.79 L216.40,326.82 L216.90,326.85 L217.40,326.88 L217.90,326.90 L218.40,326.93 L218.90,326.95 L219.40,326.98 L219.90,327.00 L220.40,327.03 L220.90,327.05 L221.40,327.08 L221.90,327.10 L222.40,327.12 L222.90,327.15 L223.40,327.17 L223.90,327.19 L224.40,327.21 L224.90,327.23 L225.40,327.25 L225.90,327.28 L226.40,327.30 L226.90,327.32 L227.40,327.34 L227.90,327.37 L228.40,327.39 L228.90,327.41 L229.40,327.43 L229.90,327.45 L230.40,327.47 L230.90,327.49 L231.40,327.51 L231.90,327.53 L232.40,327.55 L232.90,327.56 L233.40,327.58 L233.90,327.60 L234.40,327.62 L234.90,327.64 L235.40,327.65 L235.90,327.67 L236.40,327.69 L236.90,327.70 L237.40,327.72 L237.90,327.73 L238.40,327.75 L238.90,327.77 L239.40,327.78 L239.90,327.80 L240.40,327.81 L240.90,327.83 L241.40,327.84 L241.90,327.86 L242.40,327.87 L242.90,327.89 L243.40,327.90 L243.90,327.92 L244.40,327.93 L244.90,327.95 L245.40,327.96 L245.90,327.98 L246.40,327.99 L246.90,328.00 L247.40,328.02 L247.90,328.03 L248.40,328.05 L248.90,328.06 L249.40,328.08 L249.90,328.09 L250.40,328.11 L250.90,328.12 L251.40,328.13 L251.90,328.15 L252.40,328.16 L252.90,328.18 L253.40,328.19 L253.90,328.20 L254.40,328.22 L254.90,328.23 L255.40,328.24 L255.90,328.26 L256.40,328.27 L256.90,328.28 L257.40,328.30 L257.90,328.31 L258.40,328.32 L258.90,328.34 L259.40,328.35 L259.90,328.36 L260.40,328.37 L260.90,328.39 L261.40,328.40 L261.90,328.41 L262.40,328.43 L262.90,328.44 L263.40,328.45 L263.90,328.46 L264.40,328.47 L264.90,328.49 L265.40,328.50 L265.90,328.51 L266.40,328.52 L266.90,328.53 L267.40,328.55 L267.90,328.56 L268.40,328.57 L268.90,328.58 L269.40,328.59 L269.90,328.60 L270.40,328.61 L270.90,328.63 L271.40,328.64 L271.90,328.65 L272.40,328.66 L272.90,328.67 L273.40,328.68 L273.90,328.69 L274.40,328.70 L274.90,328.71 L275.40,328.72 L275.90,328.73 L276.40,328.74 L276.90,328.75 L277.40,328.76 L277.90,328.77 L278.40,328.78 L278.90,328.79 L279.40,328.80 L279.90,328.81 L280.40,328.82 L280.90,328.83 L281.40,328.83 L281.90,328.84 L282.40,328.85 L282.90,328.86 L283.40,328.87 L283.90,328.88 L284.40,328.88 L284.90,328.89 L285.40,328.90 L285.90,328.91 L286.40,328.92 L286.90,328.92 L287.40,328.93 L287.90,328.94 L288.40,328.95 L288.90,328.95 L289.40,328.96 L289.90,328.97 L290.40,328.97 L290.90,328.98 L291.40,328.99 L291.90,328.99 L292.40,329.00 L292.90,329.00 L293.40,329.01 L293.90,329.02 L294.40,329.02 L294.90,329.03 L295.40,329.03 L295.90,329.04 L296.40,329.04 L296.90,329.05 L297.40,329.05 L297.90,329.06 L298.40,329.06 L298.90,329.07 L299.40,329.07 L299.90,329.07 L300.40,329.08 L300.90,329.08 L301.40,329.09 L301.90,329.09 L302.40,329.09 L302.90,329.10 L303.40,329.10 L303.90,329.10 L304.40,329.11 L304.90,329.11 L305.40,329.12 L305.90,329.12 L306.40,329.12 L306.90,329.13 L307.40,329.13 L307.90,329.13 L308.40,329.14 L308.90,329.14 L309.40,329.14 L309.90,329.15 L310.40,329.15 L310.90,329.15 L311.40,329.16 L311.90,329.16 L312.40,329.16 L312.90,329.17 L313.40,329.17 L313.90,329.17 L314.40,329.18 L314.90,329.18 L315.40,329.18 L315.90,329.18 L316.40,329.19 L316.90,329.19 L317.40,329.19 L317.90,329.20 L318.40,329.20 L318.90,329.20 L319.40,329.20 L319.90,329.21 L320.40,329.21 L320.90,329.21 L321.40,329.22 L321.90,329.22 L322.40,329.22 L322.90,329.22 L323.40,329.23 L323.90,329.23 L324.40,329.23 L324.90,329.23 L325.40,329.24 L325.90,329.24 L326.40,329.24 L326.90,329.24 L327.40,329.24 L327.90,329.25 L328.40,329.25 L328.90,329.25 L329.40,329.25 L329.90,329.26 L330.40,329.26 L330.90,329.26 L331.40,329.26 L331.90,329.26 L332.40,329.27 L332.90,329.27 L333.40,329.27 L333.90,329.27 L334.40,329.27 L334.90,329.28 L335.40,329.28 L335.90,329.28 L336.40,329.28 L336.90,329.28 L337.40,329.28 L337.90,329.29 L338.40,329.29 L338.90,329.29 L339.40,329.29 L339.90,329.29 L340.40,329.29 L340.90,329.29 L341.40,329.29 L341.90,329.30 L342.40,329.29 L342.90,329.29 L343.40,329.29 L343.90,329.29 L344.40,329.29 L344.90,329.29 L345.40,329.28 L345.90,329.28 L346.40,329.28 L346.90,329.28 L347.40,329.27 L347.90,329.27 L348.40,329.26 L348.90,329.26 L349.40,329.25 L349.90,329.25 L350.40,329.24 L350.90,329.24 L351.40,329.23 L351.90,329.23 L352.40,329.22 L352.90,329.22 L353.40,329.21 L353.90,329.21 L354.40,329.20 L354.90,329.20 L355.40,329.19 L355.90,329.19 L356.40,329.18 L356.90,329.18 L357.40,329.17 L357.90,329.17 L358.40,329.16 L358.90,329.16 L359.40,329.15 L359.90,329.15 L360.40,329.14 L360.90,329.14 L361.40,329.13 L361.90,329.12 L362.40,329.12 L362.90,329.11 L363.40,329.10 L363.90,329.10 L364.40,329.09 L364.90,329.08 L365.40,329.07 L365.90,329.07 L366.40,329.06 L366.90,329.05 L367.40,329.04 L367.90,329.04 L368.40,329.03 L368.90,329.02 L369.40,329.01 L369.90,329.01 L370.40,329.00 L370.90,328.99 L371.40,328.99 L371.90,328.98 L372.40,328.98 L372.90,328.98 L373.40,328.97 L373.90,328.97 L374.40,328.97 L374.90,328.97 L375.40,328.96 L375.90,328.96 L376.40,328.97 L376.90,328.97 L377.40,328.97 L377.90,328.97 L378.40,328.98 L378.90,328.98 L379.40,328.98 L379.90,328.99 L380.40,328.99 L380.90,329.00 L381.40,329.00 L381.90,329.01 L382.40,329.02 L382.90,329.02 L383.40,329.03 L383.90,329.04 L384.40,329.04 L384.90,329.05 L385.40,329.06 L385.90,329.07 L386.40,329.08 L386.90,329.08 L387.40,329.09 L387.90,329.10 L388.40,329.11 L388.90,329.12 L389.40,329.13 L389.90,329.14 L390.40,329.15 L390.90,329.16 L391.40,329.17 L391.90,329.17 L392.40,329.18 L392.90,329.19 L393.40,329.20 L393.90,329.21 L394.40,329.22 L394.90,329.23 L395.40,329.24 L395.90,329.25 L396.40,329.26 L396.90,329.27 L397.40,329.29 L397.90,329.30 L398.40,329.31 L398.90,329.33 L399.40,329.34 L399.90,329.36 L400.40,329.37 L400.90,329.39 L401.40,329.40 L401.90,329.42 L402.40,329.44 L402.90,329.45 L403.40,329.47 L403.90,329.49 L404.40,329.51 L404.90,329.52 L405.40,329.54 L405.90,329.56 L406.40,329.58 L406.90,329.60 L407.40,329.62 L407.90,329.63 L408.40,329.65 L408.90,329.67 L409.40,329.69 L409.90,329.71 L410.40,329.73 L410.90,329.74 L411.40,329.76 L411.90,329.78 L412.40,329.80 L412.90,329.81 L413.40,329.83 L413.90,329.85 L414.40,329.86 L414.90,329.88 L415.40,329.90 L415.90,329.91 L416.40,329.92 L416.90,329.94 L417.40,329.95 L417.90,329.96 L418.40,329.98 L418.90,329.99 L419.40,330.00 L419.90,330.01 L420.40,330.02 L420.90,330.03 L421.40,330.04 L421.90,330.05 L422.40,330.06 L422.90,330.07 L423.40,330.08 L423.90,330.09 L424.40,330.10 L424.90,330.10 L425.40,330.11 L425.90,330.12 L426.40,330.13 L426.90,330.14 L427.40,330.15 L427.90,330.16 L428.40,330.16 L428.90,330.17 L429.40,330.18 L429.90,330.19 L430.40,330.20 L430.90,330.20 L431.40,330.21 L431.90,330.22 L432.40,330.23 L432.90,330.23 L433.40,330.24 L433.90,330.25 L434.40,330.26 L434.90,330.26 L435.40,330.27 L435.90,330.28 L436.40,330.28 L436.90,330.29 L437.40,330.30 L437.90,330.30 L438.40,330.31 L438.90,330.31 L439.40,330.32 L439.90,330.33 L440.40,330.33 L440.90,330.34 L441.40,330.34 L441.90,330.35 L442.40,330.36 L442.90,330.36 L443.40,330.37 L443.90,330.37 L444.40,330.38 L444.90,330.38 L445.40,330.39 L445.90,330.39 L446.40,330.40 L446.90,330.40 L447.40,330.41 L447.90,330.41 L448.40,330.42 L448.90,330.42 L449.40,330.42 L449.90,330.43 L450.40,330.43 L450.90,330.44 L451.40,330.44 L451.90,330.45 L452.40,330.45 L452.90,330.46 L453.40,330.46 L453.90,330.47 L454.40,330.47 L454.90,330.48 L455.40,330.48 L455.90,330.49 L456.40,330.49 L456.90,330.49 L457.40,330.50 L457.90,330.50 L458.40,330.51 L458.90,330.51 L459.40,330.52 L459.90,330.52 L460.40,330.53 L460.90,330.53 L461.40,330.53 L461.90,330.54 L462.40,330.54 L462.90,330.55 L463.40,330.55 L463.90,330.56 L464.40,330.56 L464.90,330.56 L465.40,330.57 L465.90,330.57 L466.40,330.58 L466.90,330.58 L467.40,330.58 L467.90,330.59 L468.40,330.59 L468.90,330.60 L469.40,330.60 L469.90,330.60 L470.40,330.61 L470.90,330.61 L471.40,330.61 L471.90,330.62 L472.40,330.62 L472.90,330.62 L473.40,330.63 L473.90,330.63 L474.40,330.63 L474.90,330.64 L475.40,330.64 L475.90,330.64 L476.40,330.65 L476.90,330.65 L477.40,330.65 L477.90,330.66 L478.40,330.66 L478.90,330.66 L479.40,330.67 L479.90,330.67 L480.40,330.67 L480.90,330.67 L481.40,330.68 L481.90,330.68 L482.40,330.68 L482.90,330.68 L483.40,330.69 L483.90,330.69 L484.40,330.69 L484.90,330.69 L485.40,330.69 L485.90,330.70 L486.40,330.70 L486.90,330.70 L487.40,330.70 L487.90,330.70 L488.40,330.71 L488.90,330.71 L489.40,330.71 L489.90,330.71 L490.40,330.71 L490.90,330.71 L491.40,330.72 L491.90,330.72 L492.40,330.72 L492.90,330.72 L493.40,330.72 L493.90,330.72 L494.40,330.72 L494.90,330.72 L495.40,330.72 L495.90,330.72 L496.40,330.72 L496.90,330.72" stroke="#008a8a" stroke-width="2.0" fill="none"/>
<path d="M64.40,94.81 L64.90,94.44 L65.40,93.89 L65.90,93.34 L66.40,92.80 L66.90,92.26 L67.40,91.73 L67.90,91.21 L68.40,90.69 L68.90,90.18 L69.40,89.67 L69.90,89.17 L70.40,88.67 L70.90,88.18 L71.40,87.70 L71.90,87.22 L72.40,86.74 L72.90,86.28 L73.40,85.82 L73.90,85.36 L74.40,84.91 L74.90,84.44 L75.40,83.97 L75.90,83.48 L76.40,82.99 L76.90,82.51 L77.40,82.03 L77.90,81.56 L78.40,81.11 L78.90,80.69 L79.40,80.29 L79.90,79.93 L80.40,79.61 L80.90,79.34 L81.40,79.12 L81.90,78.94 L82.40,78.79 L82.90,78.64 L83.40,78.50 L83.90,78.37 L84.40,78.26 L84.90,78.16 L85.40,78.09 L85.90,78.04 L86.40,78.01 L86.90,78.04 L87.40,78.11 L87.90,78.25 L88.40,78.45 L88.90,78.69 L89.40,78.98 L89.90,79.30 L90.40,79.64 L90.90,80.03 L91.40,80.50 L91.90,81.09 L92.40,81.82 L92.90,82.72 L93.40,83.79 L93.90,85.02 L94.40,86.38 L94.90,87.88 L95.40,89.52 L95.90,91.30 L96.40,93.18 L96.90,95.10 L97.40,97.05 L97.90,99.03 L98.40,101.03 L98.90,103.02 L99.40,104.99 L99.90,106.96 L100.40,108.93 L100.90,110.94 L101.40,112.97 L101.90,115.02 L102.40,117.09 L102.90,119.21 L103.40,121.36 L103.90,123.53 L104.40,125.71 L104.90,127.87 L105.40,129.98 L105.90,132.03 L106.40,134.03 L106.90,136.03 L107.40,138.04 L107.90,140.10 L108.40,142.23 L108.90,144.40 L109.40,146.62 L109.90,148.86 L110.40,151.14 L110.90,153.43 L111.40,155.73 L111.90,158.04 L112.40,160.38 L112.90,162.75 L113.40,165.15 L113.90,167.56 L114.40,169.98 L114.90,172.37 L115.40,174.72 L115.90,177.03 L116.40,179.29 L116.90,181.52 L117.40,183.72 L117.90,185.89 L118.40,188.05 L118.90,190.18 L119.40,192.30 L119.90,194.41 L120.40,196.50 L120.90,198.58 L121.40,200.65 L121.90,202.71 L122.40,204.76 L122.90,206.79 L123.40,208.82 L123.90,210.83 L124.40,212.83 L124.90,214.82 L125.40,216.80 L125.90,218.77 L126.40,220.72 L126.90,222.67 L127.40,224.61 L127.90,226.55 L128.40,228.48 L128.90,230.41 L129.40,232.34 L129.90,234.26 L130.40,236.17 L130.90,238.07 L131.40,239.95 L131.90,241.81 L132.40,243.64 L132.90,245.45 L133.40,247.22 L133.90,248.96 L134.40,250.67 L134.90,252.34 L135.40,253.98 L135.90,255.60 L136.40,257.20 L136.90,258.77 L137.40,260.32 L137.90,261.86 L138.40,263.39 L138.90,264.90 L139.40,266.41 L139.90,267.91 L140.40,269.40 L140.90,270.90 L141.40,272.40 L141.90,273.91 L142.40,275.42 L142.90,276.93 L143.40,278.43 L143.90,279.92 L144.40,281.39 L144.90,282.85 L145.40,284.29 L145.90,285.70 L146.40,287.08 L146.90,288.42 L147.40,289.73 L147.90,291.00 L148.40,292.23 L148.90,293.43 L149.40,294.60 L149.90,295.73 L150.40,296.83 L150.90,297.87 L151.40,298.87 L151.90,299.80 L152.40,300.70 L152.90,301.56 L153.40,302.40 L153.90,303.21 L154.40,304.00 L154.90,304.76 L155.40,305.50 L155.90,306.20 L156.40,306.87 L156.90,307.51 L157.40,308.11 L157.90,308.68 L158.40,309.22 L158.90,309.74 L159.40,310.24 L159.90,310.73 L160.40,311.20 L160.90,311.66 L161.40,312.10 L161.90,312.53 L162.40,312.94 L162.90,313.33 L163.40,313.72 L163.90,314.09 L164.40,314.44 L164.90,314.79 L165.40,315.12 L165.90,315.43 L166.40,315.74 L166.90,316.03 L167.40,316.32 L167.90,316.59 L168.40,316.86 L168.90,317.12 L169.40,317.37 L169.90,317.62 L170.40,317.85 L170.90,318.09 L171.40,318.32 L171.90,318.54 L172.40,318.76 L172.90,318.98 L173.40,319.19 L173.90,319.41 L174.40,319.62 L174.90,319.81 L175.40,319.98 L175.90,320.13 L176.40,320.27 L176.90,320.42 L177.40,320.56 L177.90,320.70 L178.40,320.85 L178.90,320.99 L179.40,321.13 L179.90,321.27 L180.40,321.40 L180.90,321.53 L181.40,321.66 L181.90,321.78 L182.40,321.90 L182.90,322.02 L183.40,322.13 L183.90,322.23 L184.40,322.33 L184.90,322.42 L185.40,322.51 L185.90,322.60 L186.40,322.68 L186.90,322.77 L187.40,322.85 L187.90,322.93 L188.40,323.01 L188.90,323.09 L189.40,323.16 L189.90,323.23 L190.40,323.30 L190.90,323.36 L191.40,323.42 L191.90,323.47 L192.40,323.51 L192.90,323.56 L193.40,323.59 L193.90,323.62 L194.40,323.65 L194.90,323.67 L195.40,323.70 L195.90,323.72 L196.40,323.74 L196.90,323.76 L197.40,323.78 L197.90,323.80 L198.40,323.82 L198.90,323.84 L199.40,323.85 L199.90,323.87 L200.40,323.88 L200.90,323.89 L201.40,323.91 L201.90,323.92 L202.40,323.93 L202.90,323.94 L203.40,323.95 L203.90,323.95 L204.40,323.96 L204.90,323.97 L205.40,323.97 L205.90,323.97 L206.40,323.98 L206.90,323.98 L207.40,323.98 L207.90,323.98 L208.40,323.98 L208.90,323.98 L209.40,323.97 L209.90,323.97 L210.40,323.96 L210.90,323.96 L211.40,323.95 L211.90,323.94 L212.40,323.94 L212.90,323.93 L213.40,323.92 L213.90,323.91 L214.40,323.89 L214.90,323.88 L215.40,323.87 L215.90,323.86 L216.40,323.84 L216.90,323.83 L217.40,323.82 L217.90,323.80 L218.40,323.79 L218.90,323.77 L219.40,323.76 L219.90,323.75 L220.40,323.73 L220.90,323.72 L221.40,323.70 L221.90,323.69 L222.40,323.67 L222.90,323.66 L223.40,323.64 L223.90,323.63 L224.40,323.61 L224.90,323.61 L225.40,323.62 L225.90,323.66 L226.40,323.69 L226.90,323.72 L227.40,323.76 L227.90,323.79 L228.40,323.82 L228.90,323.85 L229.40,323.89 L229.90,323.92 L230.40,323.95 L230.90,323.98 L231.40,324.01 L231.90,324.04 L232.40,324.07 L232.90,324.09 L233.40,324.12 L233.90,324.15 L234.40,324.17 L234.90,324.20 L235.40,324.23 L235.90,324.25 L236.40,324.28 L236.90,324.30 L237.40,324.32 L237.90,324.35 L238.40,324.37 L238.90,324.39 L239.40,324.41 L239.90,324.44 L240.40,324.46 L240.90,324.48 L241.40,324.50 L241.90,324.52 L242.40,324.54 L242.90,324.56 L243.40,324.58 L243.90,324.60 L244.40,324.62 L244.90,324.64 L245.40,324.67 L245.90,324.69 L246.40,324.71 L246.90,324.73 L247.40,324.75 L247.90,324.77 L248.40,324.79 L248.90,324.81 L249.40,324.83 L249.90,324.85 L250.40,324.87 L250.90,324.89 L251.40,324.91 L251.90,324.93 L252.40,324.95 L252.90,324.97 L253.40,324.99 L253.90,325.01 L254.40,325.03 L254.90,325.05 L255.40,325.07 L255.90,325.09 L256.40,325.11 L256.90,325.13 L257.40,325.15 L257.90,325.17 L258.40,325.19 L258.90,325.20 L259.40,325.22 L259.90,325.24 L260.40,325.26 L260.90,325.28 L261.40,325.30 L261.90,325.32 L262.40,325.33 L262.90,325.35 L263.40,325.37 L263.90,325.39 L264.40,325.40 L264.90,325.42 L265.40,325.44 L265.90,325.46 L266.40,325.47 L266.90,325.49 L267.40,325.51 L267.90,325.52 L268.40,325.54 L268.90,325.56 L269.40,325.57 L269.90,325.59 L270.40,325.60 L270.90,325.62 L271.40,325.63 L271.90,325.65 L272.40,325.66 L272.90,325.68 L273.40,325.69 L273.90,325.71 L274.40,325.72 L274.90,325.74 L275.40,325.75 L275.90,325.76 L276.40,325.78 L276.90,325.79 L277.40,325.80 L277.90,325.82 L278.40,325.83 L278.90,325.84 L279.40,325.85 L279.90,325.87 L280.40,325.88 L280.90,325.89 L281.40,325.90 L281.90,325.91 L282.40,325.92 L282.90,325.93 L283.40,325.94 L283.90,325.95 L284.40,325.96 L284.90,325.97 L285.40,325.98 L285.90,325.99 L286.40,326.00 L286.90,326.01 L287.40,326.02 L287.90,326.03 L288.40,326.03 L288.90,326.04 L289.40,326.05 L289.90,326.06 L290.40,326.06 L290.90,326.07 L291.40,326.07 L291.90,326.08 L292.40,326.09 L292.90,326.09 L293.40,326.10 L293.90,326.10 L294.40,326.11 L294.90,326.11 L295.40,326.11 L295.90,326.12 L296.40,326.12 L296.90,326.12 L297.40,326.13 L297.90,326.13 L298.40,326.13 L298.90,326.13 L299.40,326.13 L299.90,326.13 L300.40,326.14 L300.90,326.14 L301.40,326.14 L301.90,326.14 L302.40,326.14 L302.90,326.14 L303.40,326.14 L303.90,326.14 L304.40,326.14 L304.90,326.14 L305.40,326.14 L305.90,326.14 L306.40,326.14 L306.90,326.14 L307.40,326.14 L307.90,326.14 L308.40,326.14 L308.90,326.14 L309.40,326.14 L309.90,326.14 L310.40,326.14 L310.90,326.14 L311.40,326.14 L311.90,326.14 L312.40,326.14 L312.90,326.14 L313.40,326.14 L313.90,326.14 L314.40,326.13 L314.90,326.13 L315.40,326.13 L315.90,326.13 L316.40,326.13 L316.90,326.13 L317.40,326.13 L317.90,326.13 L318.40,326.13 L318.90,326.12 L319.40,326.12 L319.90,326.12 L320.40,326.12 L320.90,326.12 L321.40,326.12 L321.90,326.12 L322.40,326.11 L322.90,326.11 L323.40,326.11 L323.90,326.11 L324.40,326.11 L324.90,326.10 L325.40,326.10 L325.90,326.10 L326.40,326.10 L326.90,326.10 L327.40,326.09 L327.90,326.09 L328.40,326.09 L328.90,326.09 L329.40,326.08 L329.90,326.08 L330.40,326.08 L330.90,326.08 L331.40,326.07 L331.90,326.07 L332.40,326.07 L332.90,326.07 L333.40,326.06 L333.90,326.06 L334.40,326.06 L334.90,326.05 L335.40,326.05 L335.90,326.05 L336.40,326.04 L336.90,326.04 L337.40,326.04 L337.90,326.03 L338.40,326.03 L338.90,326.03 L339.40,326.02 L339.90,326.02 L340.40,326.01 L340.90,326.01 L341.40,326.00 L341.90,325.99 L342.40,325.98 L342.90,325.97 L343.40,325.96 L343.90,325.95 L344.40,325.93 L344.90,325.91 L345.40,325.90 L345.90,325.88 L346.40,325.86 L346.90,325.84 L347.40,325.82 L347.90,325.80 L348.40,325.77 L348.90,325.75 L349.40,325.73 L349.90,325.70 L350.40,325.68 L350.90,325.65 L351.40,325.63 L351.90,325.60 L352.40,325.58 L352.90,325.55 L353.40,325.52 L353.90,325.50 L354.40,325.47 L354.90,325.44 L355.40,325.42 L355.90,325.39 L356.40,325.37 L356.90,325.34 L357.40,325.31 L357.90,325.29 L358.40,325.26 L358.90,325.24 L359.40,325.22 L359.90,325.19 L360.40,325.17 L360.90,325.14 L361.40,325.12 L361.90,325.09 L362.40,325.06 L362.90,325.03 L363.40,325.00 L363.90,324.97 L364.40,324.94 L364.90,324.90 L365.40,324.87 L365.90,324.84 L366.40,324.80 L366.90,324.77 L367.40,324.74 L367.90,324.70 L368.40,324.67 L368.90,324.64 L369.40,324.61 L369.90,324.58 L370.40,324.55 L370.90,324.52 L371.40,324.50 L371.90,324.47 L372.40,324.45 L372.90,324.43 L373.40,324.41 L373.90,324.40 L374.40,324.38 L374.90,324.37 L375.40,324.36 L375.90,324.36 L376.40,324.35 L376.90,324.35 L377.40,324.36 L377.90,324.36 L378.40,324.36 L378.90,324.37 L379.40,324.38 L379.90,324.39 L380.40,324.40 L380.90,324.41 L381.40,324.42 L381.90,324.44 L382.40,324.45 L382.90,324.47 L383.40,324.48 L383.90,324.50 L384.40,324.52 L384.90,324.54 L385.40,324.56 L385.90,324.58 L386.40,324.61 L386.90,324.63 L387.40,324.65 L387.90,324.68 L388.40,324.70 L388.90,324.72 L389.40,324.75 L389.90,324.78 L390.40,324.80 L390.90,324.83 L391.40,324.85 L391.90,324.88 L392.40,324.91 L392.90,324.93 L393.40,324.96 L393.90,324.99 L394.40,325.01 L394.90,325.04 L395.40,325.07 L395.90,325.10 L396.40,325.13 L396.90,325.17 L397.40,325.20 L397.90,325.24 L398.40,325.28 L398.90,325.32 L399.40,325.37 L399.90,325.41 L400.40,325.46 L400.90,325.51 L401.40,325.55 L401.90,325.61 L402.40,325.66 L402.90,325.71 L403.40,325.76 L403.90,325.82 L404.40,325.87 L404.90,325.93 L405.40,325.99 L405.90,326.04 L406.40,326.10 L406.90,326.16 L407.40,326.22 L407.90,326.28 L408.40,326.33 L408.90,326.39 L409.40,326.45 L409.90,326.51 L410.40,326.56 L410.90,326.62 L411.40,326.68 L411.90,326.73 L412.40,326.79 L412.90,326.84 L413.40,326.89 L413.90,326.94 L414.40,326.99 L414.90,327.04 L415.40,327.09 L415.90,327.13 L416.40,327.18 L416.90,327.22 L417.40,327.26 L417.90,327.30 L418.40,327.34 L418.90,327.37 L419.40,327.41 L419.90,327.44 L420.40,327.47 L420.90,327.49 L421.40,327.52 L421.90,327.55 L422.40,327.58 L422.90,327.60 L423.40,327.63 L423.90,327.66 L424.40,327.68 L424.90,327.71 L425.40,327.73 L425.90,327.76 L426.40,327.78 L426.90,327.81 L427.40,327.83 L427.90,327.86 L428.40,327.88 L428.90,327.90 L429.40,327.93 L429.90,327.95 L430.40,327.97 L430.90,327.99 L431.40,328.02 L431.90,328.04 L432.40,328.06 L432.90,328.08 L433.40,328.10 L433.90,328.12 L434.40,328.14 L434.90,328.16 L435.40,328.18 L435.90,328.19 L436.40,328.21 L436.90,328.23 L437.40,328.25 L437.90,328.27 L438.40,328.28 L438.90,328.30 L439.40,328.32 L439.90,328.33 L440.40,328.35 L440.90,328.36 L441.40,328.38 L441.90,328.39 L442.40,328.41 L442.90,328.42 L443.40,328.43 L443.90,328.45 L444.40,328.46 L444.90,328.47 L445.40,328.49 L445.90,328.50 L446.40,328.51 L446.90,328.52 L447.40,328.54 L447.90,328.55 L448.40,328.56 L448.90,328.57 L449.40,328.59 L449.90,328.60 L450.40,328.61 L450.90,328.62 L451.40,328.64 L451.90,328.65 L452.40,328.66 L452.90,328.67 L453.40,328.68 L453.90,328.70 L454.40,328.71 L454.90,328.72 L455.40,328.73 L455.90,328.75 L456.40,328.76 L456.90,328.77 L457.40,328.78 L457.90,328.79 L458.40,328.80 L458.90,328.82 L459.40,328.83 L459.90,328.84 L460.40,328.85 L460.90,328.86 L461.40,328.87 L461.90,328.88 L462.40,328.90 L462.90,328.91 L463.40,328.92 L463.90,328.93 L464.40,328.94 L464.90,328.95 L465.40,328.96 L465.90,328.97 L466.40,328.98 L466.90,328.99 L467.40,329.00 L467.90,329.01 L468.40,329.02 L468.90,329.03 L469.40,329.04 L469.90,329.05 L470.40,329.06 L470.90,329.07 L471.40,329.08 L471.90,329.09 L472.40,329.10 L472.90,329.11 L473.40,329.12 L473.90,329.12 L474.40,329.13 L474.90,329.14 L475.40,329.15 L475.90,329.16 L476.40,329.17 L476.90,329.17 L477.40,329.18 L477.90,329.19 L478.40,329.20 L478.90,329.20 L479.40,329.21 L479.90,329.22 L480.40,329.23 L480.90,329.23 L481.40,329.24 L481.90,329.24 L482.40,329.25 L482.90,329.26 L483.40,329.26 L483.90,329.27 L484.40,329.27 L484.90,329.28 L485.40,329.28 L485.90,329.29 L486.40,329.29 L486.90,329.30 L487.40,329.30 L487.90,329.31 L488.40,329.31 L488.90,329.31 L489.40,329.32 L489.90,329.32 L490.40,329.32 L490.90,329.33 L491.40,329.33 L491.90,329.33 L492.40,329.33 L492.90,329.34 L493.40,329.34 L493.90,329.34 L494.40,329.34 L494.90,329.34 L495.40,329.34 L495.90,329.34 L496.40,329.34 L496.90,329.34" stroke="#8a8aff" stroke-width="2.0" fill="none"/>
<path d="M64.40,95.09 L64.90,94.68 L65.40,94.06 L65.90,93.45 L66.40,92.86 L66.90,92.28 L67.40,91.71 L67.90,91.16 L68.40,90.63 L68.90,90.11 L69.40,89.60 L69.90,89.11 L70.40,88.64 L70.90,88.17 L71.40,87.72 L71.90,87.27 L72.40,86.83 L72.90,86.40 L73.40,85.97 L73.90,85.54 L74.40,85.11 L74.90,84.67 L75.40,84.22 L75.90,83.77 L76.40,83.30 L76.90,82.84 L77.40,82.39 L77.90,81.94 L78.40,81.51 L78.90,81.09 L79.40,80.70 L79.90,80.33 L80.40,80.00 L80.90,79.70 L81.40,79.45 L81.90,79.22 L82.40,79.01 L82.90,78.80 L83.40,78.62 L83.90,78.47 L84.40,78.37 L84.90,78.32 L85.40,78.30 L85.90,78.30 L86.40,78.30 L86.90,78.30 L87.40,78.35 L87.90,78.46 L88.40,78.67 L88.90,78.94 L89.40,79.25 L89.90,79.64 L90.40,80.13 L90.90,80.71 L91.40,81.38 L91.90,82.14 L92.40,83.00 L92.90,83.97 L93.40,85.04 L93.90,86.19 L94.40,87.42 L94.90,88.72 L95.40,90.12 L95.90,91.65 L96.40,93.33 L96.90,95.15 L97.40,97.06 L97.90,99.03 L98.40,101.03 L98.90,103.02 L99.40,104.99 L99.90,106.96 L100.40,108.93 L100.90,110.94 L101.40,112.97 L101.90,115.02 L102.40,117.09 L102.90,119.21 L103.40,121.36 L103.90,123.53 L104.40,125.71 L104.90,127.87 L105.40,129.98 L105.90,132.03 L106.40,134.03 L106.90,136.03 L107.40,138.04 L107.90,140.10 L108.40,142.23 L108.90,144.40 L109.40,146.62 L109.90,148.86 L110.40,151.14 L110.90,153.43 L111.40,155.73 L111.90,158.04 L112.40,160.38 L112.90,162.75 L113.40,165.15 L113.90,167.56 L114.40,169.98 L114.90,172.37 L115.40,174.72 L115.90,177.03 L116.40,179.29 L116.90,181.52 L117.40,183.72 L117.90,185.89 L118.40,188.05 L118.90,190.18 L119.40,192.30 L119.90,194.41 L120.40,196.50 L120.90,198.58 L121.40,200.65 L121.90,202.71 L122.40,204.76 L122.90,206.79 L123.40,208.82 L123.90,210.83 L124.40,212.83 L124.90,214.82 L125.40,216.80 L125.90,218.77 L126.40,220.72 L126.90,222.67 L127.40,224.61 L127.90,226.55 L128.40,228.48 L128.90,230.41 L129.40,232.34 L129.90,234.26 L130.40,236.17 L130.90,238.07 L131.40,239.95 L131.90,241.81 L132.40,243.64 L132.90,245.45 L133.40,247.22 L133.90,248.96 L134.40,250.67 L134.90,252.34 L135.40,253.98 L135.90,255.60 L136.40,257.20 L136.90,258.77 L137.40,260.32 L137.90,261.86 L138.40,263.39 L138.90,264.90 L139.40,266.41 L139.90,267.91 L140.40,269.40 L140.90,270.90 L141.40,272.40 L141.90,273.91 L142.40,275.42 L142.90,276.93 L143.40,278.43 L143.90,279.92 L144.40,281.39 L144.90,282.85 L145.40,284.29 L145.90,285.70 L146.40,287.08 L146.90,288.42 L147.40,289.73 L147.90,291.00 L148.40,292.23 L148.90,293.43 L149.40,294.60 L149.90,295.73 L150.40,296.83 L150.90,297.87 L151.40,298.87 L151.90,299.80 L152.40,300.70 L152.90,301.56 L153.40,302.40 L153.90,303.21 L154.40,304.00 L154.90,304.76 L155.40,305.50 L155.90,306.20 L156.40,306.87 L156.90,307.51 L157.40,308.11 L157.90,308.68 L158.40,309.22 L158.90,309.74 L159.40,310.24 L159.90,310.73 L160.40,311.20 L160.90,311.66 L161.40,312.10 L161.90,312.53 L162.40,312.94 L162.90,313.33 L163.40,313.72 L163.90,314.09 L164.40,314.44 L164.90,314.79 L165.40,315.12 L165.90,315.43 L166.40,315.74 L166.90,316.03 L167.40,316.32 L167.90,316.59 L168.40,316.86 L168.90,317.12 L169.40,317.37 L169.90,317.62 L170.40,317.85 L170.90,318.09 L171.40,318.32 L171.90,318.54 L172.40,318.76 L172.90,318.98 L173.40,319.19 L173.90,319.41 L174.40,319.62 L174.90,319.83 L175.40,320.04 L175.90,320.26 L176.40,320.47 L176.90,320.69 L177.40,320.90 L177.90,321.11 L178.40,321.33 L178.90,321.54 L179.40,321.74 L179.90,321.95 L180.40,322.15 L180.90,322.35 L181.40,322.55 L181.90,322.74 L182.40,322.92 L182.90,323.10 L183.40,323.28 L183.90,323.45 L184.40,323.61 L184.90,323.77 L185.40,323.92 L185.90,324.07 L186.40,324.22 L186.90,324.36 L187.40,324.50 L187.90,324.64 L188.40,324.78 L188.90,324.91 L189.40,325.04 L189.90,325.17 L190.40,325.29 L190.90,325.41 L191.40,325.52 L191.90,325.63 L192.40,325.73 L192.90,325.83 L193.40,325.91 L193.90,326.00 L194.40,326.08 L194.90,326.16 L195.40,326.23 L195.90,326.31 L196.40,326.38 L196.90,326.46 L197.40,326.53 L197.90,326.60 L198.40,326.67 L198.90,326.74 L199.40,326.81 L199.90,326.88 L200.40,326.94 L200.90,327.01 L201.40,327.07 L201.90,327.13 L202.40,327.19 L202.90,327.25 L203.40,327.31 L203.90,327.36 L204.40,327.42 L204.90,327.47 L205.40,327.53 L205.90,327.58 L206.40,327.63 L206.90,327.68 L207.40,327.73 L207.90,327.78 L208.40,327.82 L208.90,327.86 L209.40,327.91 L209.90,327.95 L210.40,327.99 L210.90,328.03 L211.40,328.07 L211.90,328.10 L212.40,328.14 L212.90,328.17 L213.40,328.20 L213.90,328.24 L214.40,328.27 L214.90,328.29 L215.40,328.32 L215.90,328.35 L216.40,328.37 L216.90,328.40 L217.40,328.43 L217.90,328.45 L218.40,328.47 L218.90,328.50 L219.40,328.52 L219.90,328.54 L220.40,328.57 L220.90,328.59 L221.40,328.61 L221.90,328.63 L222.40,328.65 L222.90,328.67 L223.40,328.69 L223.90,328.71 L224.40,328.73 L224.90,328.75 L225.40,328.77 L225.90,328.79 L226.40,328.80 L226.90,328.82 L227.40,328.84 L227.90,328.86 L228.40,328.87 L228.90,328.89 L229.40,328.90 L229.90,328.92 L230.40,328.94 L230.90,328.95 L231.40,328.97 L231.90,328.98 L232.40,329.00 L232.90,329.01 L233.40,329.02 L233.90,329.04 L234.40,329.05 L234.90,329.07 L235.40,329.08 L235.90,329.09 L236.40,329.11 L236.90,329.12 L237.40,329.13 L237.90,329.15 L238.40,329.16 L238.90,329.17 L239.40,329.18 L239.90,329.20 L240.40,329.21 L240.90,329.22 L241.40,329.24 L241.90,329.25 L242.40,329.26 L242.90,329.27 L243.40,329.29 L243.90,329.30 L244.40,329.31 L244.90,329.32 L245.40,329.33 L245.90,329.35 L246.40,329.36 L246.90,329.37 L247.40,329.38 L247.90,329.39 L248.40,329.41 L248.90,329.42 L249.40,329.43 L249.90,329.44 L250.40,329.45 L250.90,329.46 L251.40,329.48 L251.90,329.49 L252.40,329.50 L252.90,329.51 L253.40,329.52 L253.90,329.53 L254.40,329.54 L254.90,329.55 L255.40,329.57 L255.90,329.58 L256.40,329.59 L256.90,329.60 L257.40,329.61 L257.90,329.62 L258.40,329.63 L258.90,329.64 L259.40,329.65 L259.90,329.66 L260.40,329.67 L260.90,329.68 L261.40,329.69 L261.90,329.70 L262.40,329.71 L262.90,329.72 L263.40,329.73 L263.90,329.74 L264.40,329.75 L264.90,329.76 L265.40,329.77 L265.90,329.78 L266.40,329.79 L266.90,329.80 L267.40,329.81 L267.90,329.82 L268.40,329.83 L268.90,329.84 L269.40,329.85 L269.90,329.86 L270.40,329.87 L270.90,329.88 L271.40,329.89 L271.90,329.90 L272.40,329.91 L272.90,329.91 L273.40,329.92 L273.90,329.93 L274.40,329.94 L274.90,329.95 L275.40,329.96 L275.90,329.97 L276.40,329.98 L276.90,329.98 L277.40,329.99 L277.90,330.00 L278.40,330.01 L278.90,330.02 L279.40,330.02 L279.90,330.03 L280.40,330.04 L280.90,330.05 L281.40,330.06 L281.90,330.06 L282.40,330.07 L282.90,330.08 L283.40,330.09 L283.90,330.09 L284.40,330.10 L284.90,330.11 L285.40,330.12 L285.90,330.12 L286.40,330.13 L286.90,330.14 L287.40,330.15 L287.90,330.15 L288.40,330.16 L288.90,330.17 L289.40,330.17 L289.90,330.18 L290.40,330.19 L290.90,330.19 L291.40,330.20 L291.90,330.21 L292.40,330.21 L292.90,330.22 L293.40,330.22 L293.90,330.23 L294.40,330.24 L294.90,330.24 L295.40,330.25 L295.90,330.25 L296.40,330.26 L296.90,330.27 L297.40,330.27 L297.90,330.28 L298.40,330.28 L298.90,330.29 L299.40,330.29 L299.90,330.30 L300.40,330.30 L300.90,330.31 L301.40,330.31 L301.90,330.32 L302.40,330.33 L302.90,330.33 L303.40,330.34 L303.90,330.34 L304.40,330.35 L304.90,330.35 L305.40,330.36 L305.90,330.36 L306.40,330.37 L306.90,330.37 L307.40,330.38 L307.90,330.38 L308.40,330.39 L308.90,330.39 L309.40,330.40 L309.90,330.40 L310.40,330.40 L310.90,330.41 L311.40,330.41 L311.90,330.42 L312.40,330.42 L312.90,330.43 L313.40,330.43 L313.90,330.44 L314.40,330.44 L314.90,330.45 L315.40,330.45 L315.90,330.46 L316.40,330.46 L316.90,330.47 L317.40,330.47 L317.90,330.47 L318.40,330.48 L318.90,330.48 L319.40,330.49 L319.90,330.49 L320.40,330.50 L320.90,330.50 L321.40,330.51 L321.90,330.51 L322.40,330.51 L322.90,330.52 L323.40,330.52 L323.90,330.53 L324.40,330.53 L324.90,330.54 L325.40,330.54 L325.90,330.54 L326.40,330.55 L326.90,330.55 L327.40,330.56 L327.90,330.56 L328.40,330.57 L328.90,330.57 L329.40,330.57 L329.90,330.58 L330.40,330.58 L330.90,330.59 L331.40,330.59 L331.90,330.59 L332.40,330.60 L332.90,330.60 L333.40,330.61 L333.90,330.61 L334.40,330.61 L334.90,330.62 L335.40,330.62 L335.90,330.63 L336.40,330.63 L336.90,330.63 L337.40,330.64 L337.90,330.64 L338.40,330.64 L338.90,330.65 L339.40,330.65 L339.90,330.66 L340.40,330.66 L340.90,330.66 L341.40,330.67 L341.90,330.67 L342.40,330.67 L342.90,330.68 L343.40,330.68 L343.90,330.69 L344.40,330.69 L344.90,330.69 L345.40,330.70 L345.90,330.70 L346.40,330.70 L346.90,330.71 L347.40,330.71 L347.90,330.71 L348.40,330.72 L348.90,330.72 L349.40,330.72 L349.90,330.73 L350.40,330.73 L350.90,330.73 L351.40,330.74 L351.90,330.74 L352.40,330.74 L352.90,330.75 L353.40,330.75 L353.90,330.75 L354.40,330.76 L354.90,330.76 L355.40,330.76 L355.90,330.77 L356.40,330.77 L356.90,330.77 L357.40,330.78 L357.90,330.78 L358.40,330.78 L358.90,330.79 L359.40,330.79 L359.90,330.79 L360.40,330.80 L360.90,330.80 L361.40,330.80 L361.90,330.80 L362.40,330.81 L362.90,330.81 L363.40,330.81 L363.90,330.82 L364.40,330.82 L364.90,330.82 L365.40,330.83 L365.90,330.83 L366.40,330.83 L366.90,330.83 L367.40,330.84 L367.90,330.84 L368.40,330.84 L368.90,330.85 L369.40,330.85 L369.90,330.85 L370.40,330.85 L370.90,330.86 L371.40,330.86 L371.90,330.86 L372.40,330.87 L372.90,330.87 L373.40,330.87 L373.90,330.87 L374.40,330.88 L374.90,330.88 L375.40,330.88 L375.90,330.88 L376.40,330.89 L376.90,330.89 L377.40,330.89 L377.90,330.90 L378.40,330.90 L378.90,330.90 L379.40,330.90 L379.90,330.91 L380.40,330.91 L380.90,330.91 L381.40,330.91 L381.90,330.92 L382.40,330.92 L382.90,330.92 L383.40,330.92 L383.90,330.93 L384.40,330.93 L384.90,330.93 L385.40,330.93 L385.90,330.94 L386.40,330.94 L386.90,330.94 L387.40,330.94 L387.90,330.95 L388.40,330.95 L388.90,330.95 L389.40,330.95 L389.90,330.95 L390.40,330.96 L390.90,330.96 L391.40,330.96 L391.90,330.96 L392.40,330.97 L392.90,330.97 L393.40,330.97 L393.90,330.97 L394.40,330.98 L394.90,330.98 L395.40,330.98 L395.90,330.98 L396.40,330.98 L396.90,330.99 L397.40,330.99 L397.90,330.99 L398.40,330.99 L398.90,331.00 L399.40,331.00 L399.90,331.00 L400.40,331.00 L400.90,331.00 L401.40,331.01 L401.90,331.01 L402.40,331.01 L402.90,331.01 L403.40,331.01 L403.90,331.02 L404.40,331.02 L404.90,331.02 L405.40,331.02 L405.90,331.03 L406.40,331.03 L406.90,331.03 L407.40,331.03 L407.90,331.03 L408.40,331.04 L408.90,331.04 L409.40,331.04 L409.90,331.04 L410.40,331.04 L410.90,331.05 L411.40,331.05 L411.90,331.05 L412.40,331.05 L412.90,331.05 L413.40,331.06 L413.90,331.06 L414.40,331.06 L414.90,331.06 L415.40,331.06 L415.90,331.07 L416.40,331.07 L416.90,331.07 L417.40,331.07 L417.90,331.07 L418.40,331.08 L418.90,331.08 L419.40,331.08 L419.90,331.08 L420.40,331.08 L420.90,331.09 L421.40,331.09 L421.90,331.09 L422.40,331.09 L422.90,331.09 L423.40,331.10 L423.90,331.10 L424.40,331.10 L424.90,331.10 L425.40,331.10 L425.90,331.11 L426.40,331.11 L426.90,331.11 L427.40,331.11 L427.90,331.11 L428.40,331.12 L428.90,331.12 L429.40,331.12 L429.90,331.12 L430.40,331.12 L430.90,331.13 L431.40,331.13 L431.90,331.13 L432.40,331.13 L432.90,331.13 L433.40,331.13 L433.90,331.14 L434.40,331.14 L434.90,331.14 L435.40,331.14 L435.90,331.14 L436.40,331.15 L436.90,331.15 L437.40,331.15 L437.90,331.15 L438.40,331.15 L438.90,331.15 L439.40,331.16 L439.90,331.16 L440.40,331.16 L440.90,331.16 L441.40,331.16 L441.90,331.17 L442.40,331.17 L442.90,331.17 L443.40,331.17 L443.90,331.17 L444.40,331.17 L444.90,331.18 L445.40,331.18 L445.90,331.18 L446.40,331.18 L446.90,331.18 L447.40,331.18 L447.90,331.19 L448.40,331.19 L448.90,331.19 L449.40,331.19 L449.90,331.19 L450.40,331.19 L450.90,331.20 L451.40,331.20 L451.90,331.20 L452.40,331.20 L452.90,331.20 L453.40,331.20 L453.90,331.20 L454.40,331.21 L454.90,331.21 L455.40,331.21 L455.90,331.21 L456.40,331.21 L456.90,331.21 L457.40,331.22 L457.90,331.22 L458.40,331.22 L458.90,331.22 L459.40,331.22 L459.90,331.22 L460.40,331.22 L460.90,331.23 L461.40,331.23 L461.90,331.23 L462.40,331.23 L462.90,331.23 L463.40,331.23 L463.90,331.23 L464.40,331.24 L464.90,331.24 L465.40,331.24 L465.90,331.24 L466.40,331.24 L466.90,331.24 L467.40,331.24 L467.90,331.24 L468.40,331.25 L468.90,331.25 L469.40,331.25 L469.90,331.25 L470.40,331.25 L470.90,331.25 L471.40,331.25 L471.90,331.25 L472.40,331.26 L472.90,331.26 L473.40,331.26 L473.90,331.26 L474.40,331.26 L474.90,331.26 L475.40,331.26 L475.90,331.26 L476.40,331.26 L476.90,331.27 L477.40,331.27 L477.90,331.27 L478.40,331.27 L478.90,331.27 L479.40,331.27 L479.90,331.27 L480.40,331.27 L480.90,331.27 L481.40,331.28 L481.90,331.28 L482.40,331.28 L482.90,331.28 L483.40,331.28 L483.90,331.28 L484.40,331.28 L484.90,331.28 L485.40,331.28 L485.90,331.28 L486.40,331.28 L486.90,331.29 L487.40,331.29 L487.90,331.29 L488.40,331.29 L488.90,331.29 L489.40,331.29 L489.90,331.29 L490.40,331.29 L490.90,331.29 L491.40,331.29 L491.90,331.29 L492.40,331.29 L492.90,331.29 L493.40,331.30 L493.90,331.30 L494.40,331.30 L494.90,331.30 L495.40,331.30 L495.90,331.30 L496.40,331.30 L496.90,331.30" stroke="#00c4d8" stroke-width="2.0" fill="none"/>
<path d="M64.40,91.31 L64.90,90.93 L65.40,90.36 L65.90,89.80 L66.40,89.25 L66.90,88.70 L67.40,88.17 L67.90,87.64 L68.40,87.12 L68.90,86.60 L69.40,86.10 L69.90,85.61 L70.40,85.13 L70.90,84.66 L71.40,84.19 L71.90,83.73 L72.40,83.26 L72.90,82.80 L73.40,82.34 L73.90,81.87 L74.40,81.40 L74.90,80.92 L75.40,80.43 L75.90,79.93 L76.40,79.42 L76.90,78.92 L77.40,78.41 L77.90,77.91 L78.40,77.41 L78.90,76.92 L79.40,76.45 L79.90,75.99 L80.40,75.55 L80.90,75.13 L81.40,74.73 L81.90,74.34 L82.40,73.95 L82.90,73.55 L83.40,73.14 L83.90,72.75 L84.40,72.39 L84.90,72.07 L85.40,71.81 L85.90,71.63 L86.40,71.54 L86.90,71.51 L87.40,71.51 L87.90,71.53 L88.40,71.56 L88.90,71.62 L89.40,71.75 L89.90,72.01 L90.40,72.37 L90.90,72.84 L91.40,73.41 L91.90,74.14 L92.40,75.03 L92.90,76.14 L93.40,77.47 L93.90,79.00 L94.40,80.63 L94.90,82.35 L95.40,84.18 L95.90,86.11 L96.40,88.07 L96.90,90.03 L97.40,92.00 L97.90,93.99 L98.40,96.04 L98.90,98.12 L99.40,100.21 L99.90,102.32 L100.40,104.44 L100.90,106.58 L101.40,108.72 L101.90,110.87 L102.40,113.03 L102.90,115.22 L103.40,117.44 L103.90,119.67 L104.40,121.91 L104.90,124.14 L105.40,126.33 L105.90,128.48 L106.40,130.60 L106.90,132.69 L107.40,134.79 L107.90,136.92 L108.40,139.08 L108.90,141.28 L109.40,143.49 L109.90,145.72 L110.40,147.96 L110.90,150.20 L111.40,152.44 L111.90,154.69 L112.40,156.95 L112.90,159.23 L113.40,161.52 L113.90,163.83 L114.40,166.13 L114.90,168.43 L115.40,170.69 L115.90,172.92 L116.40,175.13 L116.90,177.30 L117.40,179.46 L117.90,181.60 L118.40,183.72 L118.90,185.82 L119.40,187.90 L119.90,189.97 L120.40,192.03 L120.90,194.06 L121.40,196.09 L121.90,198.10 L122.40,200.09 L122.90,202.08 L123.40,204.05 L123.90,206.01 L124.40,207.96 L124.90,209.91 L125.40,211.85 L125.90,213.78 L126.40,215.70 L126.90,217.62 L127.40,219.54 L127.90,221.45 L128.40,223.37 L128.90,225.28 L129.40,227.19 L129.90,229.09 L130.40,230.99 L130.90,232.87 L131.40,234.75 L131.90,236.60 L132.40,238.43 L132.90,240.24 L133.40,242.03 L133.90,243.80 L134.40,245.55 L134.90,247.27 L135.40,248.97 L135.90,250.65 L136.40,252.31 L136.90,253.94 L137.40,255.56 L137.90,257.15 L138.40,258.72 L138.90,260.27 L139.40,261.80 L139.90,263.31 L140.40,264.82 L140.90,266.31 L141.40,267.81 L141.90,269.30 L142.40,270.78 L142.90,272.26 L143.40,273.72 L143.90,275.18 L144.40,276.62 L144.90,278.04 L145.40,279.44 L145.90,280.82 L146.40,282.17 L146.90,283.50 L147.40,284.80 L147.90,286.07 L148.40,287.30 L148.90,288.51 L149.40,289.69 L149.90,290.84 L150.40,291.96 L150.90,293.03 L151.40,294.05 L151.90,295.03 L152.40,295.97 L152.90,296.87 L153.40,297.76 L153.90,298.62 L154.40,299.46 L154.90,300.27 L155.40,301.06 L155.90,301.81 L156.40,302.54 L156.90,303.24 L157.40,303.91 L157.90,304.55 L158.40,305.16 L158.90,305.75 L159.40,306.32 L159.90,306.87 L160.40,307.41 L160.90,307.93 L161.40,308.44 L161.90,308.93 L162.40,309.41 L162.90,309.87 L163.40,310.32 L163.90,310.75 L164.40,311.18 L164.90,311.59 L165.40,311.99 L165.90,312.37 L166.40,312.75 L166.90,313.11 L167.40,313.46 L167.90,313.80 L168.40,314.13 L168.90,314.44 L169.40,314.74 L169.90,315.04 L170.40,315.33 L170.90,315.61 L171.40,315.88 L171.90,316.15 L172.40,316.41 L172.90,316.67 L173.40,316.92 L173.90,317.17 L174.40,317.42 L174.90,317.65 L175.40,317.88 L175.90,318.10 L176.40,318.31 L176.90,318.52 L177.40,318.73 L177.90,318.94 L178.40,319.15 L178.90,319.35 L179.40,319.55 L179.90,319.74 L180.40,319.93 L180.90,320.12 L181.40,320.30 L181.90,320.48 L182.40,320.65 L182.90,320.82 L183.40,320.99 L183.90,321.15 L184.40,321.30 L184.90,321.45 L185.40,321.59 L185.90,321.74 L186.40,321.88 L186.90,322.02 L187.40,322.16 L187.90,322.29 L188.40,322.42 L188.90,322.55 L189.40,322.68 L189.90,322.80 L190.40,322.92 L190.90,323.03 L191.40,323.14 L191.90,323.24 L192.40,323.34 L192.90,323.43 L193.40,323.51 L193.90,323.59 L194.40,323.66 L194.90,323.74 L195.40,323.81 L195.90,323.88 L196.40,323.95 L196.90,324.01 L197.40,324.08 L197.90,324.14 L198.40,324.21 L198.90,324.27 L199.40,324.33 L199.90,324.39 L200.40,324.45 L200.90,324.51 L201.40,324.56 L201.90,324.62 L202.40,324.67 L202.90,324.73 L203.40,324.78 L203.90,324.83 L204.40,324.88 L204.90,324.92 L205.40,324.97 L205.90,325.02 L206.40,325.06 L206.90,325.10 L207.40,325.14 L207.90,325.19 L208.40,325.22 L208.90,325.26 L209.40,325.30 L209.90,325.34 L210.40,325.37 L210.90,325.40 L211.40,325.44 L211.90,325.47 L212.40,325.50 L212.90,325.53 L213.40,325.55 L213.90,325.58 L214.40,325.61 L214.90,325.63 L215.40,325.65 L215.90,325.68 L216.40,325.70 L216.90,325.72 L217.40,325.74 L217.90,325.76 L218.40,325.78 L218.90,325.80 L219.40,325.82 L219.90,325.84 L220.40,325.86 L220.90,325.88 L221.40,325.90 L221.90,325.92 L222.40,325.94 L222.90,325.95 L223.40,325.97 L223.90,325.99 L224.40,326.00 L224.90,326.02 L225.40,326.04 L225.90,326.07 L226.40,326.10 L226.90,326.12 L227.40,326.15 L227.90,326.17 L228.40,326.20 L228.90,326.22 L229.40,326.25 L229.90,326.27 L230.40,326.30 L230.90,326.32 L231.40,326.34 L231.90,326.36 L232.40,326.39 L232.90,326.41 L233.40,326.43 L233.90,326.45 L234.40,326.47 L234.90,326.49 L235.40,326.51 L235.90,326.53 L236.40,326.55 L236.90,326.57 L237.40,326.59 L237.90,326.61 L238.40,326.62 L238.90,326.64 L239.40,326.66 L239.90,326.68 L240.40,326.69 L240.90,326.71 L241.40,326.73 L241.90,326.74 L242.40,326.76 L242.90,326.78 L243.40,326.80 L243.90,326.81 L244.40,326.83 L244.90,326.85 L245.40,326.86 L245.90,326.88 L246.40,326.90 L246.90,326.91 L247.40,326.93 L247.90,326.95 L248.40,326.96 L248.90,326.98 L249.40,326.99 L249.90,327.01 L250.40,327.03 L250.90,327.04 L251.40,327.06 L251.90,327.08 L252.40,327.09 L252.90,327.11 L253.40,327.12 L253.90,327.14 L254.40,327.15 L254.90,327.17 L255.40,327.19 L255.90,327.20 L256.40,327.22 L256.90,327.23 L257.40,327.25 L257.90,327.26 L258.40,327.28 L258.90,327.29 L259.40,327.31 L259.90,327.32 L260.40,327.34 L260.90,327.35 L261.40,327.37 L261.90,327.38 L262.40,327.39 L262.90,327.41 L263.40,327.42 L263.90,327.44 L264.40,327.45 L264.90,327.47 L265.40,327.48 L265.90,327.49 L266.40,327.51 L266.90,327.52 L267.40,327.53 L267.90,327.55 L268.40,327.56 L268.90,327.57 L269.40,327.59 L269.90,327.60 L270.40,327.61 L270.90,327.62 L271.40,327.64 L271.90,327.65 L272.40,327.66 L272.90,327.67 L273.40,327.68 L273.90,327.70 L274.40,327.71 L274.90,327.72 L275.40,327.73 L275.90,327.74 L276.40,327.75 L276.90,327.76 L277.40,327.77 L277.90,327.79 L278.40,327.80 L278.90,327.81 L279.40,327.82 L279.90,327.83 L280.40,327.84 L280.90,327.85 L281.40,327.86 L281.90,327.87 L282.40,327.87 L282.90,327.88 L283.40,327.89 L283.90,327.90 L284.40,327.91 L284.90,327.92 L285.40,327.93 L285.90,327.94 L286.40,327.94 L286.90,327.95 L287.40,327.96 L287.90,327.97 L288.40,327.97 L288.90,327.98 L289.40,327.99 L289.90,328.00 L290.40,328.00 L290.90,328.01 L291.40,328.02 L291.90,328.02 L292.40,328.03 L292.90,328.03 L293.40,328.04 L293.90,328.04 L294.40,328.05 L294.90,328.05 L295.40,328.06 L295.90,328.06 L296.40,328.07 L296.90,328.07 L297.40,328.08 L297.90,328.08 L298.40,328.08 L298.90,328.09 L299.40,328.09 L299.90,328.09 L300.40,328.10 L300.90,328.10 L301.40,328.10 L301.90,328.11 L302.40,328.11 L302.90,328.11 L303.40,328.11 L303.90,328.12 L304.40,328.12 L304.90,328.12 L305.40,328.12 L305.90,328.13 L306.40,328.13 L306.90,328.13 L307.40,328.13 L307.90,328.14 L308.40,328.14 L308.90,328.14 L309.40,328.14 L309.90,328.14 L310.40,328.15 L310.90,328.15 L311.40,328.15 L311.90,328.15 L312.40,328.15 L312.90,328.16 L313.40,328.16 L313.90,328.16 L314.40,328.16 L314.90,328.16 L315.40,328.17 L315.90,328.17 L316.40,328.17 L316.90,328.17 L317.40,328.17 L317.90,328.17 L318.40,328.17 L318.90,328.18 L319.40,328.18 L319.90,328.18 L320.40,328.18 L320.90,328.18 L321.40,328.18 L321.90,328.18 L322.40,328.18 L322.90,328.19 L323.40,328.19 L323.90,328.19 L324.40,328.19 L324.90,328.19 L325.40,328.19 L325.90,328.19 L326.40,328.19 L326.90,328.19 L327.40,328.19 L327.90,328.19 L328.40,328.20 L328.90,328.20 L329.40,328.20 L329.90,328.20 L330.40,328.20 L330.90,328.20 L331.40,328.20 L331.90,328.20 L332.40,328.20 L332.90,328.20 L333.40,328.20 L333.90,328.20 L334.40,328.20 L334.90,328.20 L335.40,328.20 L335.90,328.20 L336.40,328.20 L336.90,328.20 L337.40,328.20 L337.90,328.20 L338.40,328.20 L338.90,328.20 L339.40,328.19 L339.90,328.19 L340.40,328.19 L340.90,328.19 L341.40,328.18 L341.90,328.18 L342.40,328.17 L342.90,328.17 L343.40,328.16 L343.90,328.15 L344.40,328.14 L344.90,328.13 L345.40,328.12 L345.90,328.11 L346.40,328.09 L346.90,328.08 L347.40,328.06 L347.90,328.04 L348.40,328.03 L348.90,328.01 L349.40,327.99 L349.90,327.97 L350.40,327.94 L350.90,327.92 L351.40,327.89 L351.90,327.87 L352.40,327.84 L352.90,327.81 L353.40,327.78 L353.90,327.75 L354.40,327.71 L354.90,327.68 L355.40,327.64 L355.90,327.60 L356.40,327.57 L356.90,327.53 L357.40,327.48 L357.90,327.44 L358.40,327.40 L358.90,327.35 L359.40,327.30 L359.90,327.25 L360.40,327.20 L360.90,327.15 L361.40,327.10 L361.90,327.04 L362.40,326.98 L362.90,326.92 L363.40,326.86 L363.90,326.80 L364.40,326.74 L364.90,326.67 L365.40,326.61 L365.90,326.54 L366.40,326.48 L366.90,326.42 L367.40,326.35 L367.90,326.29 L368.40,326.23 L368.90,326.17 L369.40,326.11 L369.90,326.05 L370.40,326.00 L370.90,325.95 L371.40,325.90 L371.90,325.86 L372.40,325.81 L372.90,325.78 L373.40,325.74 L373.90,325.71 L374.40,325.69 L374.90,325.67 L375.40,325.65 L375.90,325.64 L376.40,325.63 L376.90,325.63 L377.40,325.63 L377.90,325.64 L378.40,325.65 L378.90,325.67 L379.40,325.69 L379.90,325.71 L380.40,325.74 L380.90,325.77 L381.40,325.81 L381.90,325.85 L382.40,325.89 L382.90,325.93 L383.40,325.98 L383.90,326.03 L384.40,326.08 L384.90,326.14 L385.40,326.19 L385.90,326.25 L386.40,326.31 L386.90,326.37 L387.40,326.43 L387.90,326.49 L388.40,326.56 L388.90,326.62 L389.40,326.68 L389.90,326.74 L390.40,326.81 L390.90,326.87 L391.40,326.93 L391.90,326.99 L392.40,327.05 L392.90,327.10 L393.40,327.16 L393.90,327.21 L394.40,327.27 L394.90,327.32 L395.40,327.37 L395.90,327.42 L396.40,327.47 L396.90,327.52 L397.40,327.57 L397.90,327.62 L398.40,327.67 L398.90,327.71 L399.40,327.76 L399.90,327.81 L400.40,327.85 L400.90,327.90 L401.40,327.94 L401.90,327.99 L402.40,328.03 L402.90,328.07 L403.40,328.12 L403.90,328.16 L404.40,328.20 L404.90,328.24 L405.40,328.28 L405.90,328.32 L406.40,328.36 L406.90,328.40 L407.40,328.43 L407.90,328.47 L408.40,328.51 L408.90,328.54 L409.40,328.58 L409.90,328.61 L410.40,328.65 L410.90,328.68 L411.40,328.72 L411.90,328.75 L412.40,328.78 L412.90,328.81 L413.40,328.84 L413.90,328.87 L414.40,328.90 L414.90,328.93 L415.40,328.95 L415.90,328.98 L416.40,329.00 L416.90,329.03 L417.40,329.05 L417.90,329.07 L418.40,329.10 L418.90,329.11 L419.40,329.13 L419.90,329.15 L420.40,329.17 L420.90,329.18 L421.40,329.20 L421.90,329.22 L422.40,329.23 L422.90,329.25 L423.40,329.26 L423.90,329.28 L424.40,329.29 L424.90,329.31 L425.40,329.32 L425.90,329.33 L426.40,329.35 L426.90,329.36 L427.40,329.38 L427.90,329.39 L428.40,329.40 L428.90,329.42 L429.40,329.43 L429.90,329.44 L430.40,329.45 L430.90,329.47 L431.40,329.48 L431.90,329.49 L432.40,329.50 L432.90,329.52 L433.40,329.53 L433.90,329.54 L434.40,329.55 L434.90,329.56 L435.40,329.57 L435.90,329.58 L436.40,329.59 L436.90,329.60 L437.40,329.61 L437.90,329.62 L438.40,329.63 L438.90,329.64 L439.40,329.65 L439.90,329.66 L440.40,329.67 L440.90,329.68 L441.40,329.69 L441.90,329.70 L442.40,329.71 L442.90,329.71 L443.40,329.72 L443.90,329.73 L444.40,329.74 L444.90,329.75 L445.40,329.75 L445.90,329.76 L446.40,329.77 L446.90,329.78 L447.40,329.78 L447.90,329.79 L448.40,329.80 L448.90,329.80 L449.40,329.81 L449.90,329.82 L450.40,329.83 L450.90,329.83 L451.40,329.84 L451.90,329.85 L452.40,329.86 L452.90,329.86 L453.40,329.87 L453.90,329.88 L454.40,329.88 L454.90,329.89 L455.40,329.90 L455.90,329.91 L456.40,329.91 L456.90,329.92 L457.40,329.93 L457.90,329.93 L458.40,329.94 L458.90,329.95 L459.40,329.95 L459.90,329.96 L460.40,329.97 L460.90,329.97 L461.40,329.98 L461.90,329.99 L462.40,329.99 L462.90,330.00 L463.40,330.01 L463.90,330.01 L464.40,330.02 L464.90,330.03 L465.40,330.03 L465.90,330.04 L466.40,330.04 L466.90,330.05 L467.40,330.06 L467.90,330.06 L468.40,330.07 L468.90,330.07 L469.40,330.08 L469.90,330.09 L470.40,330.09 L470.90,330.10 L471.40,330.10 L471.90,330.11 L472.40,330.11 L472.90,330.12 L473.40,330.12 L473.90,330.13 L474.40,330.13 L474.90,330.14 L475.40,330.14 L475.90,330.15 L476.40,330.15 L476.90,330.16 L477.40,330.16 L477.90,330.17 L478.40,330.17 L478.90,330.18 L479.40,330.18 L479.90,330.18 L480.40,330.19 L480.90,330.19 L481.40,330.20 L481.90,330.20 L482.40,330.20 L482.90,330.21 L483.40,330.21 L483.90,330.21 L484.40,330.22 L484.90,330.22 L485.40,330.22 L485.90,330.23 L486.40,330.23 L486.90,330.23 L487.40,330.24 L487.90,330.24 L488.40,330.24 L488.90,330.24 L489.40,330.25 L489.90,330.25 L490.40,330.25 L490.90,330.25 L491.40,330.25 L491.90,330.26 L492.40,330.26 L492.90,330.26 L493.40,330.26 L493.90,330.26 L494.40,330.26 L494.90,330.26 L495.40,330.26 L495.90,330.26 L496.40,330.26 L496.90,330.26" stroke="#00b000" stroke-width="2.0" fill="none"/>
<path d="M64.40,90.30 L64.90,89.92 L65.40,89.34 L65.90,88.77 L66.40,88.22 L66.90,87.67 L67.40,87.14 L67.90,86.61 L68.40,86.10 L68.90,85.60 L69.40,85.12 L69.90,84.66 L70.40,84.20 L70.90,83.76 L71.40,83.33 L71.90,82.91 L72.40,82.48 L72.90,82.05 L73.40,81.61 L73.90,81.16 L74.40,80.70 L74.90,80.22 L75.40,79.72 L75.90,79.21 L76.40,78.68 L76.90,78.15 L77.40,77.62 L77.90,77.08 L78.40,76.56 L78.90,76.04 L79.40,75.54 L79.90,75.05 L80.40,74.59 L80.90,74.15 L81.40,73.74 L81.90,73.34 L82.40,72.95 L82.90,72.54 L83.40,72.13 L83.90,71.74 L84.40,71.38 L84.90,71.07 L85.40,70.81 L85.90,70.63 L86.40,70.54 L86.90,70.52 L87.40,70.55 L87.90,70.61 L88.40,70.69 L88.90,70.80 L89.40,70.97 L89.90,71.23 L90.40,71.59 L90.90,72.04 L91.40,72.60 L91.90,73.31 L92.40,74.17 L92.90,75.13 L93.40,76.19 L93.90,77.31 L94.40,78.53 L94.90,79.86 L95.40,81.32 L95.90,82.88 L96.40,84.47 L96.90,86.16 L97.40,87.98 L97.90,89.96 L98.40,92.04 L98.90,94.19 L99.40,96.39 L99.90,98.61 L100.40,100.85 L100.90,103.09 L101.40,105.32 L101.90,107.55 L102.40,109.78 L102.90,112.03 L103.40,114.30 L103.90,116.59 L104.40,118.88 L104.90,121.16 L105.40,123.41 L105.90,125.64 L106.40,127.84 L106.90,130.02 L107.40,132.19 L107.90,134.37 L108.40,136.57 L108.90,138.77 L109.40,140.99 L109.90,143.20 L110.40,145.41 L110.90,147.62 L111.40,149.81 L111.90,152.01 L112.40,154.20 L112.90,156.41 L113.40,158.62 L113.90,160.84 L114.40,163.06 L114.90,165.27 L115.40,167.47 L115.90,169.64 L116.40,171.80 L116.90,173.93 L117.40,176.05 L117.90,178.16 L118.40,180.25 L118.90,182.33 L119.40,184.39 L119.90,186.43 L120.40,188.45 L120.90,190.45 L121.40,192.44 L121.90,194.41 L122.40,196.36 L122.90,198.31 L123.40,200.24 L123.90,202.16 L124.40,204.07 L124.90,205.98 L125.40,207.88 L125.90,209.78 L126.40,211.69 L126.90,213.58 L127.40,215.48 L127.90,217.38 L128.40,219.27 L128.90,221.17 L129.40,223.07 L129.90,224.96 L130.40,226.84 L130.90,228.72 L131.40,230.58 L131.90,232.43 L132.40,234.27 L132.90,236.08 L133.40,237.88 L133.90,239.67 L134.40,241.45 L134.90,243.21 L135.40,244.96 L135.90,246.69 L136.40,248.39 L136.90,250.08 L137.40,251.74 L137.90,253.38 L138.40,254.99 L138.90,256.57 L139.40,258.12 L139.90,259.64 L140.40,261.15 L140.90,262.64 L141.40,264.13 L141.90,265.60 L142.40,267.07 L142.90,268.52 L143.40,269.96 L143.90,271.38 L144.40,272.79 L144.90,274.19 L145.40,275.56 L145.90,276.92 L146.40,278.25 L146.90,279.57 L147.40,280.86 L147.90,282.12 L148.40,283.36 L148.90,284.57 L149.40,285.76 L149.90,286.93 L150.40,288.06 L150.90,289.15 L151.40,290.21 L151.90,291.21 L152.40,292.18 L152.90,293.13 L153.40,294.05 L153.90,294.94 L154.40,295.82 L154.90,296.67 L155.40,297.50 L155.90,298.31 L156.40,299.08 L156.90,299.83 L157.40,300.55 L157.90,301.24 L158.40,301.91 L158.90,302.55 L159.40,303.18 L159.90,303.79 L160.40,304.38 L160.90,304.95 L161.40,305.51 L161.90,306.05 L162.40,306.58 L162.90,307.10 L163.40,307.60 L163.90,308.09 L164.40,308.56 L164.90,309.03 L165.40,309.48 L165.90,309.93 L166.40,310.36 L166.90,310.77 L167.40,311.18 L167.90,311.57 L168.40,311.94 L168.90,312.30 L169.40,312.64 L169.90,312.98 L170.40,313.30 L170.90,313.62 L171.40,313.93 L171.90,314.24 L172.40,314.54 L172.90,314.83 L173.40,315.11 L173.90,315.39 L174.40,315.66 L174.90,315.91 L175.40,316.16 L175.90,316.40 L176.40,316.63 L176.90,316.86 L177.40,317.08 L177.90,317.30 L178.40,317.52 L178.90,317.73 L179.40,317.94 L179.90,318.14 L180.40,318.34 L180.90,318.53 L181.40,318.72 L181.90,318.91 L182.40,319.09 L182.90,319.27 L183.40,319.44 L183.90,319.61 L184.40,319.77 L184.90,319.93 L185.40,320.08 L185.90,320.24 L186.40,320.39 L186.90,320.54 L187.40,320.69 L187.90,320.83 L188.40,320.98 L188.90,321.12 L189.40,321.25 L189.90,321.38 L190.40,321.51 L190.90,321.63 L191.40,321.75 L191.90,321.86 L192.40,321.97 L192.90,322.07 L193.40,322.16 L193.90,322.25 L194.40,322.33 L194.90,322.41 L195.40,322.49 L195.90,322.57 L196.40,322.65 L196.90,322.72 L197.40,322.80 L197.90,322.87 L198.40,322.94 L198.90,323.01 L199.40,323.08 L199.90,323.15 L200.40,323.21 L200.90,323.28 L201.40,323.34 L201.90,323.40 L202.40,323.46 L202.90,323.52 L203.40,323.58 L203.90,323.64 L204.40,323.70 L204.90,323.75 L205.40,323.80 L205.90,323.86 L206.40,323.91 L206.90,323.96 L207.40,324.00 L207.90,324.05 L208.40,324.10 L208.90,324.14 L209.40,324.19 L209.90,324.23 L210.40,324.27 L210.90,324.31 L211.40,324.35 L211.90,324.39 L212.40,324.42 L212.90,324.46 L213.40,324.49 L213.90,324.53 L214.40,324.56 L214.90,324.59 L215.40,324.62 L215.90,324.65 L216.40,324.68 L216.90,324.71 L217.40,324.73 L217.90,324.76 L218.40,324.79 L218.90,324.82 L219.40,324.84 L219.90,324.87 L220.40,324.89 L220.90,324.92 L221.40,324.94 L221.90,324.97 L222.40,324.99 L222.90,325.02 L223.40,325.04 L223.90,325.06 L224.40,325.08 L224.90,325.11 L225.40,325.13 L225.90,325.16 L226.40,325.19 L226.90,325.22 L227.40,325.25 L227.90,325.28 L228.40,325.31 L228.90,325.34 L229.40,325.36 L229.90,325.39 L230.40,325.42 L230.90,325.44 L231.40,325.47 L231.90,325.49 L232.40,325.52 L232.90,325.54 L233.40,325.56 L233.90,325.59 L234.40,325.61 L234.90,325.63 L235.40,325.65 L235.90,325.68 L236.40,325.70 L236.90,325.72 L237.40,325.74 L237.90,325.76 L238.40,325.78 L238.90,325.80 L239.40,325.82 L239.90,325.84 L240.40,325.85 L240.90,325.87 L241.40,325.89 L241.90,325.91 L242.40,325.93 L242.90,325.95 L243.40,325.97 L243.90,325.98 L244.40,326.00 L244.90,326.02 L245.40,326.04 L245.90,326.06 L246.40,326.08 L246.90,326.09 L247.40,326.11 L247.90,326.13 L248.40,326.15 L248.90,326.17 L249.40,326.18 L249.90,326.20 L250.40,326.22 L250.90,326.24 L251.40,326.25 L251.90,326.27 L252.40,326.29 L252.90,326.31 L253.40,326.32 L253.90,326.34 L254.40,326.36 L254.90,326.38 L255.40,326.39 L255.90,326.41 L256.40,326.43 L256.90,326.44 L257.40,326.46 L257.90,326.48 L258.40,326.49 L258.90,326.51 L259.40,326.53 L259.90,326.54 L260.40,326.56 L260.90,326.57 L261.40,326.59 L261.90,326.61 L262.40,326.62 L262.90,326.64 L263.40,326.65 L263.90,326.67 L264.40,326.68 L264.90,326.70 L265.40,326.71 L265.90,326.73 L266.40,326.74 L266.90,326.76 L267.40,326.77 L267.90,326.79 L268.40,326.80 L268.90,326.82 L269.40,326.83 L269.90,326.84 L270.40,326.86 L270.90,326.87 L271.40,326.88 L271.90,326.90 L272.40,326.91 L272.90,326.92 L273.40,326.94 L273.90,326.95 L274.40,326.96 L274.90,326.98 L275.40,326.99 L275.90,327.00 L276.40,327.01 L276.90,327.02 L277.40,327.04 L277.90,327.05 L278.40,327.06 L278.90,327.07 L279.40,327.08 L279.90,327.09 L280.40,327.10 L280.90,327.11 L281.40,327.12 L281.90,327.13 L282.40,327.14 L282.90,327.15 L283.40,327.16 L283.90,327.17 L284.40,327.18 L284.90,327.19 L285.40,327.20 L285.90,327.21 L286.40,327.22 L286.90,327.22 L287.40,327.23 L287.90,327.24 L288.40,327.25 L288.90,327.25 L289.40,327.26 L289.90,327.27 L290.40,327.28 L290.90,327.28 L291.40,327.29 L291.90,327.29 L292.40,327.30 L292.90,327.31 L293.40,327.31 L293.90,327.32 L294.40,327.32 L294.90,327.33 L295.40,327.33 L295.90,327.33 L296.40,327.34 L296.90,327.34 L297.40,327.35 L297.90,327.35 L298.40,327.35 L298.90,327.35 L299.40,327.36 L299.90,327.36 L300.40,327.36 L300.90,327.36 L301.40,327.37 L301.90,327.37 L302.40,327.37 L302.90,327.37 L303.40,327.37 L303.90,327.37 L304.40,327.38 L304.90,327.38 L305.40,327.38 L305.90,327.38 L306.40,327.38 L306.90,327.38 L307.40,327.39 L307.90,327.39 L308.40,327.39 L308.90,327.39 L309.40,327.39 L309.90,327.39 L310.40,327.39 L310.90,327.39 L311.40,327.40 L311.90,327.40 L312.40,327.40 L312.90,327.40 L313.40,327.40 L313.90,327.40 L314.40,327.40 L314.90,327.40 L315.40,327.40 L315.90,327.40 L316.40,327.40 L316.90,327.40 L317.40,327.41 L317.90,327.41 L318.40,327.41 L318.90,327.41 L319.40,327.41 L319.90,327.41 L320.40,327.41 L320.90,327.41 L321.40,327.41 L321.90,327.41 L322.40,327.41 L322.90,327.41 L323.40,327.41 L323.90,327.41 L324.40,327.41 L324.90,327.41 L325.40,327.41 L325.90,327.41 L326.40,327.41 L326.90,327.41 L327.40,327.41 L327.90,327.41 L328.40,327.41 L328.90,327.41 L329.40,327.40 L329.90,327.40 L330.40,327.40 L330.90,327.40 L331.40,327.40 L331.90,327.40 L332.40,327.40 L332.90,327.40 L333.40,327.40 L333.90,327.40 L334.40,327.40 L334.90,327.39 L335.40,327.39 L335.90,327.39 L336.40,327.39 L336.90,327.39 L337.40,327.39 L337.90,327.39 L338.40,327.38 L338.90,327.38 L339.40,327.38 L339.90,327.38 L340.40,327.37 L340.90,327.37 L341.40,327.37 L341.90,327.36 L342.40,327.35 L342.90,327.34 L343.40,327.33 L343.90,327.32 L344.40,327.31 L344.90,327.30 L345.40,327.28 L345.90,327.27 L346.40,327.25 L346.90,327.24 L347.40,327.22 L347.90,327.20 L348.40,327.18 L348.90,327.16 L349.40,327.14 L349.90,327.11 L350.40,327.09 L350.90,327.06 L351.40,327.04 L351.90,327.01 L352.40,326.98 L352.90,326.95 L353.40,326.93 L353.90,326.89 L354.40,326.86 L354.90,326.83 L355.40,326.80 L355.90,326.76 L356.40,326.73 L356.90,326.69 L357.40,326.65 L357.90,326.62 L358.40,326.58 L358.90,326.54 L359.40,326.50 L359.90,326.46 L360.40,326.41 L360.90,326.37 L361.40,326.33 L361.90,326.28 L362.40,326.23 L362.90,326.18 L363.40,326.13 L363.90,326.07 L364.40,326.02 L364.90,325.97 L365.40,325.91 L365.90,325.86 L366.40,325.80 L366.90,325.75 L367.40,325.69 L367.90,325.64 L368.40,325.59 L368.90,325.54 L369.40,325.49 L369.90,325.44 L370.40,325.39 L370.90,325.35 L371.40,325.31 L371.90,325.27 L372.40,325.23 L372.90,325.20 L373.40,325.17 L373.90,325.15 L374.40,325.13 L374.90,325.11 L375.40,325.09 L375.90,325.08 L376.40,325.08 L376.90,325.08 L377.40,325.08 L377.90,325.09 L378.40,325.10 L378.90,325.11 L379.40,325.12 L379.90,325.14 L380.40,325.17 L380.90,325.19 L381.40,325.22 L381.90,325.25 L382.40,325.28 L382.90,325.32 L383.40,325.36 L383.90,325.40 L384.40,325.44 L384.90,325.48 L385.40,325.53 L385.90,325.57 L386.40,325.62 L386.90,325.67 L387.40,325.72 L387.90,325.76 L388.40,325.82 L388.90,325.87 L389.40,325.92 L389.90,325.97 L390.40,326.02 L390.90,326.07 L391.40,326.12 L391.90,326.17 L392.40,326.21 L392.90,326.26 L393.40,326.31 L393.90,326.35 L394.40,326.40 L394.90,326.44 L395.40,326.49 L395.90,326.53 L396.40,326.58 L396.90,326.62 L397.40,326.67 L397.90,326.71 L398.40,326.76 L398.90,326.81 L399.40,326.85 L399.90,326.90 L400.40,326.95 L400.90,326.99 L401.40,327.04 L401.90,327.09 L402.40,327.14 L402.90,327.18 L403.40,327.23 L403.90,327.28 L404.40,327.32 L404.90,327.37 L405.40,327.42 L405.90,327.46 L406.40,327.51 L406.90,327.56 L407.40,327.60 L407.90,327.65 L408.40,327.69 L408.90,327.74 L409.40,327.78 L409.90,327.82 L410.40,327.87 L410.90,327.91 L411.40,327.95 L411.90,327.99 L412.40,328.03 L412.90,328.07 L413.40,328.11 L413.90,328.15 L414.40,328.18 L414.90,328.22 L415.40,328.25 L415.90,328.29 L416.40,328.32 L416.90,328.35 L417.40,328.38 L417.90,328.41 L418.40,328.44 L418.90,328.46 L419.40,328.49 L419.90,328.51 L420.40,328.53 L420.90,328.55 L421.40,328.57 L421.90,328.59 L422.40,328.61 L422.90,328.63 L423.40,328.65 L423.90,328.67 L424.40,328.69 L424.90,328.71 L425.40,328.73 L425.90,328.74 L426.40,328.76 L426.90,328.78 L427.40,328.80 L427.90,328.82 L428.40,328.83 L428.90,328.85 L429.40,328.87 L429.90,328.88 L430.40,328.90 L430.90,328.91 L431.40,328.93 L431.90,328.95 L432.40,328.96 L432.90,328.98 L433.40,328.99 L433.90,329.01 L434.40,329.02 L434.90,329.03 L435.40,329.05 L435.90,329.06 L436.40,329.08 L436.90,329.09 L437.40,329.10 L437.90,329.11 L438.40,329.13 L438.90,329.14 L439.40,329.15 L439.90,329.16 L440.40,329.17 L440.90,329.19 L441.40,329.20 L441.90,329.21 L442.40,329.22 L442.90,329.23 L443.40,329.24 L443.90,329.25 L444.40,329.26 L444.90,329.27 L445.40,329.28 L445.90,329.29 L446.40,329.30 L446.90,329.31 L447.40,329.32 L447.90,329.32 L448.40,329.33 L448.90,329.34 L449.40,329.35 L449.90,329.36 L450.40,329.37 L450.90,329.38 L451.40,329.39 L451.90,329.40 L452.40,329.41 L452.90,329.42 L453.40,329.43 L453.90,329.43 L454.40,329.44 L454.90,329.45 L455.40,329.46 L455.90,329.47 L456.40,329.48 L456.90,329.49 L457.40,329.50 L457.90,329.51 L458.40,329.51 L458.90,329.52 L459.40,329.53 L459.90,329.54 L460.40,329.55 L460.90,329.56 L461.40,329.57 L461.90,329.57 L462.40,329.58 L462.90,329.59 L463.40,329.60 L463.90,329.61 L464.40,329.61 L464.90,329.62 L465.40,329.63 L465.90,329.64 L466.40,329.65 L466.90,329.65 L467.40,329.66 L467.90,329.67 L468.40,329.68 L468.90,329.68 L469.40,329.69 L469.90,329.70 L470.40,329.71 L470.90,329.71 L471.40,329.72 L471.90,329.73 L472.40,329.73 L472.90,329.74 L473.40,329.75 L473.90,329.75 L474.40,329.76 L474.90,329.77 L475.40,329.77 L475.90,329.78 L476.40,329.78 L476.90,329.79 L477.40,329.80 L477.90,329.80 L478.40,329.81 L478.90,329.81 L479.40,329.82 L479.90,329.82 L480.40,329.83 L480.90,329.83 L481.40,329.84 L481.90,329.84 L482.40,329.85 L482.90,329.85 L483.40,329.86 L483.90,329.86 L484.40,329.86 L484.90,329.87 L485.40,329.87 L485.90,329.88 L486.40,329.88 L486.90,329.88 L487.40,329.89 L487.90,329.89 L488.40,329.89 L488.90,329.89 L489.40,329.90 L489.90,329.90 L490.40,329.90 L490.90,329.90 L491.40,329.91 L491.90,329.91 L492.40,329.91 L492.90,329.91 L493.40,329.91 L493.90,329.92 L494.40,329.92 L494.90,329.92 L495.40,329.92 L495.90,329.92 L496.40,329.92 L496.90,329.92" stroke="#6a6a00" stroke-width="2.0" fill="none"/>
<path d="M64.40,87.54 L64.90,87.22 L65.40,86.74 L65.90,86.25 L66.40,85.76 L66.90,85.27 L67.40,84.78 L67.90,84.29 L68.40,83.80 L68.90,83.30 L69.40,82.80 L69.90,82.30 L70.40,81.81 L70.90,81.32 L71.40,80.82 L71.90,80.32 L72.40,79.82 L72.90,79.30 L73.40,78.78 L73.90,78.24 L74.40,77.68 L74.90,77.10 L75.40,76.50 L75.90,75.87 L76.40,75.24 L76.90,74.60 L77.40,73.95 L77.90,73.31 L78.40,72.68 L78.90,72.07 L79.40,71.44 L79.90,70.80 L80.40,70.14 L80.90,69.47 L81.40,68.82 L81.90,68.21 L82.40,67.67 L82.90,67.23 L83.40,66.88 L83.90,66.62 L84.40,66.39 L84.90,66.18 L85.40,65.99 L85.90,65.82 L86.40,65.69 L86.90,65.59 L87.40,65.53 L87.90,65.52 L88.40,65.56 L88.90,65.65 L89.40,65.79 L89.90,66.02 L90.40,66.42 L90.90,67.05 L91.40,67.84 L91.90,68.71 L92.40,69.66 L92.90,70.69 L93.40,71.83 L93.90,73.07 L94.40,74.40 L94.90,75.82 L95.40,77.35 L95.90,79.02 L96.40,80.80 L96.90,82.67 L97.40,84.58 L97.90,86.57 L98.40,88.66 L98.90,90.86 L99.40,93.13 L99.90,95.45 L100.40,97.79 L100.90,100.12 L101.40,102.44 L101.90,104.73 L102.40,107.02 L102.90,109.32 L103.40,111.64 L103.90,113.96 L104.40,116.29 L104.90,118.62 L105.40,120.94 L105.90,123.23 L106.40,125.51 L106.90,127.76 L107.40,129.99 L107.90,132.21 L108.40,134.43 L108.90,136.65 L109.40,138.86 L109.90,141.06 L110.40,143.25 L110.90,145.42 L111.40,147.58 L111.90,149.72 L112.40,151.87 L112.90,154.01 L113.40,156.15 L113.90,158.30 L114.40,160.45 L114.90,162.59 L115.40,164.73 L115.90,166.85 L116.40,168.96 L116.90,171.07 L117.40,173.16 L117.90,175.24 L118.40,177.31 L118.90,179.36 L119.40,181.39 L119.90,183.41 L120.40,185.41 L120.90,187.38 L121.40,189.33 L121.90,191.27 L122.40,193.19 L122.90,195.10 L123.40,197.00 L123.90,198.88 L124.40,200.76 L124.90,202.64 L125.40,204.52 L125.90,206.39 L126.40,208.27 L126.90,210.15 L127.40,212.03 L127.90,213.91 L128.40,215.80 L128.90,217.68 L129.40,219.56 L129.90,221.44 L130.40,223.32 L130.90,225.18 L131.40,227.04 L131.90,228.89 L132.40,230.72 L132.90,232.54 L133.40,234.36 L133.90,236.16 L134.40,237.97 L134.90,239.76 L135.40,241.55 L135.90,243.32 L136.40,245.07 L136.90,246.80 L137.40,248.50 L137.90,250.17 L138.40,251.81 L138.90,253.42 L139.40,254.98 L139.90,256.52 L140.40,258.03 L140.90,259.52 L141.40,261.00 L141.90,262.46 L142.40,263.91 L142.90,265.34 L143.40,266.76 L143.90,268.16 L144.40,269.54 L144.90,270.91 L145.40,272.27 L145.90,273.60 L146.40,274.92 L146.90,276.22 L147.40,277.50 L147.90,278.77 L148.40,280.01 L148.90,281.23 L149.40,282.43 L149.90,283.60 L150.40,284.75 L150.90,285.86 L151.40,286.93 L151.90,287.97 L152.40,288.97 L152.90,289.94 L153.40,290.89 L153.90,291.82 L154.40,292.73 L154.90,293.62 L155.40,294.48 L155.90,295.32 L156.40,296.14 L156.90,296.93 L157.40,297.70 L157.90,298.43 L158.40,299.15 L158.90,299.84 L159.40,300.51 L159.90,301.16 L160.40,301.80 L160.90,302.42 L161.40,303.02 L161.90,303.61 L162.40,304.18 L162.90,304.74 L163.40,305.29 L163.90,305.82 L164.40,306.34 L164.90,306.85 L165.40,307.36 L165.90,307.85 L166.40,308.32 L166.90,308.79 L167.40,309.23 L167.90,309.67 L168.40,310.08 L168.90,310.47 L169.40,310.85 L169.90,311.22 L170.40,311.58 L170.90,311.94 L171.40,312.28 L171.90,312.61 L172.40,312.94 L172.90,313.26 L173.40,313.57 L173.90,313.87 L174.40,314.16 L174.90,314.44 L175.40,314.71 L175.90,314.96 L176.40,315.21 L176.90,315.46 L177.40,315.69 L177.90,315.93 L178.40,316.15 L178.90,316.38 L179.40,316.59 L179.90,316.81 L180.40,317.01 L180.90,317.22 L181.40,317.41 L181.90,317.61 L182.40,317.80 L182.90,317.98 L183.40,318.16 L183.90,318.34 L184.40,318.51 L184.90,318.68 L185.40,318.84 L185.90,319.01 L186.40,319.17 L186.90,319.33 L187.40,319.49 L187.90,319.65 L188.40,319.80 L188.90,319.95 L189.40,320.10 L189.90,320.24 L190.40,320.38 L190.90,320.51 L191.40,320.64 L191.90,320.76 L192.40,320.88 L192.90,320.99 L193.40,321.09 L193.90,321.19 L194.40,321.28 L194.90,321.37 L195.40,321.46 L195.90,321.54 L196.40,321.63 L196.90,321.71 L197.40,321.79 L197.90,321.88 L198.40,321.96 L198.90,322.03 L199.40,322.11 L199.90,322.19 L200.40,322.26 L200.90,322.33 L201.40,322.40 L201.90,322.47 L202.40,322.54 L202.90,322.61 L203.40,322.68 L203.90,322.74 L204.40,322.80 L204.90,322.87 L205.40,322.93 L205.90,322.99 L206.40,323.04 L206.90,323.10 L207.40,323.16 L207.90,323.21 L208.40,323.26 L208.90,323.32 L209.40,323.37 L209.90,323.42 L210.40,323.46 L210.90,323.51 L211.40,323.56 L211.90,323.60 L212.40,323.65 L212.90,323.69 L213.40,323.73 L213.90,323.77 L214.40,323.81 L214.90,323.85 L215.40,323.88 L215.90,323.92 L216.40,323.96 L216.90,323.99 L217.40,324.03 L217.90,324.06 L218.40,324.10 L218.90,324.13 L219.40,324.16 L219.90,324.20 L220.40,324.23 L220.90,324.26 L221.40,324.29 L221.90,324.32 L222.40,324.35 L222.90,324.38 L223.40,324.41 L223.90,324.44 L224.40,324.47 L224.90,324.50 L225.40,324.53 L225.90,324.56 L226.40,324.59 L226.90,324.62 L227.40,324.65 L227.90,324.68 L228.40,324.71 L228.90,324.74 L229.40,324.77 L229.90,324.80 L230.40,324.83 L230.90,324.86 L231.40,324.88 L231.90,324.91 L232.40,324.94 L232.90,324.96 L233.40,324.99 L233.90,325.01 L234.40,325.04 L234.90,325.06 L235.40,325.08 L235.90,325.11 L236.40,325.13 L236.90,325.15 L237.40,325.17 L237.90,325.19 L238.40,325.22 L238.90,325.24 L239.40,325.26 L239.90,325.28 L240.40,325.30 L240.90,325.32 L241.40,325.33 L241.90,325.35 L242.40,325.37 L242.90,325.39 L243.40,325.41 L243.90,325.43 L244.40,325.45 L244.90,325.47 L245.40,325.49 L245.90,325.51 L246.40,325.53 L246.90,325.55 L247.40,325.57 L247.90,325.59 L248.40,325.60 L248.90,325.62 L249.40,325.64 L249.90,325.66 L250.40,325.68 L250.90,325.70 L251.40,325.72 L251.90,325.74 L252.40,325.75 L252.90,325.77 L253.40,325.79 L253.90,325.81 L254.40,325.83 L254.90,325.85 L255.40,325.86 L255.90,325.88 L256.40,325.90 L256.90,325.92 L257.40,325.93 L257.90,325.95 L258.40,325.97 L258.90,325.99 L259.40,326.00 L259.90,326.02 L260.40,326.04 L260.90,326.06 L261.40,326.07 L261.90,326.09 L262.40,326.11 L262.90,326.12 L263.40,326.14 L263.90,326.16 L264.40,326.17 L264.90,326.19 L265.40,326.20 L265.90,326.22 L266.40,326.24 L266.90,326.25 L267.40,326.27 L267.90,326.28 L268.40,326.30 L268.90,326.31 L269.40,326.33 L269.90,326.34 L270.40,326.36 L270.90,326.37 L271.40,326.38 L271.90,326.40 L272.40,326.41 L272.90,326.43 L273.40,326.44 L273.90,326.45 L274.40,326.47 L274.90,326.48 L275.40,326.49 L275.90,326.51 L276.40,326.52 L276.90,326.53 L277.40,326.54 L277.90,326.55 L278.40,326.57 L278.90,326.58 L279.40,326.59 L279.90,326.60 L280.40,326.61 L280.90,326.62 L281.40,326.63 L281.90,326.64 L282.40,326.65 L282.90,326.66 L283.40,326.67 L283.90,326.68 L284.40,326.69 L284.90,326.70 L285.40,326.71 L285.90,326.72 L286.40,326.73 L286.90,326.74 L287.40,326.75 L287.90,326.75 L288.40,326.76 L288.90,326.77 L289.40,326.78 L289.90,326.78 L290.40,326.79 L290.90,326.80 L291.40,326.80 L291.90,326.81 L292.40,326.81 L292.90,326.82 L293.40,326.83 L293.90,326.83 L294.40,326.83 L294.90,326.84 L295.40,326.84 L295.90,326.85 L296.40,326.85 L296.90,326.85 L297.40,326.86 L297.90,326.86 L298.40,326.86 L298.90,326.87 L299.40,326.87 L299.90,326.87 L300.40,326.87 L300.90,326.87 L301.40,326.87 L301.90,326.88 L302.40,326.88 L302.90,326.88 L303.40,326.88 L303.90,326.88 L304.40,326.88 L304.90,326.88 L305.40,326.88 L305.90,326.89 L306.40,326.89 L306.90,326.89 L307.40,326.89 L307.90,326.89 L308.40,326.89 L308.90,326.89 L309.40,326.89 L309.90,326.89 L310.40,326.89 L310.90,326.89 L311.40,326.89 L311.90,326.89 L312.40,326.89 L312.90,326.89 L313.40,326.89 L313.90,326.89 L314.40,326.89 L314.90,326.89 L315.40,326.89 L315.90,326.89 L316.40,326.89 L316.90,326.89 L317.40,326.89 L317.90,326.89 L318.40,326.89 L318.90,326.89 L319.40,326.89 L319.90,326.89 L320.40,326.89 L320.90,326.89 L321.40,326.89 L321.90,326.89 L322.40,326.89 L322.90,326.89 L323.40,326.89 L323.90,326.89 L324.40,326.89 L324.90,326.89 L325.40,326.89 L325.90,326.88 L326.40,326.88 L326.90,326.88 L327.40,326.88 L327.90,326.88 L328.40,326.88 L328.90,326.88 L329.40,326.88 L329.90,326.87 L330.40,326.87 L330.90,326.87 L331.40,326.87 L331.90,326.87 L332.40,326.87 L332.90,326.87 L333.40,326.86 L333.90,326.86 L334.40,326.86 L334.90,326.86 L335.40,326.86 L335.90,326.85 L336.40,326.85 L336.90,326.85 L337.40,326.85 L337.90,326.84 L338.40,326.84 L338.90,326.84 L339.40,326.83 L339.90,326.83 L340.40,326.83 L340.90,326.82 L341.40,326.81 L341.90,326.81 L342.40,326.80 L342.90,326.79 L343.40,326.77 L343.90,326.76 L344.40,326.75 L344.90,326.73 L345.40,326.71 L345.90,326.69 L346.40,326.68 L346.90,326.65 L347.40,326.63 L347.90,326.61 L348.40,326.59 L348.90,326.56 L349.40,326.53 L349.90,326.50 L350.40,326.48 L350.90,326.45 L351.40,326.41 L351.90,326.38 L352.40,326.35 L352.90,326.31 L353.40,326.28 L353.90,326.24 L354.40,326.20 L354.90,326.16 L355.40,326.12 L355.90,326.08 L356.40,326.03 L356.90,325.99 L357.40,325.94 L357.90,325.90 L358.40,325.85 L358.90,325.80 L359.40,325.75 L359.90,325.70 L360.40,325.65 L360.90,325.60 L361.40,325.54 L361.90,325.48 L362.40,325.42 L362.90,325.36 L363.40,325.30 L363.90,325.23 L364.40,325.17 L364.90,325.10 L365.40,325.03 L365.90,324.97 L366.40,324.90 L366.90,324.83 L367.40,324.77 L367.90,324.70 L368.40,324.64 L368.90,324.57 L369.40,324.51 L369.90,324.46 L370.40,324.40 L370.90,324.35 L371.40,324.29 L371.90,324.25 L372.40,324.20 L372.90,324.16 L373.40,324.13 L373.90,324.10 L374.40,324.07 L374.90,324.05 L375.40,324.03 L375.90,324.02 L376.40,324.01 L376.90,324.01 L377.40,324.01 L377.90,324.02 L378.40,324.03 L378.90,324.04 L379.40,324.06 L379.90,324.09 L380.40,324.11 L380.90,324.14 L381.40,324.18 L381.90,324.21 L382.40,324.25 L382.90,324.30 L383.40,324.34 L383.90,324.39 L384.40,324.44 L384.90,324.49 L385.40,324.55 L385.90,324.60 L386.40,324.66 L386.90,324.72 L387.40,324.78 L387.90,324.84 L388.40,324.90 L388.90,324.96 L389.40,325.02 L389.90,325.08 L390.40,325.14 L390.90,325.20 L391.40,325.26 L391.90,325.32 L392.40,325.38 L392.90,325.44 L393.40,325.50 L393.90,325.55 L394.40,325.61 L394.90,325.66 L395.40,325.71 L395.90,325.77 L396.40,325.82 L396.90,325.87 L397.40,325.93 L397.90,325.98 L398.40,326.04 L398.90,326.09 L399.40,326.15 L399.90,326.20 L400.40,326.26 L400.90,326.31 L401.40,326.37 L401.90,326.43 L402.40,326.48 L402.90,326.54 L403.40,326.59 L403.90,326.65 L404.40,326.70 L404.90,326.76 L405.40,326.81 L405.90,326.87 L406.40,326.92 L406.90,326.97 L407.40,327.03 L407.90,327.08 L408.40,327.13 L408.90,327.18 L409.40,327.23 L409.90,327.29 L410.40,327.34 L410.90,327.38 L411.40,327.43 L411.90,327.48 L412.40,327.53 L412.90,327.57 L413.40,327.62 L413.90,327.66 L414.40,327.70 L414.90,327.75 L415.40,327.79 L415.90,327.82 L416.40,327.86 L416.90,327.90 L417.40,327.93 L417.90,327.96 L418.40,328.00 L418.90,328.03 L419.40,328.05 L419.90,328.08 L420.40,328.10 L420.90,328.13 L421.40,328.15 L421.90,328.17 L422.40,328.20 L422.90,328.22 L423.40,328.24 L423.90,328.26 L424.40,328.29 L424.90,328.31 L425.40,328.33 L425.90,328.35 L426.40,328.37 L426.90,328.39 L427.40,328.41 L427.90,328.43 L428.40,328.45 L428.90,328.47 L429.40,328.49 L429.90,328.51 L430.40,328.53 L430.90,328.55 L431.40,328.56 L431.90,328.58 L432.40,328.60 L432.90,328.62 L433.40,328.63 L433.90,328.65 L434.40,328.67 L434.90,328.68 L435.40,328.70 L435.90,328.71 L436.40,328.73 L436.90,328.75 L437.40,328.76 L437.90,328.77 L438.40,328.79 L438.90,328.80 L439.40,328.82 L439.90,328.83 L440.40,328.84 L440.90,328.86 L441.40,328.87 L441.90,328.88 L442.40,328.89 L442.90,328.91 L443.40,328.92 L443.90,328.93 L444.40,328.94 L444.90,328.95 L445.40,328.96 L445.90,328.97 L446.40,328.98 L446.90,328.99 L447.40,329.00 L447.90,329.01 L448.40,329.02 L448.90,329.04 L449.40,329.05 L449.90,329.06 L450.40,329.07 L450.90,329.08 L451.40,329.09 L451.90,329.10 L452.40,329.11 L452.90,329.12 L453.40,329.13 L453.90,329.14 L454.40,329.15 L454.90,329.16 L455.40,329.17 L455.90,329.18 L456.40,329.19 L456.90,329.20 L457.40,329.21 L457.90,329.22 L458.40,329.23 L458.90,329.24 L459.40,329.25 L459.90,329.26 L460.40,329.27 L460.90,329.28 L461.40,329.29 L461.90,329.30 L462.40,329.31 L462.90,329.32 L463.40,329.33 L463.90,329.34 L464.40,329.34 L464.90,329.35 L465.40,329.36 L465.90,329.37 L466.40,329.38 L466.90,329.39 L467.40,329.40 L467.90,329.41 L468.40,329.41 L468.90,329.42 L469.40,329.43 L469.90,329.44 L470.40,329.45 L470.90,329.46 L471.40,329.46 L471.90,329.47 L472.40,329.48 L472.90,329.49 L473.40,329.49 L473.90,329.50 L474.40,329.51 L474.90,329.52 L475.40,329.52 L475.90,329.53 L476.40,329.54 L476.90,329.54 L477.40,329.55 L477.90,329.56 L478.40,329.56 L478.90,329.57 L479.40,329.57 L479.90,329.58 L480.40,329.59 L480.90,329.59 L481.40,329.60 L481.90,329.60 L482.40,329.61 L482.90,329.61 L483.40,329.62 L483.90,329.62 L484.40,329.63 L484.90,329.63 L485.40,329.64 L485.90,329.64 L486.40,329.64 L486.90,329.65 L487.40,329.65 L487.90,329.66 L488.40,329.66 L488.90,329.66 L489.40,329.67 L489.90,329.67 L490.40,329.67 L490.90,329.67 L491.40,329.68 L491.90,329.68 L492.40,329.68 L492.90,329.68 L493.40,329.68 L493.90,329.69 L494.40,329.69 L494.90,329.69 L495.40,329.69 L495.90,329.69 L496.40,329.69 L496.90,329.69" stroke="#a06818" stroke-width="2.0" fill="none"/>
<path d="M64.40,77.75 L64.90,77.27 L65.40,76.56 L65.90,75.90 L66.40,75.31 L66.90,74.77 L67.40,74.31 L67.90,73.91 L68.40,73.56 L68.90,73.26 L69.40,72.97 L69.90,72.69 L70.40,72.41 L70.90,72.13 L71.40,71.86 L71.90,71.59 L72.40,71.32 L72.90,71.03 L73.40,70.70 L73.90,70.31 L74.40,69.85 L74.90,69.32 L75.40,68.73 L75.90,68.10 L76.40,67.46 L76.90,66.82 L77.40,66.20 L77.90,65.62 L78.40,65.07 L78.90,64.54 L79.40,64.02 L79.90,63.51 L80.40,63.01 L80.90,62.51 L81.40,62.03 L81.90,61.57 L82.40,61.09 L82.90,60.60 L83.40,60.08 L83.90,59.56 L84.40,59.07 L84.90,58.67 L85.40,58.39 L85.90,58.25 L86.40,58.20 L86.90,58.20 L87.40,58.20 L87.90,58.20 L88.40,58.20 L88.90,58.21 L89.40,58.30 L89.90,58.52 L90.40,58.89 L90.90,59.36 L91.40,59.93 L91.90,60.64 L92.40,61.56 L92.90,62.68 L93.40,63.93 L93.90,65.25 L94.40,66.63 L94.90,68.09 L95.40,69.66 L95.90,71.32 L96.40,73.08 L96.90,74.92 L97.40,76.84 L97.90,78.88 L98.40,81.06 L98.90,83.40 L99.40,85.86 L99.90,88.40 L100.40,90.96 L100.90,93.50 L101.40,95.98 L101.90,98.42 L102.40,100.84 L102.90,103.26 L103.40,105.68 L103.90,108.10 L104.40,110.52 L104.90,112.95 L105.40,115.40 L105.90,117.84 L106.40,120.28 L106.90,122.69 L107.40,125.05 L107.90,127.37 L108.40,129.65 L108.90,131.89 L109.40,134.10 L109.90,136.27 L110.40,138.41 L110.90,140.51 L111.40,142.58 L111.90,144.63 L112.40,146.65 L112.90,148.65 L113.40,150.64 L113.90,152.63 L114.40,154.61 L114.90,156.60 L115.40,158.60 L115.90,160.61 L116.40,162.64 L116.90,164.66 L117.40,166.69 L117.90,168.71 L118.40,170.72 L118.90,172.73 L119.40,174.71 L119.90,176.67 L120.40,178.61 L120.90,180.52 L121.40,182.40 L121.90,184.26 L122.40,186.10 L122.90,187.93 L123.40,189.75 L123.90,191.56 L124.40,193.37 L124.90,195.18 L125.40,196.99 L125.90,198.81 L126.40,200.64 L126.90,202.48 L127.40,204.32 L127.90,206.17 L128.40,208.02 L128.90,209.88 L129.40,211.73 L129.90,213.59 L130.40,215.44 L130.90,217.29 L131.40,219.13 L131.90,220.97 L132.40,222.81 L132.90,224.64 L133.40,226.47 L133.90,228.32 L134.40,230.18 L134.90,232.06 L135.40,233.93 L135.90,235.79 L136.40,237.64 L136.90,239.46 L137.40,241.25 L137.90,243.01 L138.40,244.72 L138.90,246.38 L139.40,247.98 L139.90,249.54 L140.40,251.06 L140.90,252.55 L141.40,254.01 L141.90,255.44 L142.40,256.85 L142.90,258.24 L143.40,259.61 L143.90,260.95 L144.40,262.28 L144.90,263.60 L145.40,264.90 L145.90,266.19 L146.40,267.47 L146.90,268.74 L147.40,270.01 L147.90,271.27 L148.40,272.51 L148.90,273.75 L149.40,274.97 L149.90,276.16 L150.40,277.34 L150.90,278.49 L151.40,279.62 L151.90,280.72 L152.40,281.78 L152.90,282.82 L153.40,283.84 L153.90,284.84 L154.40,285.82 L154.90,286.79 L155.40,287.73 L155.90,288.66 L156.40,289.56 L156.90,290.45 L157.40,291.31 L157.90,292.15 L158.40,292.97 L158.90,293.77 L159.40,294.54 L159.90,295.30 L160.40,296.04 L160.90,296.76 L161.40,297.46 L161.90,298.15 L162.40,298.82 L162.90,299.47 L163.40,300.12 L163.90,300.75 L164.40,301.37 L164.90,301.99 L165.40,302.60 L165.90,303.20 L166.40,303.78 L166.90,304.34 L167.40,304.89 L167.90,305.42 L168.40,305.92 L168.90,306.40 L169.40,306.86 L169.90,307.31 L170.40,307.74 L170.90,308.17 L171.40,308.58 L171.90,308.98 L172.40,309.37 L172.90,309.75 L173.40,310.12 L173.90,310.47 L174.40,310.81 L174.90,311.13 L175.40,311.44 L175.90,311.74 L176.40,312.02 L176.90,312.29 L177.40,312.56 L177.90,312.81 L178.40,313.06 L178.90,313.30 L179.40,313.53 L179.90,313.76 L180.40,313.98 L180.90,314.19 L181.40,314.40 L181.90,314.61 L182.40,314.81 L182.90,315.01 L183.40,315.20 L183.90,315.39 L184.40,315.58 L184.90,315.76 L185.40,315.95 L185.90,316.13 L186.40,316.31 L186.90,316.49 L187.40,316.67 L187.90,316.85 L188.40,317.02 L188.90,317.19 L189.40,317.35 L189.90,317.51 L190.40,317.67 L190.90,317.82 L191.40,317.97 L191.90,318.11 L192.40,318.24 L192.90,318.37 L193.40,318.49 L193.90,318.60 L194.40,318.71 L194.90,318.81 L195.40,318.91 L195.90,319.02 L196.40,319.12 L196.90,319.21 L197.40,319.31 L197.90,319.40 L198.40,319.50 L198.90,319.59 L199.40,319.68 L199.90,319.77 L200.40,319.86 L200.90,319.94 L201.40,320.02 L201.90,320.11 L202.40,320.19 L202.90,320.27 L203.40,320.35 L203.90,320.42 L204.40,320.50 L204.90,320.57 L205.40,320.65 L205.90,320.72 L206.40,320.79 L206.90,320.86 L207.40,320.92 L207.90,320.99 L208.40,321.05 L208.90,321.12 L209.40,321.18 L209.90,321.24 L210.40,321.30 L210.90,321.36 L211.40,321.42 L211.90,321.47 L212.40,321.53 L212.90,321.58 L213.40,321.64 L213.90,321.69 L214.40,321.74 L214.90,321.79 L215.40,321.84 L215.90,321.89 L216.40,321.94 L216.90,321.98 L217.40,322.03 L217.90,322.08 L218.40,322.12 L218.90,322.17 L219.40,322.21 L219.90,322.26 L220.40,322.30 L220.90,322.35 L221.40,322.39 L221.90,322.43 L222.40,322.47 L222.90,322.51 L223.40,322.55 L223.90,322.59 L224.40,322.63 L224.90,322.67 L225.40,322.71 L225.90,322.75 L226.40,322.79 L226.90,322.82 L227.40,322.86 L227.90,322.90 L228.40,322.93 L228.90,322.97 L229.40,323.00 L229.90,323.03 L230.40,323.07 L230.90,323.10 L231.40,323.13 L231.90,323.16 L232.40,323.20 L232.90,323.23 L233.40,323.26 L233.90,323.29 L234.40,323.31 L234.90,323.34 L235.40,323.37 L235.90,323.40 L236.40,323.42 L236.90,323.45 L237.40,323.48 L237.90,323.50 L238.40,323.53 L238.90,323.55 L239.40,323.57 L239.90,323.60 L240.40,323.62 L240.90,323.64 L241.40,323.66 L241.90,323.69 L242.40,323.71 L242.90,323.73 L243.40,323.75 L243.90,323.77 L244.40,323.80 L244.90,323.82 L245.40,323.84 L245.90,323.86 L246.40,323.89 L246.90,323.91 L247.40,323.93 L247.90,323.95 L248.40,323.97 L248.90,324.00 L249.40,324.02 L249.90,324.04 L250.40,324.06 L250.90,324.08 L251.40,324.11 L251.90,324.13 L252.40,324.15 L252.90,324.17 L253.40,324.19 L253.90,324.21 L254.40,324.23 L254.90,324.26 L255.40,324.28 L255.90,324.30 L256.40,324.32 L256.90,324.34 L257.40,324.36 L257.90,324.38 L258.40,324.40 L258.90,324.42 L259.40,324.44 L259.90,324.46 L260.40,324.48 L260.90,324.50 L261.40,324.52 L261.90,324.54 L262.40,324.56 L262.90,324.58 L263.40,324.60 L263.90,324.62 L264.40,324.64 L264.90,324.66 L265.40,324.67 L265.90,324.69 L266.40,324.71 L266.90,324.73 L267.40,324.75 L267.90,324.76 L268.40,324.78 L268.90,324.80 L269.40,324.82 L269.90,324.83 L270.40,324.85 L270.90,324.87 L271.40,324.88 L271.90,324.90 L272.40,324.92 L272.90,324.93 L273.40,324.95 L273.90,324.96 L274.40,324.98 L274.90,324.99 L275.40,325.01 L275.90,325.02 L276.40,325.04 L276.90,325.05 L277.40,325.06 L277.90,325.08 L278.40,325.09 L278.90,325.10 L279.40,325.12 L279.90,325.13 L280.40,325.14 L280.90,325.15 L281.40,325.17 L281.90,325.18 L282.40,325.19 L282.90,325.20 L283.40,325.21 L283.90,325.22 L284.40,325.23 L284.90,325.24 L285.40,325.25 L285.90,325.26 L286.40,325.27 L286.90,325.28 L287.40,325.29 L287.90,325.30 L288.40,325.31 L288.90,325.31 L289.40,325.32 L289.90,325.33 L290.40,325.33 L290.90,325.34 L291.40,325.35 L291.90,325.35 L292.40,325.36 L292.90,325.36 L293.40,325.37 L293.90,325.37 L294.40,325.38 L294.90,325.38 L295.40,325.38 L295.90,325.39 L296.40,325.39 L296.90,325.39 L297.40,325.39 L297.90,325.40 L298.40,325.40 L298.90,325.40 L299.40,325.40 L299.90,325.40 L300.40,325.40 L300.90,325.40 L301.40,325.40 L301.90,325.40 L302.40,325.40 L302.90,325.40 L303.40,325.40 L303.90,325.40 L304.40,325.40 L304.90,325.40 L305.40,325.40 L305.90,325.40 L306.40,325.39 L306.90,325.39 L307.40,325.39 L307.90,325.39 L308.40,325.39 L308.90,325.39 L309.40,325.39 L309.90,325.39 L310.40,325.39 L310.90,325.39 L311.40,325.38 L311.90,325.38 L312.40,325.38 L312.90,325.38 L313.40,325.38 L313.90,325.38 L314.40,325.37 L314.90,325.37 L315.40,325.37 L315.90,325.37 L316.40,325.37 L316.90,325.36 L317.40,325.36 L317.90,325.36 L318.40,325.36 L318.90,325.36 L319.40,325.35 L319.90,325.35 L320.40,325.35 L320.90,325.35 L321.40,325.34 L321.90,325.34 L322.40,325.34 L322.90,325.33 L323.40,325.33 L323.90,325.33 L324.40,325.33 L324.90,325.32 L325.40,325.32 L325.90,325.32 L326.40,325.31 L326.90,325.31 L327.40,325.31 L327.90,325.30 L328.40,325.30 L328.90,325.30 L329.40,325.29 L329.90,325.29 L330.40,325.28 L330.90,325.28 L331.40,325.28 L331.90,325.27 L332.40,325.27 L332.90,325.26 L333.40,325.26 L333.90,325.26 L334.40,325.25 L334.90,325.25 L335.40,325.24 L335.90,325.24 L336.40,325.23 L336.90,325.23 L337.40,325.23 L337.90,325.22 L338.40,325.22 L338.90,325.21 L339.40,325.21 L339.90,325.20 L340.40,325.19 L340.90,325.19 L341.40,325.18 L341.90,325.17 L342.40,325.15 L342.90,325.14 L343.40,325.13 L343.90,325.11 L344.40,325.09 L344.90,325.07 L345.40,325.05 L345.90,325.03 L346.40,325.00 L346.90,324.98 L347.40,324.96 L347.90,324.93 L348.40,324.90 L348.90,324.87 L349.40,324.85 L349.90,324.82 L350.40,324.79 L350.90,324.76 L351.40,324.73 L351.90,324.70 L352.40,324.67 L352.90,324.63 L353.40,324.60 L353.90,324.57 L354.40,324.54 L354.90,324.51 L355.40,324.48 L355.90,324.44 L356.40,324.41 L356.90,324.38 L357.40,324.35 L357.90,324.32 L358.40,324.29 L358.90,324.26 L359.40,324.23 L359.90,324.21 L360.40,324.18 L360.90,324.15 L361.40,324.12 L361.90,324.08 L362.40,324.05 L362.90,324.01 L363.40,323.97 L363.90,323.94 L364.40,323.90 L364.90,323.86 L365.40,323.82 L365.90,323.78 L366.40,323.74 L366.90,323.70 L367.40,323.66 L367.90,323.62 L368.40,323.58 L368.90,323.54 L369.40,323.51 L369.90,323.47 L370.40,323.44 L370.90,323.41 L371.40,323.38 L371.90,323.35 L372.40,323.32 L372.90,323.30 L373.40,323.27 L373.90,323.25 L374.40,323.24 L374.90,323.22 L375.40,323.21 L375.90,323.21 L376.40,323.20 L376.90,323.20 L377.40,323.20 L377.90,323.21 L378.40,323.21 L378.90,323.22 L379.40,323.23 L379.90,323.24 L380.40,323.25 L380.90,323.26 L381.40,323.28 L381.90,323.29 L382.40,323.31 L382.90,323.33 L383.40,323.35 L383.90,323.37 L384.40,323.39 L384.90,323.41 L385.40,323.44 L385.90,323.46 L386.40,323.49 L386.90,323.51 L387.40,323.54 L387.90,323.57 L388.40,323.60 L388.90,323.63 L389.40,323.66 L389.90,323.69 L390.40,323.72 L390.90,323.75 L391.40,323.78 L391.90,323.81 L392.40,323.84 L392.90,323.87 L393.40,323.90 L393.90,323.93 L394.40,323.96 L394.90,323.99 L395.40,324.03 L395.90,324.06 L396.40,324.10 L396.90,324.14 L397.40,324.18 L397.90,324.22 L398.40,324.27 L398.90,324.32 L399.40,324.37 L399.90,324.42 L400.40,324.48 L400.90,324.54 L401.40,324.59 L401.90,324.65 L402.40,324.71 L402.90,324.77 L403.40,324.84 L403.90,324.90 L404.40,324.97 L404.90,325.03 L405.40,325.10 L405.90,325.17 L406.40,325.23 L406.90,325.30 L407.40,325.37 L407.90,325.44 L408.40,325.50 L408.90,325.57 L409.40,325.64 L409.90,325.71 L410.40,325.77 L410.90,325.84 L411.40,325.90 L411.90,325.97 L412.40,326.03 L412.90,326.09 L413.40,326.16 L413.90,326.22 L414.40,326.27 L414.90,326.33 L415.40,326.39 L415.90,326.44 L416.40,326.49 L416.90,326.54 L417.40,326.59 L417.90,326.63 L418.40,326.68 L418.90,326.72 L419.40,326.76 L419.90,326.79 L420.40,326.83 L420.90,326.86 L421.40,326.89 L421.90,326.92 L422.40,326.96 L422.90,326.99 L423.40,327.02 L423.90,327.05 L424.40,327.08 L424.90,327.11 L425.40,327.14 L425.90,327.17 L426.40,327.20 L426.90,327.23 L427.40,327.25 L427.90,327.28 L428.40,327.31 L428.90,327.34 L429.40,327.36 L429.90,327.39 L430.40,327.42 L430.90,327.44 L431.40,327.47 L431.90,327.49 L432.40,327.51 L432.90,327.54 L433.40,327.56 L433.90,327.59 L434.40,327.61 L434.90,327.63 L435.40,327.65 L435.90,327.67 L436.40,327.70 L436.90,327.72 L437.40,327.74 L437.90,327.76 L438.40,327.78 L438.90,327.80 L439.40,327.81 L439.90,327.83 L440.40,327.85 L440.90,327.87 L441.40,327.89 L441.90,327.90 L442.40,327.92 L442.90,327.94 L443.40,327.95 L443.90,327.97 L444.40,327.98 L444.90,328.00 L445.40,328.01 L445.90,328.03 L446.40,328.04 L446.90,328.05 L447.40,328.07 L447.90,328.08 L448.40,328.10 L448.90,328.11 L449.40,328.13 L449.90,328.14 L450.40,328.16 L450.90,328.17 L451.40,328.18 L451.90,328.20 L452.40,328.21 L452.90,328.23 L453.40,328.24 L453.90,328.25 L454.40,328.27 L454.90,328.28 L455.40,328.30 L455.90,328.31 L456.40,328.32 L456.90,328.34 L457.40,328.35 L457.90,328.36 L458.40,328.38 L458.90,328.39 L459.40,328.41 L459.90,328.42 L460.40,328.43 L460.90,328.44 L461.40,328.46 L461.90,328.47 L462.40,328.48 L462.90,328.50 L463.40,328.51 L463.90,328.52 L464.40,328.53 L464.90,328.55 L465.40,328.56 L465.90,328.57 L466.40,328.58 L466.90,328.59 L467.40,328.61 L467.90,328.62 L468.40,328.63 L468.90,328.64 L469.40,328.65 L469.90,328.66 L470.40,328.67 L470.90,328.69 L471.40,328.70 L471.90,328.71 L472.40,328.72 L472.90,328.73 L473.40,328.74 L473.90,328.75 L474.40,328.76 L474.90,328.77 L475.40,328.78 L475.90,328.79 L476.40,328.80 L476.90,328.80 L477.40,328.81 L477.90,328.82 L478.40,328.83 L478.90,328.84 L479.40,328.85 L479.90,328.86 L480.40,328.86 L480.90,328.87 L481.40,328.88 L481.90,328.89 L482.40,328.89 L482.90,328.90 L483.40,328.91 L483.90,328.91 L484.40,328.92 L484.90,328.93 L485.40,328.93 L485.90,328.94 L486.40,328.94 L486.90,328.95 L487.40,328.95 L487.90,328.96 L488.40,328.96 L488.90,328.97 L489.40,328.97 L489.90,328.97 L490.40,328.98 L490.90,328.98 L491.40,328.98 L491.90,328.99 L492.40,328.99 L492.90,328.99 L493.40,328.99 L493.90,328.99 L494.40,329.00 L494.90,329.00 L495.40,329.00 L495.90,329.00 L496.40,329.00 L496.90,329.00" stroke="#7a0090" stroke-width="2.0" fill="none"/>
<path d="M304.40,324.61 L304.90,324.38 L305.40,324.14 L305.90,323.90 L306.40,323.66 L306.90,323.41 L307.40,323.16 L307.90,322.91 L308.40,322.66 L308.90,322.40 L309.40,322.14 L309.90,321.88 L310.40,321.62 L310.90,321.35 L311.40,321.09 L311.90,320.83 L312.40,320.56 L312.90,320.30 L313.40,320.04 L313.90,319.78 L314.40,319.52 L314.90,319.26 L315.40,319.01 L315.90,318.75 L316.40,318.51 L316.90,318.26 L317.40,318.02 L317.90,317.78 L318.40,317.55 L318.90,317.32 L319.40,317.09 L319.90,316.87 L320.40,316.66 L320.90,316.45 L321.40,316.24 L321.90,316.03 L322.40,315.83 L322.90,315.64 L323.40,315.44 L323.90,315.25 L324.40,315.06 L324.90,314.88 L325.40,314.70 L325.90,314.52 L326.40,314.35 L326.90,314.17 L327.40,314.00 L327.90,313.84 L328.40,313.67 L328.90,313.51 L329.40,313.35 L329.90,313.19 L330.40,313.04 L330.90,312.88 L331.40,312.73 L331.90,312.58 L332.40,312.43 L332.90,312.28 L333.40,312.13 L333.90,311.99 L334.40,311.84 L334.90,311.70 L335.40,311.56 L335.90,311.42 L336.40,311.28 L336.90,311.14 L337.40,311.00 L337.90,310.86 L338.40,310.72 L338.90,310.58 L339.40,310.44 L339.90,310.30 L340.40,310.16 L340.90,310.02 L341.40,309.88 L341.90,309.74 L342.40,309.60 L342.90,309.46 L343.40,309.32 L343.90,309.17 L344.40,309.03 L344.90,308.88 L345.40,308.73 L345.90,308.58 L346.40,308.41 L346.90,308.23 L347.40,308.04 L347.90,307.83 L348.40,307.60 L348.90,307.35 L349.40,307.07 L349.90,306.76 L350.40,306.42 L350.90,306.04 L351.40,305.63 L351.90,305.19 L352.40,304.71 L352.90,304.21 L353.40,303.68 L353.90,303.12 L354.40,302.53 L354.90,301.93 L355.40,301.30 L355.90,300.65 L356.40,299.98 L356.90,299.30 L357.40,298.60 L357.90,297.88 L358.40,297.16 L358.90,296.42 L359.40,295.67 L359.90,294.92 L360.40,294.16 L360.90,293.40 L361.40,292.64 L361.90,291.87 L362.40,291.11 L362.90,290.35 L363.40,289.60 L363.90,288.84 L364.40,288.09 L364.90,287.35 L365.40,286.61 L365.90,285.87 L366.40,285.13 L366.90,284.41 L367.40,283.68 L367.90,282.97 L368.40,282.25 L368.90,281.55 L369.40,280.85 L369.90,280.16 L370.40,279.47 L370.90,278.79 L371.40,278.12 L371.90,277.46 L372.40,276.81 L372.90,276.16 L373.40,275.53 L373.90,274.90 L374.40,274.28 L374.90,273.68 L375.40,273.09 L375.90,272.52 L376.40,271.97 L376.90,271.45 L377.40,270.96 L377.90,270.51 L378.40,270.08 L378.90,269.70 L379.40,269.37 L379.90,269.08 L380.40,268.84 L380.90,268.65 L381.40,268.52 L381.90,268.45 L382.40,268.44 L382.90,268.50 L383.40,268.62 L383.90,268.79 L384.40,269.03 L384.90,269.32 L385.40,269.66 L385.90,270.05 L386.40,270.49 L386.90,270.98 L387.40,271.52 L387.90,272.09 L388.40,272.71 L388.90,273.37 L389.40,274.06 L389.90,274.79 L390.40,275.55 L390.90,276.34 L391.40,277.16 L391.90,278.01 L392.40,278.88 L392.90,279.78 L393.40,280.70 L393.90,281.63 L394.40,282.58 L394.90,283.55 L395.40,284.53 L395.90,285.52 L396.40,286.52 L396.90,287.52 L397.40,288.53 L397.90,289.54 L398.40,290.55 L398.90,291.56 L399.40,292.57 L399.90,293.57 L400.40,294.57 L400.90,295.55 L401.40,296.52 L401.90,297.48 L402.40,298.43 L402.90,299.37 L403.40,300.29 L403.90,301.19 L404.40,302.09 L404.90,302.97 L405.40,303.83 L405.90,304.69 L406.40,305.52 L406.90,306.35 L407.40,307.15 L407.90,307.95 L408.40,308.72 L408.90,309.49 L409.40,310.24 L409.90,310.97 L410.40,311.68 L410.90,312.39 L411.40,313.07 L411.90,313.74 L412.40,314.39 L412.90,315.03 L413.40,315.65 L413.90,316.25 L414.40,316.84 L414.90,317.40 L415.40,317.96 L415.90,318.49 L416.40,319.01 L416.90,319.51 L417.40,319.99 L417.90,320.45 L418.40,320.90 L418.90,321.32 L419.40,321.74 L419.90,322.13 L420.40,322.51 L420.90,322.88 L421.40,323.23 L421.90,323.56 L422.40,323.88 L422.90,324.18 L423.40,324.48 L423.90,324.75 L424.40,325.02 L424.90,325.27 L425.40,325.51 L425.90,325.73 L426.40,325.95 L426.90,326.15 L427.40,326.34 L427.90,326.52 L428.40,326.69 L428.90,326.84 L429.40,326.99 L429.90,327.13 L430.40,327.26 L430.90,327.38 L431.40,327.49 L431.90,327.59 L432.40,327.69 L432.90,327.78 L433.40,327.86 L433.90,327.93 L434.40,327.99 L434.90,328.05 L435.40,328.11 L435.90,328.15 L436.40,328.20 L436.90,328.23 L437.40,328.26 L437.90,328.29 L438.40,328.32 L438.90,328.33 L439.40,328.35 L439.90,328.36 L440.40,328.37 L440.90,328.38 L441.40,328.39 L441.90,328.39 L442.40,328.39 L442.90,328.39 L443.40,328.39 L443.90,328.39 L444.40,328.39 L444.90,328.39 L445.40,328.39 L445.90,328.39 L446.40,328.39 L446.90,328.40 L447.40,328.40 L447.90,328.40 L448.40,328.40 L448.90,328.41 L449.40,328.41 L449.90,328.42 L450.40,328.42 L450.90,328.43 L451.40,328.43 L451.90,328.44 L452.40,328.44 L452.90,328.45 L453.40,328.46 L453.90,328.47 L454.40,328.48 L454.90,328.48 L455.40,328.49 L455.90,328.50 L456.40,328.51 L456.90,328.52 L457.40,328.53 L457.90,328.54 L458.40,328.55 L458.90,328.56 L459.40,328.58 L459.90,328.59 L460.40,328.60 L460.90,328.61 L461.40,328.62 L461.90,328.64 L462.40,328.65 L462.90,328.66 L463.40,328.67 L463.90,328.69 L464.40,328.70 L464.90,328.72 L465.40,328.73 L465.90,328.74 L466.40,328.76 L466.90,328.77 L467.40,328.79 L467.90,328.80 L468.40,328.82 L468.90,328.83 L469.40,328.84 L469.90,328.86 L470.40,328.87 L470.90,328.89 L471.40,328.90 L471.90,328.92 L472.40,328.93 L472.90,328.95 L473.40,328.96 L473.90,328.98 L474.40,328.99 L474.90,329.01 L475.40,329.02 L475.90,329.04 L476.40,329.05 L476.90,329.07 L477.40,329.08 L477.90,329.10 L478.40,329.11 L478.90,329.13 L479.40,329.14 L479.90,329.15 L480.40,329.17 L480.90,329.18 L481.40,329.20 L481.90,329.21 L482.40,329.22 L482.90,329.24 L483.40,329.25 L483.90,329.26 L484.40,329.27 L484.90,329.29 L485.40,329.30 L485.90,329.31 L486.40,329.32 L486.90,329.33 L487.40,329.34 L487.90,329.35 L488.40,329.36 L488.90,329.37 L489.40,329.38 L489.90,329.39 L490.40,329.40 L490.90,329.41 L491.40,329.42 L491.90,329.43 L492.40,329.43 L492.90,329.44 L493.40,329.45 L493.90,329.46 L494.40,329.46 L494.90,329.47 L495.40,329.47 L495.90,329.48 L496.40,329.48 L496.90,329.48" stroke="#008000" stroke-width="1.8" fill="none"/>
<path d="M303.40,323.86 L303.90,323.72 L304.40,323.57 L304.90,323.41 L305.40,323.25 L305.90,323.09 L306.40,322.92 L306.90,322.75 L307.40,322.57 L307.90,322.39 L308.40,322.20 L308.90,322.01 L309.40,321.81 L309.90,321.61 L310.40,321.41 L310.90,321.20 L311.40,320.99 L311.90,320.77 L312.40,320.55 L312.90,320.33 L313.40,320.11 L313.90,319.88 L314.40,319.65 L314.90,319.42 L315.40,319.18 L315.90,318.94 L316.40,318.71 L316.90,318.47 L317.40,318.23 L317.90,317.99 L318.40,317.74 L318.90,317.50 L319.40,317.26 L319.90,317.01 L320.40,316.77 L320.90,316.53 L321.40,316.29 L321.90,316.05 L322.40,315.81 L322.90,315.57 L323.40,315.33 L323.90,315.09 L324.40,314.86 L324.90,314.63 L325.40,314.40 L325.90,314.17 L326.40,313.95 L326.90,313.73 L327.40,313.51 L327.90,313.29 L328.40,313.08 L328.90,312.87 L329.40,312.67 L329.90,312.47 L330.40,312.28 L330.90,312.09 L331.40,311.90 L331.90,311.72 L332.40,311.55 L332.90,311.38 L333.40,311.22 L333.90,311.06 L334.40,310.91 L334.90,310.76 L335.40,310.62 L335.90,310.49 L336.40,310.37 L336.90,310.25 L337.40,310.14 L337.90,310.04 L338.40,309.95 L338.90,309.86 L339.40,309.77 L339.90,309.69 L340.40,309.61 L340.90,309.53 L341.40,309.45 L341.90,309.36 L342.40,309.27 L342.90,309.17 L343.40,309.07 L343.90,308.96 L344.40,308.83 L344.90,308.69 L345.40,308.54 L345.90,308.38 L346.40,308.20 L346.90,308.00 L347.40,307.78 L347.90,307.53 L348.40,307.27 L348.90,306.98 L349.40,306.67 L349.90,306.33 L350.40,305.96 L350.90,305.56 L351.40,305.13 L351.90,304.67 L352.40,304.19 L352.90,303.67 L353.40,303.13 L353.90,302.57 L354.40,301.98 L354.90,301.36 L355.40,300.72 L355.90,300.06 L356.40,299.37 L356.90,298.66 L357.40,297.93 L357.90,297.18 L358.40,296.41 L358.90,295.62 L359.40,294.81 L359.90,293.98 L360.40,293.14 L360.90,292.28 L361.40,291.40 L361.90,290.51 L362.40,289.60 L362.90,288.68 L363.40,287.76 L363.90,286.82 L364.40,285.89 L364.90,284.96 L365.40,284.04 L365.90,283.12 L366.40,282.21 L366.90,281.32 L367.40,280.45 L367.90,279.60 L368.40,278.77 L368.90,277.97 L369.40,277.21 L369.90,276.47 L370.40,275.78 L370.90,275.13 L371.40,274.52 L371.90,273.95 L372.40,273.43 L372.90,272.96 L373.40,272.54 L373.90,272.16 L374.40,271.82 L374.90,271.54 L375.40,271.30 L375.90,271.10 L376.40,270.96 L376.90,270.86 L377.40,270.81 L377.90,270.81 L378.40,270.86 L378.90,270.95 L379.40,271.09 L379.90,271.28 L380.40,271.51 L380.90,271.79 L381.40,272.12 L381.90,272.49 L382.40,272.90 L382.90,273.36 L383.40,273.86 L383.90,274.40 L384.40,274.99 L384.90,275.61 L385.40,276.28 L385.90,276.99 L386.40,277.74 L386.90,278.53 L387.40,279.36 L387.90,280.23 L388.40,281.13 L388.90,282.07 L389.40,283.03 L389.90,284.03 L390.40,285.05 L390.90,286.09 L391.40,287.15 L391.90,288.22 L392.40,289.31 L392.90,290.40 L393.40,291.51 L393.90,292.61 L394.40,293.72 L394.90,294.82 L395.40,295.92 L395.90,297.01 L396.40,298.09 L396.90,299.15 L397.40,300.20 L397.90,301.23 L398.40,302.23 L398.90,303.21 L399.40,304.16 L399.90,305.09 L400.40,305.99 L400.90,306.87 L401.40,307.74 L401.90,308.58 L402.40,309.41 L402.90,310.22 L403.40,311.01 L403.90,311.79 L404.40,312.56 L404.90,313.32 L405.40,314.07 L405.90,314.82 L406.40,315.55 L406.90,316.28 L407.40,316.99 L407.90,317.70 L408.40,318.38 L408.90,319.05 L409.40,319.69 L409.90,320.31 L410.40,320.90 L410.90,321.46 L411.40,321.99 L411.90,322.48 L412.40,322.94 L412.90,323.36 L413.40,323.75 L413.90,324.12 L414.40,324.45 L414.90,324.75 L415.40,325.03 L415.90,325.29 L416.40,325.52 L416.90,325.73 L417.40,325.92 L417.90,326.09" stroke="#000088" stroke-width="1.8" fill="none"/>
<path d="M276.40,322.40 L276.90,322.20 L277.40,322.00 L277.90,321.79 L278.40,321.59 L278.90,321.37 L279.40,321.16 L279.90,320.94 L280.40,320.72 L280.90,320.50 L281.40,320.27 L281.90,320.04 L282.40,319.81 L282.90,319.58 L283.40,319.35 L283.90,319.11 L284.40,318.88 L284.90,318.64 L285.40,318.40 L285.90,318.16 L286.40,317.91 L286.90,317.67 L287.40,317.42 L287.90,317.18 L288.40,316.93 L288.90,316.68 L289.40,316.43 L289.90,316.19 L290.40,315.94 L290.90,315.69 L291.40,315.44 L291.90,315.19 L292.40,314.94 L292.90,314.68 L293.40,314.43 L293.90,314.18 L294.40,313.92 L294.90,313.65 L295.40,313.39 L295.90,313.12 L296.40,312.84 L296.90,312.56 L297.40,312.27 L297.90,311.97 L298.40,311.67 L298.90,311.36 L299.40,311.04 L299.90,310.70 L300.40,310.36 L300.90,310.01 L301.40,309.65 L301.90,309.28 L302.40,308.89 L302.90,308.49 L303.40,308.08 L303.90,307.65 L304.40,307.20 L304.90,306.75 L305.40,306.27 L305.90,305.78 L306.40,305.27 L306.90,304.75 L307.40,304.20 L307.90,303.64 L308.40,303.05 L308.90,302.45 L309.40,301.83 L309.90,301.18 L310.40,300.51 L310.90,299.82 L311.40,299.11 L311.90,298.37 L312.40,297.61 L312.90,296.82 L313.40,296.01 L313.90,295.17 L314.40,294.31 L314.90,293.42 L315.40,292.51 L315.90,291.58 L316.40,290.63 L316.90,289.67 L317.40,288.68 L317.90,287.69 L318.40,286.68 L318.90,285.65 L319.40,284.62 L319.90,283.58 L320.40,282.53 L320.90,281.48 L321.40,280.42 L321.90,279.36 L322.40,278.29 L322.90,277.23 L323.40,276.17 L323.90,275.11 L324.40,274.06 L324.90,273.02 L325.40,271.98 L325.90,270.95 L326.40,269.93 L326.90,268.92 L327.40,267.93 L327.90,266.95 L328.40,265.99 L328.90,265.05 L329.40,264.12 L329.90,263.22 L330.40,262.34 L330.90,261.48 L331.40,260.65 L331.90,259.84 L332.40,259.05 L332.90,258.29 L333.40,257.54 L333.90,256.82 L334.40,256.12 L334.90,255.43 L335.40,254.77 L335.90,254.13 L336.40,253.51 L336.90,252.90 L337.40,252.32 L337.90,251.75 L338.40,251.20 L338.90,250.67 L339.40,250.15 L339.90,249.65 L340.40,249.16 L340.90,248.70 L341.40,248.24 L341.90,247.80 L342.40,247.38 L342.90,246.97 L343.40,246.57 L343.90,246.18 L344.40,245.81 L344.90,245.45 L345.40,245.10 L345.90,244.76 L346.40,244.43 L346.90,244.10 L347.40,243.76 L347.90,243.40 L348.40,243.03 L348.90,242.63 L349.40,242.19 L349.90,241.71 L350.40,241.19 L350.90,240.60 L351.40,239.96 L351.90,239.25 L352.40,238.46 L352.90,237.58 L353.40,236.62 L353.90,235.56 L354.40,234.40 L354.90,233.12 L355.40,231.73 L355.90,230.21 L356.40,228.57 L356.90,226.78 L357.40,224.85 L357.90,222.76 L358.40,220.52 L358.90,218.11 L359.40,215.52 L359.90,212.76 L360.40,209.81 L360.90,206.67 L361.40,203.37 L361.90,199.93 L362.40,196.38 L362.90,192.74 L363.40,189.05 L363.90,185.34 L364.40,181.64 L364.90,177.97 L365.40,174.35 L365.90,170.79 L366.40,167.25 L366.90,163.73 L367.40,160.21 L367.90,156.67 L368.40,153.10 L368.90,149.48 L369.40,145.83 L369.90,142.14 L370.40,138.45 L370.90,134.77 L371.40,131.13 L371.90,127.53 L372.40,124.02 L372.90,120.59 L373.40,117.28 L373.90,114.10 L374.40,111.07 L374.90,108.22 L375.40,105.56 L375.90,103.11 L376.40,100.85 L376.90,98.80 L377.40,96.95 L377.90,95.30 L378.40,93.84 L378.90,92.57 L379.40,91.48 L379.90,90.58 L380.40,89.86 L380.90,89.31 L381.40,88.94 L381.90,88.75 L382.40,88.71 L382.90,88.85 L383.40,89.14 L383.90,89.59 L384.40,90.20 L384.90,90.95 L385.40,91.86 L385.90,92.91 L386.40,94.11 L386.90,95.45 L387.40,96.95 L387.90,98.61 L388.40,100.44 L388.90,102.44 L389.40,104.63 L389.90,107.01 L390.40,109.59 L390.90,112.37 L391.40,115.37 L391.90,118.58 L392.40,122.02 L392.90,125.70 L393.40,129.62 L393.90,133.78 L394.40,138.20 L394.90,142.89 L395.40,147.85 L395.90,153.08 L396.40,158.59 L396.90,164.37 L397.40,170.37 L397.90,176.56 L398.40,182.88 L398.90,189.28 L399.40,195.65 L399.90,201.92 L400.40,207.96 L400.90,213.68 L401.40,219.01 L401.90,223.90 L402.40,228.38 L402.90,232.49 L403.40,236.29 L403.90,239.82 L404.40,243.13 L404.90,246.27 L405.40,249.29 L405.90,252.23 L406.40,255.10 L406.90,257.89 L407.40,260.62 L407.90,263.26 L408.40,265.82 L408.90,268.28 L409.40,270.65 L409.90,272.92 L410.40,275.08 L410.90,277.13 L411.40,279.06 L411.90,280.88 L412.40,282.58 L412.90,284.19 L413.40,285.72 L413.90,287.19 L414.40,288.60 L414.90,289.98 L415.40,291.34 L415.90,292.69 L416.40,294.04 L416.90,295.39 L417.40,296.73 L417.90,298.06 L418.40,299.37 L418.90,300.68 L419.40,301.97 L419.90,303.25 L420.40,304.51 L420.90,305.74 L421.40,306.96 L421.90,308.15 L422.40,309.31 L422.90,310.44 L423.40,311.54 L423.90,312.61 L424.40,313.64 L424.90,314.64 L425.40,315.59 L425.90,316.50 L426.40,317.37 L426.90,318.20 L427.40,318.97 L427.90,319.70 L428.40,320.38 L428.90,321.01 L429.40,321.60 L429.90,322.14 L430.40,322.65 L430.90,323.12 L431.40,323.55 L431.90,323.95 L432.40,324.32 L432.90,324.66 L433.40,324.97 L433.90,325.26 L434.40,325.53 L434.90,325.78 L435.40,326.01 L435.90,326.22 L436.40,326.42 L436.90,326.61 L437.40,326.79 L437.90,326.96 L438.40,327.13 L438.90,327.29 L439.40,327.44 L439.90,327.59 L440.40,327.73 L440.90,327.86 L441.40,327.99 L441.90,328.11 L442.40,328.23 L442.90,328.34 L443.40,328.45 L443.90,328.55" stroke="#ff0000" stroke-width="1.8" fill="none"/>
<path d="M64.4,15.1 V338.7 H497.6" stroke="#000" stroke-width="1.4" fill="none"/>
<path d="M64.4,333.80 h-6.5 M64.4,324.95 h-3.7 M64.4,316.10 h-3.7 M64.4,307.24 h-3.7 M64.4,298.39 h-3.7 M64.4,289.54 h-3.7 M64.4,280.69 h-6.5 M64.4,271.83 h-3.7 M64.4,262.98 h-3.7 M64.4,254.13 h-3.7 M64.4,245.28 h-3.7 M64.4,236.42 h-3.7 M64.4,227.57 h-6.5 M64.4,218.72 h-3.7 M64.4,209.87 h-3.7 M64.4,201.01 h-3.7 M64.4,192.16 h-3.7 M64.4,183.31 h-3.7 M64.4,174.46 h-6.5 M64.4,165.60 h-3.7 M64.4,156.75 h-3.7 M64.4,147.90 h-3.7 M64.4,139.05 h-3.7 M64.4,130.19 h-3.7 M64.4,121.34 h-6.5 M64.4,112.49 h-3.7 M64.4,103.64 h-3.7 M64.4,94.78 h-3.7 M64.4,85.93 h-3.7 M64.4,77.08 h-3.7 M64.4,68.23 h-6.5 M64.4,59.37 h-3.7 M64.4,50.52 h-3.7 M64.4,41.67 h-3.7 M64.4,32.81 h-3.7 M64.4,23.96 h-3.7 M64.4,15.11 h-6.5 M64.40,338.7 v6.5 M74.69,338.7 v3.7 M84.99,338.7 v3.7 M95.29,338.7 v3.7 M105.58,338.7 v3.7 M115.88,338.7 v3.7 M126.17,338.7 v6.5 M136.46,338.7 v3.7 M146.76,338.7 v3.7 M157.06,338.7 v3.7 M167.35,338.7 v3.7 M177.65,338.7 v3.7 M187.94,338.7 v6.5 M198.23,338.7 v3.7 M208.53,338.7 v3.7 M218.83,338.7 v3.7 M229.12,338.7 v3.7 M239.41,338.7 v3.7 M249.71,338.7 v6.5 M260.01,338.7 v3.7 M270.30,338.7 v3.7 M280.60,338.7 v3.7 M290.89,338.7 v3.7 M301.18,338.7 v3.7 M311.48,338.7 v6.5 M321.78,338.7 v3.7 M332.07,338.7 v3.7 M342.37,338.7 v3.7 M352.66,338.7 v3.7 M362.95,338.7 v3.7 M373.25,338.7 v6.5 M383.54,338.7 v3.7 M393.84,338.7 v3.7 M404.13,338.7 v3.7 M414.43,338.7 v3.7 M424.73,338.7 v3.7 M435.02,338.7 v6.5 M445.31,338.7 v3.7 M455.61,338.7 v3.7 M465.90,338.7 v3.7 M476.20,338.7 v3.7 M486.50,338.7 v3.7 M496.79,338.7 v6.5" stroke="#000" stroke-width="1.3" fill="none"/>
<rect x="567" y="4" width="453.8" height="328" stroke="#000" stroke-width="1.4" fill="none"/>
<path d="M567,332.22 h-3.7 M567,323.12 h-3.7 M567,314.01 h-3.7 M567,304.90 h-6.5 M567,295.79 h-3.7 M567,286.68 h-3.7 M567,277.57 h-3.7 M567,268.47 h-3.7 M567,259.36 h-3.7 M567,250.25 h-6.5 M567,241.14 h-3.7 M567,232.03 h-3.7 M567,222.92 h-3.7 M567,213.82 h-3.7 M567,204.71 h-3.7 M567,195.60 h-6.5 M567,186.49 h-3.7 M567,177.38 h-3.7 M567,168.27 h-3.7 M567,159.17 h-3.7 M567,150.06 h-3.7 M567,140.95 h-6.5 M567,131.84 h-3.7 M567,122.73 h-3.7 M567,113.62 h-3.7 M567,104.52 h-3.7 M567,95.41 h-3.7 M567,86.30 h-6.5 M567,77.19 h-3.7 M567,68.08 h-3.7 M567,58.97 h-3.7 M567,49.87 h-3.7 M567,40.76 h-3.7 M567,31.65 h-6.5 M567,22.54 h-3.7 M567,13.43 h-3.7 M567,4.32 h-3.7 M570.22,332 v3.7 M577.09,332 v3.7 M583.97,332 v3.7 M590.85,332 v3.7 M597.72,332 v3.7 M604.60,332 v6.5 M611.48,332 v3.7 M618.35,332 v3.7 M625.23,332 v3.7 M632.11,332 v3.7 M638.98,332 v3.7 M645.86,332 v3.7 M652.73,332 v3.7 M659.61,332 v3.7 M666.49,332 v3.7 M673.36,332 v3.7 M680.24,332 v6.5 M687.12,332 v3.7 M693.99,332 v3.7 M700.87,332 v3.7 M707.75,332 v3.7 M714.62,332 v3.7 M721.50,332 v3.7 M728.37,332 v3.7 M735.25,332 v3.7 M742.13,332 v3.7 M749.00,332 v3.7 M755.88,332 v6.5 M762.76,332 v3.7 M769.63,332 v3.7 M776.51,332 v3.7 M783.39,332 v3.7 M790.26,332 v3.7 M797.14,332 v3.7 M804.01,332 v3.7 M810.89,332 v3.7 M817.77,332 v3.7 M824.64,332 v3.7 M831.52,332 v6.5 M838.40,332 v3.7 M845.27,332 v3.7 M852.15,332 v3.7 M859.03,332 v3.7 M865.90,332 v3.7 M872.78,332 v3.7 M879.65,332 v3.7 M886.53,332 v3.7 M893.41,332 v3.7 M900.28,332 v3.7 M907.16,332 v6.5 M914.04,332 v3.7 M920.91,332 v3.7 M927.79,332 v3.7 M934.67,332 v3.7 M941.54,332 v3.7 M948.42,332 v3.7 M955.29,332 v3.7 M962.17,332 v3.7 M969.05,332 v3.7 M975.92,332 v3.7 M982.80,332 v6.5 M989.68,332 v3.7 M996.55,332 v3.7 M1003.43,332 v3.7 M1010.31,332 v3.7 M1017.18,332 v3.7" stroke="#000" stroke-width="1.3" fill="none"/>
<path d="M604.60,303.03 L605.60,303.56 L606.60,304.04 L607.60,304.45 L608.60,304.82 L609.60,305.13 L610.60,305.38 L611.60,305.58 L612.60,305.73 L613.60,305.83 L614.60,305.87 L615.60,305.87 L616.60,305.81 L617.60,305.71 L618.60,305.55 L619.60,305.35 L620.60,305.11 L621.60,304.81 L622.60,304.47 L623.60,304.09 L624.60,303.66 L625.60,303.19 L626.60,302.67 L627.60,302.11 L628.60,301.52 L629.60,300.88 L630.60,300.20 L631.60,299.48 L632.60,298.72 L633.60,297.93 L634.60,297.10 L635.60,296.23 L636.60,295.32 L637.60,294.38 L638.60,293.41 L639.60,292.40 L640.60,291.36 L641.60,290.29 L642.60,289.19 L643.60,288.05 L644.60,286.89 L645.60,285.69 L646.60,284.47 L647.60,283.22 L648.60,281.94 L649.60,280.64 L650.60,279.31 L651.60,277.95 L652.60,276.57 L653.60,275.17 L654.60,273.75 L655.60,272.30 L656.60,270.84 L657.60,269.35 L658.60,267.84 L659.60,266.32 L660.60,264.78 L661.60,263.23 L662.60,261.66 L663.60,260.07 L664.60,258.47 L665.60,256.86 L666.60,255.24 L667.60,253.61 L668.60,251.97 L669.60,250.31 L670.60,248.65 L671.60,246.99 L672.60,245.31 L673.60,243.63 L674.60,241.95 L675.60,240.26 L676.60,238.57 L677.60,236.88 L678.60,235.19 L679.60,233.49 L680.60,231.80 L681.60,230.11 L682.60,228.42 L683.60,226.73 L684.60,225.05 L685.60,223.36 L686.60,221.69 L687.60,220.01 L688.60,218.34 L689.60,216.67 L690.60,215.01 L691.60,213.35 L692.60,211.70 L693.60,210.06 L694.60,208.42 L695.60,206.79 L696.60,205.17 L697.60,203.55 L698.60,201.94 L699.60,200.34 L700.60,198.75 L701.60,197.17 L702.60,195.60 L703.60,194.04 L704.60,192.49 L705.60,190.95 L706.60,189.42 L707.60,187.90 L708.60,186.40 L709.60,184.90 L710.60,183.42 L711.60,181.96 L712.60,180.51 L713.60,179.07 L714.60,177.64 L715.60,176.23 L716.60,174.84 L717.60,173.46 L718.60,172.10 L719.60,170.75 L720.60,169.42 L721.60,168.11 L722.60,166.81 L723.60,165.53 L724.60,164.27 L725.60,163.02 L726.60,161.80 L727.60,160.58 L728.60,159.39 L729.60,158.21 L730.60,157.05 L731.60,155.91 L732.60,154.79 L733.60,153.69 L734.60,152.60 L735.60,151.53 L736.60,150.48 L737.60,149.45 L738.60,148.44 L739.60,147.45 L740.60,146.48 L741.60,145.53 L742.60,144.59 L743.60,143.68 L744.60,142.79 L745.60,141.91 L746.60,141.06 L747.60,140.23 L748.60,139.42 L749.60,138.63 L750.60,137.86 L751.60,137.11 L752.60,136.38 L753.60,135.68 L754.60,134.99 L755.60,134.33 L756.60,133.69 L757.60,133.07 L758.60,132.47 L759.60,131.90 L760.60,131.35 L761.60,130.82 L762.60,130.31 L763.60,129.83 L764.60,129.37 L765.60,128.93 L766.60,128.52 L767.60,128.13 L768.60,127.76 L769.60,127.42 L770.60,127.10 L771.60,126.81 L772.60,126.53 L773.60,126.29 L774.60,126.06 L775.60,125.86 L776.60,125.68 L777.60,125.52 L778.60,125.38 L779.60,125.27 L780.60,125.17 L781.60,125.10 L782.60,125.05 L783.60,125.01 L784.60,125.00 L785.60,125.00 L786.60,125.02 L787.60,125.07 L788.60,125.13 L789.60,125.20 L790.60,125.30 L791.60,125.41 L792.60,125.54 L793.60,125.68 L794.60,125.84 L795.60,126.02 L796.60,126.21 L797.60,126.42 L798.60,126.64 L799.60,126.88 L800.60,127.13 L801.60,127.39 L802.60,127.67 L803.60,127.96 L804.60,128.26 L805.60,128.58 L806.60,128.91 L807.60,129.25 L808.60,129.60 L809.60,129.96 L810.60,130.34 L811.60,130.73 L812.60,131.12 L813.60,131.53 L814.60,131.96 L815.60,132.39 L816.60,132.84 L817.60,133.29 L818.60,133.76 L819.60,134.24 L820.60,134.73 L821.60,135.23 L822.60,135.74 L823.60,136.26 L824.60,136.79 L825.60,137.34 L826.60,137.89 L827.60,138.45 L828.60,139.03 L829.60,139.61 L830.60,140.21 L831.60,140.82 L832.60,141.43 L833.60,142.06 L834.60,142.69 L835.60,143.34 L836.60,143.99 L837.60,144.66 L838.60,145.33 L839.60,146.02 L840.60,146.71 L841.60,147.41 L842.60,148.12 L843.60,148.84 L844.60,149.58 L845.60,150.31 L846.60,151.06 L847.60,151.82 L848.60,152.59 L849.60,153.36 L850.60,154.14 L851.60,154.94 L852.60,155.74 L853.60,156.55 L854.60,157.36 L855.60,158.19 L856.60,159.02 L857.60,159.86 L858.60,160.71 L859.60,161.57 L860.60,162.44 L861.60,163.31 L862.60,164.19 L863.60,165.08 L864.60,165.97 L865.60,166.88 L866.60,167.79 L867.60,168.71 L868.60,169.63 L869.60,170.56 L870.60,171.50 L871.60,172.45 L872.60,173.40 L873.60,174.36 L874.60,175.33 L875.60,176.30 L876.60,177.29 L877.60,178.27 L878.60,179.26 L879.60,180.26 L880.60,181.27 L881.60,182.28 L882.60,183.30 L883.60,184.32 L884.60,185.35 L885.60,186.39 L886.60,187.43 L887.60,188.48 L888.60,189.53 L889.60,190.59 L890.60,191.65 L891.60,192.72 L892.60,193.80 L893.60,194.88 L894.60,195.96 L895.60,197.05 L896.60,198.15 L897.60,199.24 L898.60,200.35 L899.60,201.46 L900.60,202.57 L901.60,203.69 L902.60,204.81 L903.60,205.94 L904.60,207.07 L905.60,208.21 L906.60,209.35 L907.60,210.49 L908.60,211.64 L909.60,212.79 L910.60,213.95 L911.60,215.11 L912.60,216.27 L913.60,217.44 L914.60,218.61 L915.60,219.79 L916.60,220.96 L917.60,222.14 L918.60,223.33 L919.60,224.52 L920.60,225.71 L921.60,226.90 L922.60,228.10 L923.60,229.30 L924.60,230.50 L925.60,231.70 L926.60,232.91 L927.60,234.12 L928.60,235.33 L929.60,236.54 L930.60,237.76 L931.60,238.98 L932.60,240.20 L933.60,241.42 L934.60,242.65 L935.60,243.88 L936.60,245.10 L937.60,246.33 L938.60,247.57 L939.60,248.80 L940.60,250.03 L941.60,251.27 L942.60,252.51 L943.60,253.75 L944.60,254.99 L945.60,256.23 L946.60,257.47 L947.60,258.71 L948.60,259.96 L949.60,261.20 L950.60,262.45 L951.60,263.69 L952.60,264.94 L953.60,266.19 L954.60,267.44 L955.60,268.69 L956.60,269.94 L957.60,271.20 L958.60,272.45 L959.60,273.70 L960.60,274.96 L961.60,276.22 L962.60,277.47 L963.60,278.73 L964.60,279.99 L965.60,281.25 L966.60,282.51 L967.60,283.77 L968.60,285.03 L969.60,286.29 L970.60,287.56 L971.60,288.82 L972.60,290.09 L973.60,291.35 L974.60,292.62 L975.60,293.88 L976.60,295.15 L977.60,296.42 L978.60,297.69 L979.60,298.96 L980.60,300.23 L981.60,301.50 L982.60,302.77" stroke="#ff0000" stroke-width="1.8" fill="none"/>
<path d="M604.60,302.73 L605.60,302.03 L606.60,301.32 L607.60,300.61 L608.60,299.90 L609.60,299.18 L610.60,298.46 L611.60,297.74 L612.60,297.01 L613.60,296.27 L614.60,295.52 L615.60,294.77 L616.60,294.01 L617.60,293.24 L618.60,292.47 L619.60,291.68 L620.60,290.88 L621.60,290.07 L622.60,289.25 L623.60,288.42 L624.60,287.58 L625.60,286.72 L626.60,285.85 L627.60,284.96 L628.60,284.06 L629.60,283.15 L630.60,282.21 L631.60,281.27 L632.60,280.30 L633.60,279.32 L634.60,278.31 L635.60,277.29 L636.60,276.25 L637.60,275.19 L638.60,274.11 L639.60,273.00 L640.60,271.88 L641.60,270.73 L642.60,269.56 L643.60,268.38 L644.60,267.17 L645.60,265.94 L646.60,264.69 L647.60,263.42 L648.60,262.14 L649.60,260.83 L650.60,259.51 L651.60,258.18 L652.60,256.83 L653.60,255.46 L654.60,254.07 L655.60,252.68 L656.60,251.27 L657.60,249.84 L658.60,248.40 L659.60,246.95 L660.60,245.49 L661.60,244.02 L662.60,242.53 L663.60,241.04 L664.60,239.53 L665.60,238.02 L666.60,236.50 L667.60,234.97 L668.60,233.43 L669.60,231.88 L670.60,230.33 L671.60,228.77 L672.60,227.21 L673.60,225.64 L674.60,224.07 L675.60,222.49 L676.60,220.91 L677.60,219.33 L678.60,217.74 L679.60,216.15 L680.60,214.56 L681.60,212.97 L682.60,211.38 L683.60,209.79 L684.60,208.20 L685.60,206.61 L686.60,205.03 L687.60,203.44 L688.60,201.86 L689.60,200.28 L690.60,198.71 L691.60,197.14 L692.60,195.57 L693.60,194.01 L694.60,192.46 L695.60,190.91 L696.60,189.37 L697.60,187.84 L698.60,186.32 L699.60,184.80 L700.60,183.29 L701.60,181.80 L702.60,180.31 L703.60,178.83 L704.60,177.36 L705.60,175.90 L706.60,174.44 L707.60,173.00 L708.60,171.56 L709.60,170.13 L710.60,168.71 L711.60,167.29 L712.60,165.89 L713.60,164.49 L714.60,163.10 L715.60,161.71 L716.60,160.34 L717.60,158.97 L718.60,157.60 L719.60,156.24 L720.60,154.89 L721.60,153.55 L722.60,152.21 L723.60,150.87 L724.60,149.55 L725.60,148.22 L726.60,146.91 L727.60,145.60 L728.60,144.29 L729.60,142.99 L730.60,141.69 L731.60,140.40 L732.60,139.11 L733.60,137.83 L734.60,136.55 L735.60,135.28 L736.60,134.01 L737.60,132.74 L738.60,131.47 L739.60,130.21 L740.60,128.96 L741.60,127.70 L742.60,126.45 L743.60,125.20 L744.60,123.96 L745.60,122.72 L746.60,121.47 L747.60,120.24 L748.60,119.00 L749.60,117.76 L750.60,116.53 L751.60,115.30 L752.60,114.07 L753.60,112.84 L754.60,111.61 L755.60,110.39 L756.60,109.16 L757.60,107.94 L758.60,106.72 L759.60,105.51 L760.60,104.30 L761.60,103.10 L762.60,101.92 L763.60,100.74 L764.60,99.58 L765.60,98.43 L766.60,97.29 L767.60,96.17 L768.60,95.08 L769.60,94.00 L770.60,92.94 L771.60,91.91 L772.60,90.89 L773.60,89.91 L774.60,88.95 L775.60,88.02 L776.60,87.12 L777.60,86.25 L778.60,85.40 L779.60,84.59 L780.60,83.80 L781.60,83.05 L782.60,82.33 L783.60,81.64 L784.60,80.98 L785.60,80.36 L786.60,79.77 L787.60,79.22 L788.60,78.70 L789.60,78.22 L790.60,77.77 L791.60,77.37 L792.60,77.00 L793.60,76.67 L794.60,76.37 L795.60,76.12 L796.60,75.91 L797.60,75.74 L798.60,75.61 L799.60,75.53 L800.60,75.48 L801.60,75.48 L802.60,75.53 L803.60,75.61 L804.60,75.75 L805.60,75.93 L806.60,76.15 L807.60,76.42 L808.60,76.73 L809.60,77.08 L810.60,77.47 L811.60,77.90 L812.60,78.37 L813.60,78.88 L814.60,79.43 L815.60,80.01 L816.60,80.63 L817.60,81.28 L818.60,81.97 L819.60,82.69 L820.60,83.45 L821.60,84.23 L822.60,85.05 L823.60,85.89 L824.60,86.77 L825.60,87.67 L826.60,88.60 L827.60,89.56 L828.60,90.55 L829.60,91.56 L830.60,92.59 L831.60,93.65 L832.60,94.73 L833.60,95.83 L834.60,96.95 L835.60,98.09 L836.60,99.25 L837.60,100.43 L838.60,101.63 L839.60,102.85 L840.60,104.08 L841.60,105.32 L842.60,106.58 L843.60,107.86 L844.60,109.14 L845.60,110.44 L846.60,111.75 L847.60,113.07 L848.60,114.40 L849.60,115.74 L850.60,117.08 L851.60,118.44 L852.60,119.79 L853.60,121.16 L854.60,122.53 L855.60,123.90 L856.60,125.27 L857.60,126.65 L858.60,128.03 L859.60,129.40 L860.60,130.78 L861.60,132.16 L862.60,133.53 L863.60,134.90 L864.60,136.27 L865.60,137.63 L866.60,138.99 L867.60,140.34 L868.60,141.68 L869.60,143.02 L870.60,144.35 L871.60,145.67 L872.60,146.98 L873.60,148.29 L874.60,149.59 L875.60,150.88 L876.60,152.17 L877.60,153.45 L878.60,154.72 L879.60,155.99 L880.60,157.26 L881.60,158.52 L882.60,159.77 L883.60,161.03 L884.60,162.27 L885.60,163.52 L886.60,164.76 L887.60,166.00 L888.60,167.24 L889.60,168.47 L890.60,169.70 L891.60,170.93 L892.60,172.16 L893.60,173.39 L894.60,174.61 L895.60,175.84 L896.60,177.06 L897.60,178.29 L898.60,179.52 L899.60,180.74 L900.60,181.97 L901.60,183.20 L902.60,184.43 L903.60,185.66 L904.60,186.89 L905.60,188.13 L906.60,189.37 L907.60,190.61 L908.60,191.86 L909.60,193.11 L910.60,194.36 L911.60,195.61 L912.60,196.88 L913.60,198.14 L914.60,199.41 L915.60,200.69 L916.60,201.97 L917.60,203.26 L918.60,204.55 L919.60,205.85 L920.60,207.16 L921.60,208.47 L922.60,209.79 L923.60,211.12 L924.60,212.46 L925.60,213.80 L926.60,215.15 L927.60,216.51 L928.60,217.89 L929.60,219.27 L930.60,220.66 L931.60,222.06 L932.60,223.47 L933.60,224.89 L934.60,226.32 L935.60,227.76 L936.60,229.22 L937.60,230.68 L938.60,232.16 L939.60,233.65 L940.60,235.15 L941.60,236.66 L942.60,238.18 L943.60,239.71 L944.60,241.25 L945.60,242.80 L946.60,244.35 L947.60,245.92 L948.60,247.49 L949.60,249.07 L950.60,250.66 L951.60,252.25 L952.60,253.85 L953.60,255.46 L954.60,257.07 L955.60,258.68 L956.60,260.30 L957.60,261.93 L958.60,263.56 L959.60,265.19 L960.60,266.82 L961.60,268.46 L962.60,270.09 L963.60,271.73 L964.60,273.37 L965.60,275.02 L966.60,276.66 L967.60,278.30 L968.60,279.94 L969.60,281.58 L970.60,283.22 L971.60,284.86 L972.60,286.50 L973.60,288.13 L974.60,289.76 L975.60,291.39 L976.60,293.01 L977.60,294.63 L978.60,296.25 L979.60,297.86 L980.60,299.46 L981.60,301.06 L982.60,302.65" stroke="#000000" stroke-width="1.8" fill="none"/>
<path d="M604.60,302.54 L605.60,302.67 L606.60,302.77 L607.60,302.86 L608.60,302.93 L609.60,302.97 L610.60,303.00 L611.60,303.01 L612.60,302.99 L613.60,302.96 L614.60,302.91 L615.60,302.84 L616.60,302.75 L617.60,302.64 L618.60,302.50 L619.60,302.35 L620.60,302.18 L621.60,301.99 L622.60,301.78 L623.60,301.55 L624.60,301.30 L625.60,301.03 L626.60,300.74 L627.60,300.42 L628.60,300.09 L629.60,299.74 L630.60,299.37 L631.60,298.98 L632.60,298.56 L633.60,298.13 L634.60,297.68 L635.60,297.20 L636.60,296.71 L637.60,296.20 L638.60,295.66 L639.60,295.11 L640.60,294.53 L641.60,293.93 L642.60,293.32 L643.60,292.68 L644.60,292.02 L645.60,291.34 L646.60,290.64 L647.60,289.92 L648.60,289.18 L649.60,288.41 L650.60,287.63 L651.60,286.83 L652.60,286.00 L653.60,285.15 L654.60,284.29 L655.60,283.40 L656.60,282.49 L657.60,281.56 L658.60,280.61 L659.60,279.64 L660.60,278.64 L661.60,277.63 L662.60,276.59 L663.60,275.53 L664.60,274.45 L665.60,273.35 L666.60,272.23 L667.60,271.09 L668.60,269.92 L669.60,268.74 L670.60,267.53 L671.60,266.30 L672.60,265.05 L673.60,263.78 L674.60,262.48 L675.60,261.17 L676.60,259.83 L677.60,258.47 L678.60,257.09 L679.60,255.68 L680.60,254.25 L681.60,252.80 L682.60,251.32 L683.60,249.82 L684.60,248.29 L685.60,246.73 L686.60,245.15 L687.60,243.54 L688.60,241.90 L689.60,240.24 L690.60,238.54 L691.60,236.82 L692.60,235.06 L693.60,233.28 L694.60,231.47 L695.60,229.62 L696.60,227.74 L697.60,225.83 L698.60,223.89 L699.60,221.91 L700.60,219.90 L701.60,217.86 L702.60,215.78 L703.60,213.67 L704.60,211.52 L705.60,209.33 L706.60,207.11 L707.60,204.85 L708.60,202.55 L709.60,200.22 L710.60,197.85 L711.60,195.43 L712.60,192.98 L713.60,190.49 L714.60,187.95 L715.60,185.38 L716.60,182.76 L717.60,180.10 L718.60,177.40 L719.60,174.67 L720.60,171.91 L721.60,169.12 L722.60,166.31 L723.60,163.49 L724.60,160.65 L725.60,157.80 L726.60,154.95 L727.60,152.11 L728.60,149.27 L729.60,146.44 L730.60,143.62 L731.60,140.82 L732.60,138.05 L733.60,135.31 L734.60,132.60 L735.60,129.92 L736.60,127.29 L737.60,124.69 L738.60,122.13 L739.60,119.61 L740.60,117.12 L741.60,114.68 L742.60,112.27 L743.60,109.90 L744.60,107.58 L745.60,105.29 L746.60,103.04 L747.60,100.83 L748.60,98.66 L749.60,96.53 L750.60,94.43 L751.60,92.38 L752.60,90.37 L753.60,88.40 L754.60,86.47 L755.60,84.59 L756.60,82.74 L757.60,80.93 L758.60,79.17 L759.60,77.44 L760.60,75.76 L761.60,74.12 L762.60,72.52 L763.60,70.97 L764.60,69.46 L765.60,67.98 L766.60,66.56 L767.60,65.17 L768.60,63.83 L769.60,62.53 L770.60,61.27 L771.60,60.06 L772.60,58.89 L773.60,57.77 L774.60,56.69 L775.60,55.65 L776.60,54.66 L777.60,53.71 L778.60,52.80 L779.60,51.94 L780.60,51.13 L781.60,50.36 L782.60,49.64 L783.60,48.96 L784.60,48.33 L785.60,47.74 L786.60,47.20 L787.60,46.71 L788.60,46.26 L789.60,45.86 L790.60,45.50 L791.60,45.19 L792.60,44.93 L793.60,44.72 L794.60,44.55 L795.60,44.43 L796.60,44.36 L797.60,44.33 L798.60,44.36 L799.60,44.43 L800.60,44.55 L801.60,44.72 L802.60,44.93 L803.60,45.20 L804.60,45.51 L805.60,45.87 L806.60,46.28 L807.60,46.74 L808.60,47.25 L809.60,47.80 L810.60,48.39 L811.60,49.03 L812.60,49.71 L813.60,50.44 L814.60,51.21 L815.60,52.03 L816.60,52.88 L817.60,53.78 L818.60,54.71 L819.60,55.69 L820.60,56.71 L821.60,57.76 L822.60,58.86 L823.60,59.99 L824.60,61.16 L825.60,62.37 L826.60,63.61 L827.60,64.88 L828.60,66.20 L829.60,67.54 L830.60,68.92 L831.60,70.34 L832.60,71.78 L833.60,73.26 L834.60,74.77 L835.60,76.31 L836.60,77.88 L837.60,79.48 L838.60,81.11 L839.60,82.77 L840.60,84.46 L841.60,86.17 L842.60,87.91 L843.60,89.68 L844.60,91.47 L845.60,93.29 L846.60,95.13 L847.60,97.00 L848.60,98.89 L849.60,100.80 L850.60,102.73 L851.60,104.69 L852.60,106.67 L853.60,108.66 L854.60,110.68 L855.60,112.71 L856.60,114.76 L857.60,116.83 L858.60,118.91 L859.60,121.00 L860.60,123.10 L861.60,125.22 L862.60,127.34 L863.60,129.47 L864.60,131.61 L865.60,133.75 L866.60,135.90 L867.60,138.05 L868.60,140.21 L869.60,142.36 L870.60,144.52 L871.60,146.67 L872.60,148.82 L873.60,150.96 L874.60,153.11 L875.60,155.24 L876.60,157.37 L877.60,159.49 L878.60,161.59 L879.60,163.69 L880.60,165.78 L881.60,167.85 L882.60,169.91 L883.60,171.95 L884.60,173.97 L885.60,175.98 L886.60,177.96 L887.60,179.93 L888.60,181.87 L889.60,183.79 L890.60,185.69 L891.60,187.56 L892.60,189.41 L893.60,191.22 L894.60,193.01 L895.60,194.77 L896.60,196.49 L897.60,198.19 L898.60,199.85 L899.60,201.47 L900.60,203.06 L901.60,204.61 L902.60,206.12 L903.60,207.60 L904.60,209.03 L905.60,210.42 L906.60,211.76 L907.60,213.06 L908.60,214.32 L909.60,215.54 L910.60,216.72 L911.60,217.86 L912.60,218.97 L913.60,220.05 L914.60,221.09 L915.60,222.11 L916.60,223.10 L917.60,224.07 L918.60,225.01 L919.60,225.94 L920.60,226.84 L921.60,227.73 L922.60,228.61 L923.60,229.48 L924.60,230.33 L925.60,231.18 L926.60,232.02 L927.60,232.86 L928.60,233.70 L929.60,234.53 L930.60,235.37 L931.60,236.22 L932.60,237.07 L933.60,237.93 L934.60,238.80 L935.60,239.69 L936.60,240.59 L937.60,241.50 L938.60,242.44 L939.60,243.40 L940.60,244.38 L941.60,245.38 L942.60,246.42 L943.60,247.48 L944.60,248.57 L945.60,249.70 L946.60,250.86 L947.60,252.06 L948.60,253.29 L949.60,254.54 L950.60,255.83 L951.60,257.14 L952.60,258.48 L953.60,259.85 L954.60,261.24 L955.60,262.65 L956.60,264.09 L957.60,265.54 L958.60,267.02 L959.60,268.51 L960.60,270.01 L961.60,271.53 L962.60,273.06 L963.60,274.59 L964.60,276.13 L965.60,277.68 L966.60,279.22 L967.60,280.77 L968.60,282.31 L969.60,283.85 L970.60,285.38 L971.60,286.91 L972.60,288.42 L973.60,289.93 L974.60,291.41 L975.60,292.89 L976.60,294.34 L977.60,295.77 L978.60,297.18 L979.60,298.57 L980.60,299.92 L981.60,301.25 L982.60,302.55" stroke="#0000ff" stroke-width="1.8" fill="none"/>
<rect x="639.27" y="270.05" width="6.3" height="6.3" fill="#000"/>
<rect x="677.09" y="211.05" width="6.3" height="6.3" fill="#000"/>
<rect x="714.91" y="152.65" width="6.3" height="6.3" fill="#000"/>
<rect x="752.73" y="110.15" width="6.3" height="6.3" fill="#000"/>
<rect x="790.55" y="56.35" width="6.3" height="6.3" fill="#000"/>
<rect x="828.37" y="92.85" width="6.3" height="6.3" fill="#000"/>
<rect x="866.19" y="137.35" width="6.3" height="6.3" fill="#000"/>
<rect x="904.01" y="182.35" width="6.3" height="6.3" fill="#000"/>
<rect x="941.83" y="238.35" width="6.3" height="6.3" fill="#000"/>
<circle cx="604.60" cy="304.60" r="3.6" fill="#f00"/>
<circle cx="642.42" cy="303.70" r="3.6" fill="#f00"/>
<circle cx="680.24" cy="230.00" r="3.6" fill="#f00"/>
<circle cx="718.06" cy="175.00" r="3.6" fill="#f00"/>
<circle cx="755.88" cy="127.00" r="3.6" fill="#f00"/>
<circle cx="793.70" cy="123.10" r="3.6" fill="#f00"/>
<circle cx="831.52" cy="138.50" r="3.6" fill="#f00"/>
<circle cx="869.34" cy="171.80" r="3.6" fill="#f00"/>
<circle cx="907.16" cy="199.30" r="3.6" fill="#f00"/>
<circle cx="944.98" cy="262.00" r="3.6" fill="#f00"/>
<circle cx="982.80" cy="303.50" r="3.6" fill="#f00"/>
<path d="M604.60,298.30 L608.80,305.70 L600.40,305.70 Z" fill="#00f"/>
<path d="M642.42,298.30 L646.62,305.70 L638.22,305.70 Z" fill="#00f"/>
<path d="M680.24,252.80 L684.44,260.20 L676.04,260.20 Z" fill="#00f"/>
<path d="M718.06,184.00 L722.26,191.40 L713.86,191.40 Z" fill="#00f"/>
<path d="M755.88,62.90 L760.08,70.30 L751.68,70.30 Z" fill="#00f"/>
<path d="M793.70,30.10 L797.90,37.50 L789.50,37.50 Z" fill="#00f"/>
<path d="M831.52,56.60 L835.72,64.00 L827.32,64.00 Z" fill="#00f"/>
<path d="M869.34,139.90 L873.54,147.30 L865.14,147.30 Z" fill="#00f"/>
<path d="M907.16,217.60 L911.36,225.00 L902.96,225.00 Z" fill="#00f"/>
<path d="M944.98,241.70 L949.18,249.10 L940.78,249.10 Z" fill="#00f"/>
<path d="M982.80,298.90 L987.00,306.30 L978.60,306.30 Z" fill="#00f"/>
<path d="M921,27.0 H956" stroke="#000" stroke-width="1.7"/>
<rect x="935.65" y="23.85" width="6.3" height="6.3" fill="#000"/>
<text x="961" y="31.8" class="lg"><tspan font-weight="bold">L1</tspan>+Al<tspan class="lsup" dx="1.3" dy="-8.0">3+</tspan></text>
<path d="M921,49.6 H956" stroke="#f00" stroke-width="1.7"/>
<circle cx="938.80" cy="49.60" r="3.6" fill="#f00"/>
<text x="961" y="54.4" class="lg"><tspan font-weight="bold">L2</tspan>+Al<tspan class="lsup" dx="1.3" dy="-8.0">3+</tspan></text>
<path d="M921,73.4 H956" stroke="#00f" stroke-width="1.7"/>
<path d="M938.80,69.70 L943.00,77.10 L934.60,77.10 Z" fill="#00f"/>
<text x="961" y="78.2" class="lg"><tspan font-weight="bold">L3</tspan>+Al<tspan class="lsup" dx="1.3" dy="-8.0">3+</tspan></text>
<text x="53.6" y="337.1" text-anchor="end" class="tky">0.0</text>
<text x="53.6" y="284.0" text-anchor="end" class="tky">0.5</text>
<text x="53.6" y="230.9" text-anchor="end" class="tky">1.0</text>
<text x="53.6" y="177.8" text-anchor="end" class="tky">1.5</text>
<text x="53.6" y="124.6" text-anchor="end" class="tky">2.0</text>
<text x="53.6" y="71.5" text-anchor="end" class="tky">2.5</text>
<text x="53.6" y="18.4" text-anchor="end" class="tky">3.0</text>
<text x="64.4" y="359.2" text-anchor="middle" class="tk">300</text>
<text x="126.2" y="359.2" text-anchor="middle" class="tk">350</text>
<text x="187.9" y="359.2" text-anchor="middle" class="tk">400</text>
<text x="249.7" y="359.2" text-anchor="middle" class="tk">450</text>
<text x="311.5" y="359.2" text-anchor="middle" class="tk">500</text>
<text x="373.2" y="359.2" text-anchor="middle" class="tk">550</text>
<text x="435.0" y="359.2" text-anchor="middle" class="tk">600</text>
<text x="496.8" y="359.2" text-anchor="middle" class="tk">650</text>
<text x="556" y="308.3" text-anchor="end" class="tkb">0.0</text>
<text x="556" y="253.6" text-anchor="end" class="tkb">0.5</text>
<text x="556" y="199.0" text-anchor="end" class="tkb">1.0</text>
<text x="556" y="144.3" text-anchor="end" class="tkb">1.5</text>
<text x="556" y="89.7" text-anchor="end" class="tkb">2.0</text>
<text x="556" y="35.0" text-anchor="end" class="tkb">2.5</text>
<text x="604.8" y="353" text-anchor="middle" class="tkb">0.0</text>
<text x="680.4" y="353" text-anchor="middle" class="tkb">0.2</text>
<text x="756.1" y="353" text-anchor="middle" class="tkb">0.4</text>
<text x="831.7" y="353" text-anchor="middle" class="tkb">0.6</text>
<text x="907.4" y="353" text-anchor="middle" class="tkb">0.8</text>
<text x="983.0" y="353" text-anchor="middle" class="tkb">1.0</text>
<text x="6" y="20" class="plab">a</text>
<text x="519" y="20.5" class="plab">b</text>
<text class="axl" transform="translate(16.8,170.6) rotate(-90)" text-anchor="middle">Absorbance</text>
<text class="axl" transform="translate(527,177.6) rotate(-90)" text-anchor="middle">Absorbance</text>
<text x="280.8" y="384.2" class="axl" text-anchor="middle">Wavelength (nm)</text>
<text x="722.3" y="384.3" class="axl2">Mole fraction of Al<tspan class="sup2" dx="0.6" dy="-8.2">3+</tspan></text>
<text x="209.0" y="75.9" class="bl14">Al<tspan class="bsup" dx="1.4" dy="-3.4">3+</tspan></text>
<path d="M178.4,82.3 H256 V79.2 L262.9,85.3 L256,91.9 V88.5 H178.4 Z" fill="#eef6ff" stroke="#5b6f9e" stroke-width="1.1"/>
<text x="158.6" y="197.8" class="ion">L3, Ba<tspan class="isup" dx="0.9" dy="-6.0">2+</tspan><tspan dx="0.6" dy="6.0">, </tspan>Ca<tspan class="isup" dx="0.9" dy="-6.0">2+</tspan><tspan dx="0.6" dy="6.0">, </tspan>Cd<tspan class="isup" dx="0.9" dy="-6.0">2+</tspan><tspan dx="0.6" dy="6.0">, </tspan>Co<tspan class="isup" dx="0.9" dy="-6.0">2+</tspan><tspan dx="0.6" dy="6.0">,</tspan></text>
<text x="158.6" y="221.6" class="ion">Cs<tspan class="isup" dx="0.0" dy="-6.0">+</tspan><tspan dx="0.9" dy="6.0">, </tspan>Fe<tspan class="isup" dx="0.9" dy="-6.0">2+</tspan><tspan dx="0.6" dy="6.0">, </tspan>Fe<tspan class="isup" dx="0.9" dy="-6.0">3+</tspan><tspan dx="0.6" dy="6.0">, </tspan>Gd<tspan class="isup" dx="0.9" dy="-6.0">3+</tspan><tspan dx="0.6" dy="6.0">, </tspan>Hg<tspan class="isup" dx="0.9" dy="-6.0">2+</tspan><tspan dx="0.6" dy="6.0">,</tspan></text>
<text x="158.6" y="245.4" class="ion">K<tspan class="isup" dx="0.0" dy="-6.0">+</tspan><tspan dx="0.9" dy="6.0">, </tspan>Li<tspan class="isup" dx="0.0" dy="-6.0">+</tspan><tspan dx="0.9" dy="6.0">, </tspan>Mg<tspan class="isup" dx="0.9" dy="-6.0">2+</tspan><tspan dx="0.6" dy="6.0">, </tspan>Mn<tspan class="isup" dx="0.9" dy="-6.0">2+</tspan><tspan dx="0.6" dy="6.0">, </tspan>Na<tspan class="isup" dx="0.0" dy="-6.0">+</tspan><tspan dx="0.9" dy="6.0">,</tspan></text>
<text x="158.6" y="269.2" class="ion">Nd<tspan class="isup" dx="0.9" dy="-6.0">3+</tspan><tspan dx="0.6" dy="6.0">, </tspan>Ni<tspan class="isup" dx="0.9" dy="-6.0">2+</tspan><tspan dx="0.6" dy="6.0">, </tspan>Pb<tspan class="isup" dx="0.9" dy="-6.0">2+</tspan><tspan dx="0.6" dy="6.0">, </tspan>Sr<tspan class="isup" dx="0.9" dy="-6.0">2+</tspan><tspan dx="0.6" dy="6.0">, </tspan>Zn<tspan class="isup" dx="0.9" dy="-6.0">2+</tspan><tspan dx="0.6" dy="6.0"></tspan></text>
<text x="329" y="133.7" class="ion">Al<tspan class="isup" dx="1.3" dy="-8.7">3+</tspan></text>
<text x="337.3" y="258.5" class="ion">Cr<tspan class="isup" dx="0.3" dy="-6.2">3+</tspan><tspan dx="-0.4" dy="6.2">, Cu</tspan><tspan class="isup" dx="0.5" dy="-7.5">2+</tspan></text>
<path d="M369.40,152.00 L353.51,137.09" stroke="#000" stroke-width="1.7"/><path d="M348.40,132.30 L357.56,135.69 L352.36,141.23 Z" fill="#000"/>
<path d="M368.60,283.30 L358.37,267.30" stroke="#000" stroke-width="1.7"/><path d="M354.60,261.40 L362.65,266.94 L356.25,271.03 Z" fill="#000"/>
<path d="M323.80,326.90 L282.22,283.08" stroke="#000" stroke-width="1.7"/><path d="M277.40,278.00 L286.35,281.91 L280.84,287.14 Z" fill="#000"/>
</svg>
</body></html>
